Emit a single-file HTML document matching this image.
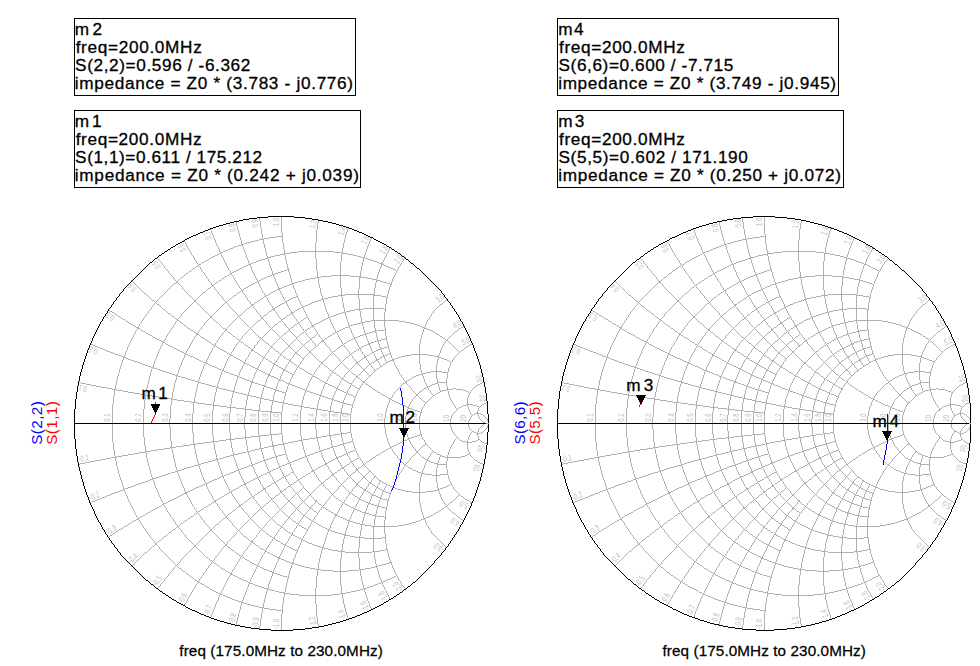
<!DOCTYPE html>
<html><head><meta charset="utf-8"><title>Smith charts</title>
<style>
html,body{margin:0;padding:0;background:#fff;}
body{width:980px;height:666px;overflow:hidden;}
svg{display:block;}
text{font-family:"Liberation Sans",Arial,sans-serif;}
.tl text{font-size:8.8px;}
.bx,.mk{font-size:17.2px;fill:#000;stroke:#000;stroke-width:0.3px;}
.ax{font-size:14.8px;fill:#000;stroke:#000;stroke-width:0.25px;}
.tr{font-size:14.8px;}
</style></head><body>
<svg width="980" height="666" viewBox="0 0 980 666">
<rect width="980" height="666" fill="#fff"/>

<g shape-rendering="crispEdges" fill="none" stroke-width="1">
<path stroke="#b0b0b0" d="M235 221.5h1M210 229.5h1M276 236.5h6M269 237.5h7M264 238.5h5M259 239.5h3M263 239.5h1M183 240.5h1M255 240.5h4M184 241.5h1M251 241.5h4M247 242.5h4M244 243.5h3M242 244.5h2M238 245.5h3M235 246.5h3M233 247.5h2M390 247.5h1M230 248.5h3M228 249.5h2M189 250.5h1M225 250.5h3M223 251.5h2M298 251.5h36M220 252.5h3M290 252.5h8M334 252.5h9M219 253.5h2M284 253.5h6M342 253.5h6M217 254.5h2M280 254.5h4M348 254.5h5M192 255.5h1M215 255.5h2M275 255.5h5M353 255.5h4M213 256.5h2M271 256.5h4M357 256.5h4M211 257.5h2M267 257.5h4M361 257.5h2M364 257.5h1M405 257.5h1M209 258.5h2M265 258.5h3M365 258.5h3M404 258.5h1M158 259.5h1M208 259.5h1M261 259.5h4M368 259.5h3M159 260.5h1M195 260.5h1M206 260.5h2M258 260.5h3M371 260.5h3M160 261.5h1M204 261.5h2M256 261.5h2M374 261.5h3M402 261.5h1M202 262.5h2M253 262.5h3M377 262.5h2M197 263.5h1M201 263.5h1M251 263.5h2M379 263.5h4M162 264.5h1M198 264.5h3M248 264.5h3M382 264.5h2M163 265.5h1M246 265.5h2M384 265.5h2M196 266.5h2M199 266.5h1M244 266.5h2M386 266.5h2M399 266.5h1M195 267.5h1M242 267.5h2M388 267.5h3M165 268.5h1M193 268.5h2M240 268.5h2M391 268.5h2M166 269.5h1M192 269.5h1M238 269.5h2M287 269.5h1M393 269.5h2M167 270.5h1M191 270.5h1M229 270.5h1M236 270.5h2M284 270.5h3M395 270.5h1M189 271.5h2M202 271.5h1M234 271.5h2M281 271.5h3M188 272.5h1M203 272.5h1M232 272.5h2M278 272.5h3M169 273.5h1M186 273.5h2M231 273.5h1M275 273.5h3M170 274.5h1M185 274.5h1M229 274.5h1M273 274.5h2M171 275.5h1M184 275.5h1M205 275.5h1M227 275.5h2M232 275.5h1M270 275.5h2M331 275.5h9M341 275.5h9M172 276.5h1M183 276.5h1M225 276.5h2M267 276.5h3M321 276.5h10M350 276.5h9M360 276.5h1M181 277.5h2M224 277.5h1M265 277.5h2M315 277.5h2M319 277.5h2M360 277.5h7M180 278.5h1M207 278.5h1M222 278.5h2M263 278.5h2M310 278.5h5M367 278.5h5M174 279.5h1M179 279.5h1M221 279.5h1M261 279.5h2M305 279.5h5M372 279.5h5M131 280.5h1M175 280.5h1M178 280.5h1M219 280.5h2M259 280.5h2M302 280.5h3M376 280.5h4M132 281.5h1M176 281.5h2M209 281.5h1M218 281.5h1M257 281.5h1M298 281.5h4M380 281.5h3M133 282.5h1M176 282.5h2M210 282.5h1M216 282.5h2M236 282.5h1M255 282.5h2M295 282.5h3M383 282.5h4M134 283.5h1M174 283.5h2M178 283.5h1M215 283.5h1M253 283.5h2M292 283.5h3M387 283.5h3M135 284.5h1M173 284.5h1M179 284.5h1M214 284.5h1M251 284.5h2M289 284.5h4M136 285.5h1M172 285.5h1M180 285.5h1M212 285.5h2M238 285.5h1M249 285.5h2M287 285.5h2M137 286.5h1M171 286.5h1M181 286.5h1M211 286.5h1M248 286.5h1M284 286.5h3M138 287.5h1M170 287.5h1M210 287.5h1M246 287.5h2M282 287.5h2M139 288.5h1M169 288.5h1M208 288.5h2M240 288.5h1M244 288.5h2M278 288.5h4M140 289.5h1M168 289.5h1M183 289.5h1M207 289.5h1M215 289.5h1M243 289.5h1M277 289.5h1M279 289.5h1M141 290.5h1M167 290.5h1M184 290.5h1M206 290.5h1M216 290.5h1M241 290.5h1M275 290.5h2M142 291.5h1M166 291.5h1M185 291.5h1M205 291.5h1M217 291.5h1M240 291.5h1M273 291.5h2M143 292.5h1M165 292.5h1M186 292.5h1M203 292.5h2M238 292.5h2M263 292.5h1M271 292.5h2M144 293.5h2M164 293.5h1M187 293.5h1M202 293.5h1M237 293.5h1M243 293.5h1M270 293.5h1M146 294.5h1M163 294.5h1M188 294.5h1M201 294.5h1M219 294.5h1M236 294.5h1M244 294.5h1M268 294.5h2M345 294.5h30M147 295.5h1M162 295.5h1M189 295.5h1M200 295.5h1M220 295.5h1M234 295.5h2M265 295.5h3M338 295.5h3M342 295.5h3M374 295.5h7M148 296.5h1M161 296.5h1M190 296.5h1M199 296.5h1M221 296.5h1M233 296.5h1M264 296.5h2M296 296.5h1M332 296.5h6M381 296.5h5M149 297.5h1M160 297.5h1M191 297.5h1M198 297.5h1M232 297.5h1M246 297.5h1M263 297.5h1M266 297.5h1M293 297.5h3M328 297.5h4M150 298.5h1M159 298.5h1M192 298.5h1M197 298.5h1M230 298.5h2M261 298.5h2M291 298.5h2M324 298.5h4M151 299.5h1M158 299.5h1M193 299.5h1M196 299.5h1M223 299.5h1M229 299.5h1M260 299.5h1M289 299.5h2M321 299.5h1M446 299.5h1M152 300.5h2M157 300.5h1M194 300.5h2M224 300.5h1M228 300.5h1M248 300.5h1M258 300.5h2M287 300.5h2M318 300.5h3M445 300.5h1M154 301.5h1M156 301.5h1M194 301.5h2M227 301.5h1M249 301.5h1M257 301.5h1M285 301.5h1M315 301.5h3M444 301.5h1M155 302.5h1M193 302.5h1M196 302.5h1M225 302.5h2M255 302.5h2M269 302.5h1M284 302.5h1M312 302.5h3M443 302.5h1M156 303.5h1M192 303.5h1M197 303.5h1M224 303.5h1M227 303.5h1M254 303.5h1M282 303.5h2M310 303.5h2M442 303.5h1M157 304.5h2M191 304.5h1M198 304.5h1M223 304.5h1M251 304.5h3M280 304.5h2M308 304.5h2M440 304.5h2M153 305.5h1M159 305.5h1M190 305.5h1M199 305.5h1M222 305.5h1M251 305.5h2M271 305.5h1M278 305.5h2M305 305.5h3M439 305.5h1M152 306.5h1M160 306.5h1M189 306.5h1M200 306.5h1M221 306.5h1M229 306.5h1M250 306.5h1M277 306.5h1M302 306.5h3M438 306.5h1M161 307.5h1M188 307.5h1M201 307.5h1M220 307.5h1M230 307.5h1M249 307.5h1M275 307.5h2M301 307.5h2M437 307.5h1M162 308.5h1M187 308.5h1M202 308.5h1M219 308.5h1M231 308.5h1M247 308.5h2M254 308.5h1M273 308.5h1M299 308.5h2M363 308.5h10M374 308.5h10M436 308.5h1M108 309.5h1M150 309.5h1M163 309.5h2M186 309.5h1M203 309.5h1M218 309.5h1M232 309.5h1M246 309.5h1M255 309.5h1M272 309.5h3M297 309.5h2M355 309.5h4M360 309.5h3M384 309.5h1M435 309.5h1M109 310.5h1M149 310.5h1M165 310.5h1M185 310.5h1M204 310.5h1M217 310.5h1M233 310.5h1M245 310.5h1M271 310.5h1M290 310.5h1M295 310.5h2M350 310.5h5M434 310.5h1M110 311.5h2M166 311.5h1M184 311.5h1M205 311.5h1M216 311.5h1M234 311.5h1M244 311.5h1M269 311.5h2M275 311.5h1M294 311.5h1M346 311.5h4M112 312.5h2M167 312.5h1M183 312.5h1M206 312.5h1M215 312.5h1M235 312.5h1M243 312.5h1M257 312.5h1M268 312.5h1M291 312.5h3M342 312.5h2M345 312.5h1M114 313.5h1M147 313.5h1M168 313.5h2M182 313.5h1M207 313.5h1M214 313.5h1M236 313.5h1M242 313.5h1M258 313.5h1M267 313.5h1M339 313.5h3M432 313.5h1M115 314.5h2M146 314.5h1M170 314.5h1M208 314.5h1M213 314.5h1M241 314.5h1M259 314.5h1M266 314.5h1M277 314.5h1M289 314.5h2M336 314.5h3M117 315.5h1M171 315.5h1M209 315.5h1M212 315.5h1M239 315.5h2M264 315.5h2M287 315.5h2M293 315.5h1M333 315.5h3M118 316.5h2M172 316.5h2M180 316.5h1M210 316.5h2M238 316.5h1M263 316.5h1M286 316.5h1M330 316.5h3M430 316.5h1M120 317.5h1M144 317.5h1M174 317.5h1M179 317.5h1M210 317.5h2M237 317.5h1M239 317.5h1M261 317.5h2M279 317.5h1M285 317.5h1M306 317.5h2M329 317.5h1M121 318.5h2M175 318.5h1M178 318.5h1M209 318.5h1M212 318.5h1M236 318.5h1M240 318.5h1M261 318.5h2M280 318.5h1M283 318.5h2M295 318.5h1M304 318.5h2M326 318.5h2M123 319.5h2M176 319.5h2M208 319.5h1M213 319.5h1M235 319.5h1M241 319.5h1M260 319.5h1M263 319.5h1M281 319.5h2M303 319.5h1M324 319.5h2M428 319.5h1M125 320.5h1M142 320.5h1M177 320.5h2M207 320.5h1M214 320.5h1M234 320.5h1M242 320.5h1M258 320.5h2M264 320.5h1M301 320.5h2M309 320.5h1M322 320.5h2M371 320.5h28M126 321.5h2M176 321.5h1M179 321.5h1M206 321.5h1M215 321.5h1M233 321.5h1M243 321.5h1M257 321.5h1M265 321.5h1M279 321.5h2M282 321.5h1M297 321.5h1M300 321.5h1M320 321.5h2M365 321.5h6M399 321.5h6M128 322.5h1M180 322.5h2M205 322.5h1M216 322.5h2M232 322.5h1M244 322.5h1M256 322.5h1M278 322.5h1M283 322.5h1M298 322.5h2M318 322.5h2M362 322.5h3M405 322.5h5M129 323.5h2M140 323.5h1M182 323.5h1M218 323.5h1M231 323.5h1M245 323.5h1M255 323.5h1M277 323.5h1M284 323.5h1M297 323.5h2M316 323.5h2M357 323.5h4M410 323.5h4M131 324.5h2M174 324.5h1M183 324.5h1M219 324.5h1M230 324.5h1M246 324.5h1M254 324.5h1M267 324.5h1M275 324.5h2M295 324.5h2M299 324.5h1M314 324.5h2M353 324.5h4M414 324.5h3M133 325.5h1M184 325.5h2M203 325.5h1M220 325.5h1M229 325.5h1M247 325.5h1M253 325.5h1M268 325.5h1M274 325.5h1M294 325.5h1M312 325.5h1M349 325.5h4M417 325.5h3M134 326.5h2M186 326.5h1M202 326.5h1M221 326.5h1M228 326.5h1M248 326.5h1M252 326.5h1M269 326.5h1M273 326.5h1M286 326.5h1M293 326.5h1M311 326.5h3M348 326.5h1M420 326.5h2M463 326.5h1M136 327.5h3M172 327.5h1M187 327.5h1M222 327.5h1M227 327.5h1M249 327.5h1M251 327.5h1M270 327.5h1M272 327.5h1M287 327.5h1M291 327.5h2M301 327.5h1M310 327.5h1M345 327.5h3M422 327.5h3M461 327.5h2M137 328.5h3M188 328.5h2M223 328.5h2M250 328.5h1M271 328.5h1M288 328.5h1M290 328.5h1M302 328.5h1M308 328.5h2M314 328.5h1M343 328.5h2M424 328.5h3M459 328.5h2M140 329.5h1M190 329.5h1M200 329.5h1M225 329.5h1M249 329.5h1M251 329.5h1M270 329.5h1M272 329.5h1M307 329.5h1M341 329.5h2M384 329.5h1M427 329.5h3M458 329.5h1M136 330.5h1M141 330.5h2M170 330.5h1M191 330.5h2M199 330.5h1M225 330.5h1M248 330.5h1M252 330.5h1M269 330.5h1M273 330.5h1M288 330.5h2M305 330.5h2M339 330.5h2M377 330.5h7M430 330.5h2M457 330.5h1M143 331.5h2M193 331.5h1M224 331.5h1M227 331.5h1M247 331.5h1M253 331.5h1M268 331.5h1M274 331.5h1M287 331.5h1M290 331.5h1M304 331.5h1M316 331.5h1M337 331.5h2M373 331.5h2M376 331.5h1M432 331.5h2M455 331.5h2M145 332.5h1M194 332.5h2M223 332.5h1M228 332.5h2M246 332.5h1M254 332.5h1M267 332.5h1M275 332.5h1M286 332.5h1M291 332.5h1M303 332.5h1M305 332.5h1M336 332.5h1M369 332.5h4M434 332.5h1M454 332.5h1M146 333.5h2M168 333.5h1M197 333.5h1M230 333.5h1M245 333.5h1M255 333.5h1M266 333.5h1M276 333.5h1M284 333.5h2M292 333.5h1M301 333.5h2M333 333.5h2M365 333.5h4M435 333.5h2M453 333.5h1M148 334.5h2M196 334.5h3M231 334.5h1M244 334.5h1M256 334.5h1M265 334.5h1M277 334.5h1M283 334.5h1M293 334.5h1M300 334.5h1M316 334.5h1M318 334.5h1M332 334.5h1M363 334.5h3M437 334.5h2M452 334.5h1M150 335.5h2M199 335.5h1M221 335.5h1M232 335.5h1M243 335.5h1M257 335.5h1M264 335.5h1M278 335.5h1M282 335.5h1M294 335.5h1M299 335.5h1M307 335.5h1M315 335.5h1M330 335.5h2M360 335.5h3M439 335.5h1M451 335.5h1M152 336.5h1M195 336.5h1M200 336.5h1M220 336.5h1M233 336.5h2M258 336.5h1M263 336.5h1M279 336.5h1M281 336.5h1M295 336.5h1M298 336.5h1M308 336.5h1M314 336.5h1M328 336.5h2M358 336.5h2M440 336.5h2M450 336.5h1M153 337.5h2M201 337.5h2M235 337.5h1M259 337.5h2M262 337.5h1M280 337.5h1M296 337.5h2M309 337.5h1M312 337.5h2M320 337.5h1M327 337.5h1M354 337.5h4M442 337.5h1M449 337.5h1M155 338.5h2M203 338.5h2M236 338.5h1M241 338.5h1M261 338.5h1M279 338.5h1M281 338.5h1M310 338.5h2M321 338.5h1M325 338.5h2M353 338.5h2M385 338.5h1M443 338.5h2M448 338.5h1M157 339.5h2M193 339.5h1M205 339.5h1M218 339.5h1M237 339.5h2M240 339.5h1M260 339.5h1M262 339.5h1M278 339.5h1M282 339.5h1M295 339.5h1M297 339.5h1M324 339.5h1M340 339.5h1M351 339.5h2M381 339.5h4M445 339.5h1M159 340.5h2M164 340.5h1M206 340.5h2M259 340.5h1M263 340.5h1M277 340.5h1M283 340.5h1M294 340.5h1M298 340.5h1M309 340.5h1M311 340.5h1M323 340.5h1M349 340.5h2M377 340.5h4M446 340.5h2M161 341.5h3M208 341.5h1M239 341.5h2M258 341.5h1M264 341.5h1M276 341.5h1M284 341.5h1M293 341.5h1M299 341.5h1M308 341.5h1M312 341.5h1M321 341.5h3M347 341.5h2M374 341.5h3M448 341.5h1M163 342.5h2M209 342.5h2M216 342.5h1M238 342.5h1M241 342.5h2M265 342.5h1M275 342.5h1M285 342.5h1M292 342.5h1M300 342.5h1M306 342.5h2M313 342.5h1M320 342.5h1M324 342.5h1M346 342.5h1M371 342.5h3M449 342.5h1M90 343.5h1M165 343.5h1M211 343.5h1M237 343.5h1M243 343.5h1M266 343.5h2M274 343.5h1M286 343.5h1M291 343.5h1M301 343.5h1M305 343.5h1M314 343.5h1M319 343.5h1M344 343.5h2M369 343.5h2M444 343.5h1M450 343.5h1M472 343.5h1M91 344.5h2M166 344.5h2M212 344.5h2M244 344.5h1M256 344.5h1M268 344.5h1M273 344.5h1M287 344.5h1M290 344.5h1M302 344.5h1M304 344.5h1M318 344.5h1M343 344.5h1M367 344.5h1M369 344.5h1M451 344.5h1M470 344.5h2M93 345.5h2M168 345.5h2M214 345.5h1M245 345.5h2M255 345.5h1M269 345.5h1M272 345.5h1M288 345.5h2M303 345.5h1M317 345.5h1M326 345.5h1M341 345.5h2M364 345.5h3M452 345.5h1M468 345.5h2M95 346.5h3M170 346.5h2M216 346.5h1M235 346.5h1M247 346.5h1M270 346.5h2M288 346.5h2M302 346.5h1M304 346.5h1M316 346.5h1M327 346.5h1M340 346.5h1M362 346.5h2M387 346.5h1M453 346.5h1M467 346.5h1M98 347.5h2M172 347.5h2M213 347.5h1M217 347.5h2M248 347.5h2M271 347.5h2M287 347.5h1M290 347.5h1M301 347.5h1M305 347.5h1M314 347.5h2M328 347.5h1M338 347.5h2M345 347.5h1M361 347.5h1M384 347.5h3M454 347.5h1M465 347.5h2M100 348.5h3M174 348.5h2M188 348.5h1M219 348.5h1M250 348.5h1M253 348.5h1M270 348.5h1M273 348.5h1M286 348.5h1M291 348.5h1M300 348.5h1M306 348.5h1M313 348.5h1M329 348.5h1M337 348.5h1M346 348.5h1M359 348.5h1M380 348.5h4M455 348.5h1M464 348.5h1M103 349.5h2M176 349.5h2M220 349.5h2M252 349.5h1M269 349.5h1M274 349.5h1M285 349.5h1M292 349.5h1M299 349.5h1M307 349.5h1M312 349.5h1M336 349.5h1M357 349.5h2M378 349.5h3M456 349.5h1M463 349.5h1M105 350.5h2M178 350.5h2M222 350.5h2M251 350.5h3M275 350.5h1M284 350.5h1M293 350.5h1M298 350.5h1M308 350.5h1M311 350.5h1M335 350.5h1M356 350.5h1M376 350.5h2M457 350.5h1M461 350.5h2M107 351.5h3M180 351.5h2M224 351.5h2M232 351.5h1M254 351.5h1M276 351.5h2M283 351.5h1M294 351.5h1M297 351.5h1M309 351.5h2M331 351.5h1M333 351.5h2M348 351.5h1M354 351.5h2M361 351.5h1M374 351.5h2M458 351.5h1M460 351.5h1M110 352.5h3M182 352.5h2M226 352.5h1M250 352.5h1M255 352.5h2M267 352.5h1M278 352.5h1M282 352.5h1M295 352.5h2M309 352.5h2M332 352.5h1M353 352.5h1M372 352.5h2M459 352.5h1M113 353.5h2M184 353.5h2M227 353.5h2M257 353.5h1M266 353.5h1M279 353.5h1M295 353.5h2M308 353.5h1M311 353.5h1M331 353.5h1M333 353.5h1M351 353.5h2M370 353.5h2M389 353.5h1M458 353.5h1M115 354.5h3M185 354.5h3M229 354.5h2M258 354.5h2M280 354.5h2M294 354.5h1M297 354.5h2M307 354.5h1M312 354.5h1M330 354.5h1M334 354.5h1M350 354.5h1M363 354.5h1M369 354.5h1M387 354.5h2M411 354.5h8M420 354.5h8M457 354.5h1M118 355.5h3M188 355.5h2M230 355.5h3M260 355.5h1M282 355.5h1M299 355.5h1M306 355.5h1M313 355.5h1M329 355.5h1M335 355.5h1M349 355.5h1M351 355.5h1M367 355.5h2M385 355.5h2M405 355.5h6M428 355.5h6M456 355.5h1M121 356.5h2M190 356.5h3M229 356.5h1M233 356.5h1M261 356.5h2M279 356.5h1M283 356.5h1M300 356.5h1M305 356.5h1M314 356.5h1M328 356.5h1M336 356.5h1M348 356.5h1M364 356.5h3M382 356.5h3M401 356.5h4M434 356.5h5M455 356.5h1M123 357.5h3M193 357.5h2M234 357.5h2M247 357.5h1M263 357.5h2M284 357.5h2M292 357.5h1M301 357.5h1M304 357.5h1M315 357.5h1M327 357.5h1M337 357.5h1M346 357.5h2M365 357.5h1M380 357.5h2M398 357.5h3M439 357.5h2M454 357.5h1M126 358.5h2M195 358.5h2M236 358.5h2M265 358.5h1M286 358.5h1M291 358.5h1M302 358.5h2M316 358.5h1M326 358.5h1M338 358.5h1M345 358.5h1M353 358.5h1M362 358.5h2M379 358.5h1M395 358.5h3M441 358.5h3M128 359.5h3M197 359.5h2M238 359.5h2M266 359.5h2M277 359.5h1M287 359.5h2M317 359.5h1M325 359.5h1M344 359.5h1M354 359.5h1M361 359.5h1M376 359.5h3M392 359.5h3M444 359.5h3M131 360.5h3M199 360.5h2M240 360.5h2M268 360.5h1M289 360.5h1M302 360.5h1M318 360.5h1M324 360.5h1M343 360.5h1M355 360.5h1M360 360.5h1M367 360.5h1M375 360.5h3M390 360.5h4M447 360.5h2M134 361.5h3M201 361.5h2M242 361.5h1M261 361.5h1M269 361.5h2M289 361.5h1M301 361.5h1M319 361.5h2M323 361.5h1M340 361.5h1M342 361.5h1M358 361.5h2M374 361.5h1M388 361.5h2M449 361.5h2M137 362.5h3M203 362.5h3M243 362.5h2M271 362.5h1M275 362.5h1M291 362.5h2M321 362.5h2M341 362.5h1M357 362.5h1M372 362.5h2M386 362.5h2M451 362.5h1M140 363.5h2M205 363.5h3M244 363.5h3M272 363.5h3M293 363.5h1M321 363.5h2M340 363.5h1M342 363.5h1M357 363.5h1M371 363.5h1M385 363.5h1M142 364.5h3M208 364.5h2M247 364.5h2M274 364.5h2M287 364.5h1M294 364.5h2M299 364.5h1M320 364.5h1M323 364.5h1M339 364.5h1M343 364.5h1M355 364.5h1M358 364.5h1M369 364.5h2M383 364.5h2M145 365.5h3M210 365.5h2M249 365.5h2M276 365.5h2M296 365.5h1M324 365.5h1M338 365.5h1M344 365.5h1M354 365.5h1M359 365.5h1M368 365.5h1M382 365.5h1M148 366.5h3M212 366.5h3M251 366.5h2M278 366.5h1M297 366.5h2M325 366.5h2M337 366.5h1M345 366.5h1M353 366.5h1M360 366.5h1M367 366.5h1M380 366.5h2M151 367.5h2M215 367.5h2M253 367.5h2M279 367.5h2M299 367.5h1M318 367.5h1M327 367.5h1M336 367.5h1M346 367.5h1M352 367.5h1M361 367.5h1M366 367.5h1M372 367.5h1M379 367.5h1M396 367.5h1M154 368.5h3M217 368.5h2M255 368.5h3M281 368.5h2M300 368.5h2M317 368.5h1M328 368.5h1M335 368.5h1M347 368.5h1M351 368.5h1M362 368.5h1M365 368.5h1M373 368.5h1M377 368.5h2M157 369.5h3M219 369.5h3M257 369.5h2M284 369.5h1M302 369.5h2M329 369.5h1M334 369.5h1M348 369.5h1M350 369.5h1M363 369.5h2M376 369.5h1M160 370.5h3M222 370.5h1M259 370.5h2M283 370.5h3M304 370.5h1M330 370.5h2M333 370.5h1M349 370.5h1M363 370.5h2M375 370.5h1M163 371.5h3M224 371.5h2M261 371.5h2M286 371.5h2M305 371.5h2M315 371.5h1M348 371.5h1M350 371.5h1M362 371.5h1M365 371.5h1M431 371.5h5M437 371.5h5M166 372.5h3M226 372.5h3M263 372.5h2M288 372.5h2M307 372.5h1M332 372.5h2M347 372.5h1M351 372.5h1M361 372.5h1M366 372.5h1M373 372.5h1M426 372.5h5M442 372.5h6M169 373.5h3M229 373.5h2M265 373.5h2M290 373.5h2M308 373.5h2M331 373.5h1M334 373.5h2M346 373.5h1M352 373.5h1M360 373.5h1M367 373.5h1M372 373.5h1M422 373.5h4M172 374.5h3M231 374.5h3M267 374.5h3M293 374.5h1M310 374.5h2M313 374.5h1M336 374.5h1M345 374.5h1M353 374.5h2M359 374.5h1M368 374.5h1M371 374.5h1M400 374.5h1M419 374.5h4M175 375.5h1M177 375.5h1M234 375.5h3M268 375.5h3M337 375.5h2M355 375.5h1M358 375.5h1M369 375.5h2M416 375.5h3M178 376.5h3M238 376.5h1M271 376.5h3M312 376.5h3M329 376.5h1M339 376.5h1M356 376.5h2M414 376.5h2M181 377.5h4M239 377.5h3M274 377.5h2M315 377.5h2M340 377.5h1M343 377.5h1M356 377.5h2M368 377.5h1M402 377.5h1M412 377.5h2M185 378.5h3M242 378.5h2M276 378.5h2M317 378.5h2M341 378.5h2M355 378.5h1M358 378.5h2M367 378.5h1M411 378.5h1M188 379.5h3M244 379.5h3M278 379.5h2M319 379.5h1M342 379.5h2M354 379.5h1M360 379.5h1M366 379.5h1M409 379.5h2M191 380.5h4M247 380.5h3M279 380.5h4M320 380.5h2M341 380.5h1M344 380.5h2M361 380.5h1M365 380.5h1M404 380.5h1M407 380.5h2M195 381.5h4M250 381.5h1M283 381.5h2M322 381.5h2M326 381.5h1M346 381.5h1M362 381.5h3M405 381.5h1M78 382.5h3M199 382.5h2M251 382.5h4M285 382.5h2M324 382.5h2M347 382.5h2M352 382.5h1M363 382.5h2M405 382.5h1M437 382.5h10M482 382.5h3M81 383.5h5M201 383.5h4M255 383.5h3M287 383.5h3M325 383.5h3M349 383.5h3M365 383.5h1M403 383.5h2M435 383.5h2M480 383.5h2M86 384.5h5M205 384.5h4M258 384.5h3M290 384.5h2M328 384.5h2M366 384.5h2M402 384.5h1M407 384.5h1M432 384.5h3M478 384.5h2M91 385.5h5M209 385.5h3M261 385.5h4M292 385.5h3M330 385.5h2M338 385.5h1M352 385.5h2M361 385.5h1M368 385.5h1M401 385.5h1M408 385.5h1M430 385.5h2M476 385.5h2M96 386.5h5M212 386.5h4M264 386.5h3M295 386.5h2M332 386.5h2M354 386.5h1M369 386.5h2M400 386.5h1M409 386.5h1M427 386.5h3M475 386.5h1M101 387.5h6M218 387.5h1M267 387.5h3M297 387.5h3M334 387.5h2M355 387.5h2M371 387.5h1M399 387.5h1M410 387.5h1M426 387.5h2M474 387.5h1M107 388.5h5M219 388.5h4M270 388.5h3M300 388.5h2M357 388.5h3M372 388.5h1M398 388.5h1M424 388.5h2M453 388.5h3M473 388.5h1M112 389.5h2M115 389.5h2M223 389.5h4M273 389.5h3M302 389.5h3M338 389.5h2M348 389.5h1M373 389.5h2M397 389.5h1M423 389.5h1M446 389.5h7M456 389.5h7M472 389.5h1M117 390.5h6M227 390.5h4M275 390.5h4M340 390.5h2M358 390.5h1M375 390.5h2M396 390.5h1M412 390.5h1M422 390.5h1M429 390.5h1M442 390.5h4M463 390.5h3M471 390.5h1M123 391.5h5M231 391.5h4M279 391.5h3M307 391.5h3M342 391.5h2M377 391.5h1M395 391.5h1M413 391.5h1M420 391.5h2M440 391.5h2M466 391.5h2M128 392.5h6M235 392.5h4M282 392.5h4M310 392.5h3M344 392.5h2M378 392.5h2M414 392.5h1M419 392.5h1M438 392.5h2M468 392.5h1M134 393.5h6M239 393.5h4M313 393.5h3M346 393.5h1M380 393.5h1M415 393.5h1M418 393.5h1M431 393.5h1M436 393.5h2M140 394.5h5M243 394.5h4M316 394.5h3M348 394.5h3M381 394.5h2M393 394.5h1M416 394.5h2M432 394.5h1M435 394.5h1M145 395.5h7M248 395.5h3M319 395.5h3M351 395.5h2M383 395.5h2M416 395.5h2M433 395.5h2M152 396.5h6M251 396.5h5M322 396.5h3M353 396.5h3M385 396.5h2M415 396.5h1M418 396.5h1M432 396.5h1M158 397.5h6M256 397.5h4M325 397.5h3M387 397.5h1M391 397.5h1M414 397.5h1M419 397.5h1M431 397.5h1M164 398.5h8M262 398.5h2M328 398.5h3M388 398.5h3M413 398.5h1M420 398.5h1M430 398.5h1M172 399.5h5M264 399.5h5M331 399.5h1M333 399.5h1M390 399.5h2M421 399.5h1M429 399.5h1M177 400.5h7M269 400.5h4M334 400.5h3M392 400.5h2M422 400.5h1M428 400.5h1M184 401.5h7M274 401.5h4M337 401.5h3M394 401.5h2M411 401.5h1M423 401.5h2M427 401.5h1M191 402.5h2M194 402.5h4M278 402.5h6M340 402.5h4M396 402.5h2M425 402.5h2M452 402.5h1M486 402.5h2M198 403.5h7M283 403.5h5M343 403.5h4M398 403.5h2M484 403.5h2M205 404.5h7M288 404.5h5M347 404.5h4M400 404.5h2M466 404.5h1M468 404.5h5M482 404.5h2M212 405.5h8M293 405.5h6M351 405.5h1M402 405.5h3M454 405.5h1M463 405.5h3M473 405.5h4M481 405.5h1M220 406.5h7M299 406.5h2M302 406.5h2M405 406.5h2M423 406.5h1M461 406.5h2M477 406.5h2M480 406.5h1M227 407.5h9M304 407.5h6M407 407.5h1M459 407.5h2M479 407.5h1M236 408.5h8M310 408.5h6M408 408.5h4M456 408.5h1M458 408.5h1M244 409.5h1M246 409.5h6M317 409.5h5M412 409.5h2M457 409.5h1M252 410.5h6M259 410.5h2M322 410.5h6M414 410.5h3M456 410.5h1M261 411.5h9M271 411.5h1M328 411.5h1M330 411.5h4M417 411.5h3M455 411.5h1M271 412.5h9M334 412.5h8M454 412.5h1M280 413.5h1M341 413.5h7M453 413.5h1M475 413.5h6M348 414.5h2M471 414.5h1M473 414.5h2M481 414.5h2M472 415.5h1M483 415.5h1M471 416.5h1M484 416.5h1M485 417.5h1M486 418.5h1M480 419.5h1M481 420.5h1M482 421.5h1M483 422.5h2M484 423.5h5M483 424.5h1M482 425.5h1M481 426.5h1M480 427.5h1M479 428.5h1M486 428.5h1M470 429.5h1M485 429.5h1M471 430.5h1M484 430.5h1M472 431.5h2M483 431.5h1M347 432.5h3M471 432.5h1M474 432.5h2M481 432.5h2M279 433.5h2M340 433.5h7M476 433.5h5M269 434.5h1M271 434.5h8M334 434.5h6M454 434.5h1M259 435.5h10M327 435.5h2M330 435.5h4M417 435.5h3M455 435.5h1M251 436.5h9M321 436.5h6M414 436.5h3M456 436.5h1M243 437.5h2M246 437.5h5M315 437.5h1M317 437.5h4M411 437.5h3M457 437.5h1M235 438.5h8M309 438.5h6M408 438.5h3M456 438.5h1M458 438.5h1M226 439.5h9M303 439.5h6M407 439.5h1M423 439.5h1M455 439.5h1M459 439.5h1M479 439.5h1M219 440.5h7M298 440.5h3M302 440.5h1M404 440.5h3M460 440.5h2M476 440.5h2M480 440.5h1M211 441.5h8M293 441.5h5M351 441.5h1M402 441.5h2M462 441.5h4M472 441.5h4M481 441.5h1M204 442.5h7M288 442.5h5M347 442.5h4M400 442.5h2M466 442.5h1M468 442.5h4M482 442.5h2M197 443.5h7M283 443.5h5M343 443.5h4M398 443.5h2M484 443.5h3M190 444.5h7M278 444.5h6M340 444.5h4M396 444.5h2M411 444.5h1M426 444.5h1M452 444.5h1M487 444.5h1M183 445.5h7M272 445.5h6M337 445.5h3M394 445.5h2M423 445.5h2M427 445.5h1M176 446.5h7M268 446.5h6M332 446.5h5M392 446.5h2M422 446.5h1M428 446.5h1M170 447.5h1M172 447.5h4M264 447.5h4M330 447.5h3M390 447.5h2M413 447.5h1M421 447.5h1M429 447.5h1M164 448.5h6M259 448.5h1M261 448.5h3M327 448.5h3M388 448.5h2M414 448.5h1M420 448.5h1M430 448.5h1M157 449.5h7M255 449.5h4M324 449.5h3M386 449.5h2M419 449.5h1M431 449.5h1M151 450.5h6M251 450.5h4M320 450.5h4M353 450.5h3M385 450.5h1M418 450.5h1M432 450.5h1M146 451.5h5M248 451.5h3M318 451.5h3M350 451.5h3M383 451.5h2M416 451.5h2M433 451.5h1M139 452.5h7M242 452.5h5M315 452.5h3M348 452.5h2M381 452.5h2M416 452.5h2M432 452.5h1M434 452.5h2M134 453.5h5M238 453.5h4M313 453.5h2M380 453.5h1M394 453.5h1M415 453.5h1M418 453.5h1M431 453.5h1M436 453.5h1M128 454.5h6M233 454.5h5M282 454.5h3M310 454.5h3M344 454.5h2M378 454.5h2M395 454.5h1M414 454.5h1M419 454.5h1M437 454.5h3M467 454.5h2M122 455.5h6M230 455.5h3M278 455.5h4M307 455.5h3M342 455.5h2M376 455.5h2M396 455.5h1M413 455.5h1M420 455.5h1M440 455.5h2M465 455.5h2M117 456.5h5M226 456.5h4M275 456.5h1M277 456.5h1M306 456.5h1M339 456.5h3M348 456.5h1M375 456.5h1M412 456.5h1M421 456.5h1M429 456.5h1M442 456.5h3M461 456.5h4M471 456.5h1M111 457.5h6M223 457.5h3M272 457.5h3M302 457.5h3M336 457.5h3M359 457.5h1M373 457.5h2M411 457.5h1M422 457.5h2M445 457.5h16M472 457.5h1M106 458.5h5M219 458.5h4M269 458.5h3M299 458.5h3M335 458.5h3M357 458.5h2M372 458.5h1M398 458.5h1M424 458.5h1M473 458.5h1M101 459.5h5M215 459.5h1M217 459.5h2M266 459.5h3M297 459.5h2M333 459.5h2M355 459.5h2M370 459.5h2M399 459.5h1M425 459.5h3M474 459.5h1M95 460.5h6M212 460.5h3M263 460.5h3M294 460.5h3M331 460.5h2M354 460.5h1M361 460.5h1M369 460.5h1M400 460.5h1M409 460.5h1M427 460.5h2M475 460.5h2M90 461.5h5M208 461.5h4M260 461.5h3M292 461.5h2M329 461.5h2M351 461.5h3M367 461.5h2M401 461.5h1M408 461.5h1M429 461.5h2M477 461.5h1M85 462.5h5M204 462.5h4M258 462.5h2M289 462.5h3M328 462.5h1M339 462.5h1M350 462.5h2M366 462.5h1M402 462.5h1M407 462.5h1M431 462.5h3M478 462.5h2M80 463.5h5M201 463.5h3M255 463.5h3M287 463.5h3M325 463.5h3M349 463.5h1M352 463.5h1M365 463.5h1M403 463.5h1M406 463.5h1M434 463.5h3M480 463.5h3M78 464.5h2M199 464.5h2M252 464.5h3M285 464.5h2M324 464.5h3M347 464.5h2M363 464.5h2M404 464.5h2M437 464.5h10M483 464.5h2M194 465.5h5M249 465.5h4M282 465.5h3M322 465.5h2M346 465.5h1M362 465.5h1M405 465.5h2M191 466.5h3M247 466.5h2M279 466.5h3M320 466.5h2M327 466.5h1M344 466.5h2M354 466.5h1M361 466.5h1M365 466.5h1M404 466.5h1M407 466.5h1M187 467.5h4M244 467.5h3M278 467.5h1M318 467.5h2M342 467.5h2M355 467.5h1M359 467.5h2M366 467.5h1M408 467.5h2M184 468.5h3M241 468.5h3M276 468.5h2M317 468.5h1M341 468.5h3M358 468.5h1M367 468.5h1M410 468.5h2M181 469.5h3M238 469.5h3M273 469.5h3M315 469.5h2M329 469.5h1M340 469.5h1M357 469.5h1M368 469.5h1M402 469.5h1M412 469.5h1M177 470.5h4M236 470.5h3M271 470.5h2M312 470.5h3M338 470.5h2M357 470.5h1M413 470.5h3M175 471.5h3M234 471.5h2M270 471.5h1M311 471.5h3M337 471.5h1M345 471.5h1M355 471.5h1M358 471.5h1M369 471.5h2M416 471.5h2M171 472.5h4M231 472.5h3M267 472.5h3M291 472.5h3M310 472.5h1M331 472.5h1M335 472.5h2M346 472.5h1M353 472.5h2M359 472.5h1M368 472.5h1M371 472.5h1M400 472.5h1M418 472.5h3M168 473.5h3M229 473.5h2M265 473.5h2M290 473.5h1M308 473.5h2M334 473.5h1M352 473.5h1M360 473.5h1M367 473.5h1M372 473.5h1M421 473.5h4M165 474.5h3M226 474.5h3M263 474.5h2M288 474.5h2M306 474.5h2M315 474.5h1M333 474.5h1M351 474.5h1M361 474.5h1M366 474.5h1M373 474.5h1M425 474.5h7M440 474.5h8M162 475.5h3M224 475.5h2M261 475.5h2M286 475.5h2M295 475.5h1M305 475.5h1M331 475.5h3M348 475.5h1M350 475.5h1M362 475.5h1M365 475.5h1M432 475.5h4M437 475.5h3M159 476.5h3M221 476.5h3M259 476.5h2M271 476.5h1M284 476.5h1M303 476.5h2M330 476.5h1M334 476.5h1M349 476.5h1M363 476.5h2M375 476.5h1M156 477.5h3M219 477.5h2M257 477.5h1M282 477.5h2M302 477.5h1M317 477.5h1M329 477.5h1M335 477.5h1M348 477.5h1M350 477.5h1M363 477.5h2M376 477.5h1M397 477.5h1M152 478.5h4M217 478.5h2M255 478.5h2M281 478.5h1M297 478.5h1M300 478.5h2M328 478.5h1M347 478.5h1M351 478.5h1M362 478.5h1M365 478.5h1M373 478.5h1M377 478.5h1M150 479.5h3M214 479.5h3M253 479.5h2M279 479.5h2M298 479.5h2M326 479.5h2M346 479.5h1M352 479.5h1M361 479.5h1M366 479.5h1M372 479.5h1M378 479.5h1M148 480.5h2M212 480.5h2M251 480.5h2M277 480.5h2M297 480.5h2M319 480.5h1M325 480.5h1M337 480.5h1M345 480.5h1M353 480.5h1M360 480.5h1M367 480.5h1M379 480.5h2M145 481.5h3M210 481.5h2M249 481.5h2M276 481.5h1M287 481.5h1M296 481.5h1M299 481.5h1M320 481.5h1M324 481.5h1M338 481.5h1M344 481.5h1M354 481.5h1M359 481.5h1M368 481.5h1M380 481.5h2M142 482.5h3M208 482.5h2M247 482.5h2M274 482.5h2M294 482.5h2M323 482.5h1M339 482.5h1M343 482.5h1M355 482.5h1M358 482.5h1M369 482.5h2M382 482.5h2M139 483.5h3M205 483.5h1M207 483.5h1M244 483.5h3M272 483.5h2M293 483.5h1M321 483.5h2M340 483.5h1M342 483.5h1M357 483.5h1M369 483.5h3M384 483.5h2M136 484.5h3M203 484.5h2M243 484.5h3M261 484.5h1M271 484.5h1M289 484.5h1M291 484.5h2M301 484.5h1M320 484.5h1M341 484.5h1M357 484.5h1M372 484.5h1M378 484.5h1M386 484.5h2M450 484.5h2M134 485.5h2M201 485.5h2M241 485.5h2M269 485.5h2M302 485.5h1M319 485.5h1M340 485.5h1M342 485.5h1M358 485.5h1M373 485.5h2M388 485.5h2M448 485.5h2M131 486.5h3M199 486.5h2M239 486.5h2M267 486.5h2M277 486.5h1M288 486.5h3M318 486.5h1M324 486.5h1M339 486.5h1M343 486.5h1M355 486.5h1M359 486.5h1M367 486.5h1M375 486.5h1M390 486.5h2M446 486.5h2M128 487.5h3M196 487.5h3M238 487.5h1M266 487.5h1M287 487.5h1M291 487.5h1M317 487.5h1M325 487.5h1M344 487.5h1M354 487.5h1M360 487.5h2M376 487.5h1M392 487.5h3M443 487.5h3M125 488.5h3M194 488.5h2M236 488.5h2M263 488.5h3M286 488.5h1M292 488.5h1M302 488.5h1M304 488.5h1M316 488.5h1M326 488.5h1M345 488.5h1M353 488.5h1M362 488.5h1M378 488.5h2M395 488.5h2M440 488.5h3M192 489.5h2M234 489.5h2M264 489.5h1M279 489.5h1M284 489.5h2M301 489.5h1M305 489.5h1M315 489.5h1M327 489.5h1M337 489.5h1M346 489.5h1M363 489.5h3M380 489.5h2M397 489.5h4M437 489.5h1M439 489.5h1M454 489.5h1M120 490.5h3M190 490.5h2M232 490.5h2M248 490.5h1M261 490.5h2M283 490.5h1M300 490.5h1M306 490.5h1M314 490.5h1M328 490.5h1M336 490.5h1M347 490.5h1M364 490.5h2M382 490.5h2M401 490.5h4M433 490.5h4M455 490.5h1M118 491.5h2M188 491.5h2M230 491.5h1M260 491.5h1M280 491.5h3M294 491.5h1M299 491.5h1M307 491.5h1M313 491.5h1M329 491.5h1M335 491.5h1M348 491.5h1M351 491.5h1M366 491.5h2M383 491.5h3M405 491.5h7M426 491.5h7M456 491.5h1M115 492.5h3M185 492.5h3M229 492.5h1M258 492.5h2M266 492.5h1M281 492.5h1M295 492.5h1M297 492.5h2M308 492.5h1M312 492.5h1M330 492.5h1M334 492.5h1M350 492.5h1M368 492.5h2M386 492.5h3M412 492.5h7M420 492.5h6M457 492.5h1M112 493.5h3M184 493.5h3M210 493.5h1M227 493.5h2M250 493.5h1M257 493.5h1M267 493.5h1M279 493.5h1M282 493.5h1M296 493.5h1M309 493.5h1M311 493.5h1M331 493.5h1M333 493.5h1M351 493.5h1M370 493.5h1M373 493.5h1M389 493.5h1M458 493.5h1M110 494.5h2M182 494.5h2M225 494.5h2M255 494.5h2M278 494.5h1M283 494.5h1M295 494.5h1M297 494.5h1M332 494.5h1M352 494.5h2M371 494.5h2M459 494.5h1M107 495.5h3M180 495.5h2M224 495.5h1M254 495.5h1M276 495.5h2M294 495.5h1M298 495.5h1M309 495.5h2M331 495.5h1M333 495.5h1M348 495.5h1M354 495.5h1M361 495.5h1M372 495.5h4M458 495.5h1M460 495.5h1M105 496.5h2M178 496.5h2M222 496.5h2M233 496.5h1M252 496.5h1M269 496.5h1M275 496.5h1M293 496.5h1M308 496.5h1M311 496.5h1M330 496.5h1M334 496.5h1M347 496.5h1M355 496.5h2M376 496.5h2M457 496.5h1M461 496.5h2M102 497.5h3M176 497.5h2M188 497.5h1M220 497.5h2M251 497.5h1M270 497.5h1M274 497.5h1M285 497.5h1M292 497.5h1M307 497.5h1M312 497.5h1M335 497.5h1M357 497.5h1M378 497.5h3M456 497.5h1M463 497.5h1M100 498.5h2M174 498.5h2M219 498.5h1M249 498.5h2M271 498.5h3M286 498.5h1M291 498.5h1M300 498.5h1M306 498.5h1M313 498.5h1M336 498.5h2M358 498.5h2M380 498.5h3M455 498.5h1M464 498.5h1M97 499.5h3M172 499.5h2M217 499.5h2M235 499.5h1M248 499.5h1M254 499.5h1M287 499.5h1M290 499.5h1M301 499.5h1M305 499.5h1M314 499.5h1M328 499.5h1M338 499.5h1M345 499.5h1M359 499.5h3M383 499.5h4M454 499.5h1M465 499.5h2M95 500.5h2M170 500.5h2M214 500.5h3M247 500.5h1M255 500.5h1M270 500.5h1M272 500.5h1M288 500.5h2M302 500.5h1M304 500.5h1M316 500.5h1M327 500.5h1M339 500.5h2M362 500.5h2M453 500.5h1M467 500.5h2M92 501.5h3M168 501.5h2M214 501.5h1M245 501.5h2M269 501.5h1M273 501.5h1M288 501.5h2M303 501.5h1M316 501.5h1M326 501.5h1M341 501.5h1M364 501.5h2M443 501.5h1M452 501.5h1M469 501.5h1M90 502.5h2M166 502.5h2M212 502.5h2M237 502.5h1M244 502.5h1M268 502.5h1M274 502.5h1M287 502.5h1M290 502.5h1M302 502.5h1M304 502.5h1M317 502.5h1M343 502.5h1M366 502.5h2M450 502.5h2M470 502.5h3M163 503.5h3M211 503.5h1M216 503.5h1M238 503.5h1M243 503.5h1M257 503.5h1M266 503.5h2M275 503.5h1M286 503.5h1M291 503.5h1M301 503.5h1M305 503.5h1M314 503.5h1M318 503.5h1M344 503.5h1M368 503.5h3M449 503.5h1M162 504.5h2M209 504.5h2M241 504.5h2M258 504.5h1M265 504.5h1M276 504.5h1M285 504.5h1M292 504.5h1M300 504.5h1M306 504.5h1M313 504.5h1M319 504.5h2M324 504.5h1M345 504.5h2M371 504.5h3M445 504.5h1M448 504.5h1M161 505.5h1M208 505.5h1M240 505.5h1M259 505.5h1M264 505.5h1M284 505.5h1M293 505.5h1M299 505.5h1M307 505.5h1M312 505.5h1M321 505.5h1M323 505.5h1M347 505.5h2M374 505.5h3M446 505.5h2M159 506.5h2M193 506.5h1M206 506.5h2M218 506.5h1M238 506.5h3M263 506.5h1M283 506.5h1M294 506.5h1M298 506.5h1M308 506.5h1M311 506.5h1M322 506.5h1M349 506.5h2M377 506.5h4M445 506.5h2M157 507.5h2M165 507.5h1M204 507.5h2M237 507.5h1M241 507.5h1M262 507.5h1M278 507.5h1M282 507.5h1M295 507.5h1M297 507.5h1M309 507.5h2M323 507.5h2M340 507.5h1M351 507.5h2M381 507.5h4M444 507.5h1M447 507.5h1M155 508.5h2M203 508.5h1M236 508.5h1M261 508.5h1M279 508.5h1M281 508.5h1M296 508.5h1M310 508.5h2M325 508.5h1M353 508.5h2M385 508.5h1M442 508.5h2M448 508.5h1M153 509.5h2M195 509.5h1M201 509.5h2M220 509.5h1M235 509.5h1M259 509.5h2M262 509.5h1M280 509.5h1M297 509.5h1M309 509.5h1M312 509.5h1M320 509.5h1M326 509.5h2M354 509.5h3M441 509.5h1M449 509.5h1M151 510.5h2M200 510.5h1M221 510.5h1M233 510.5h2M243 510.5h1M258 510.5h1M263 510.5h1M279 510.5h1M281 510.5h1M298 510.5h1M308 510.5h1M313 510.5h1M328 510.5h1M357 510.5h3M439 510.5h2M450 510.5h1M150 511.5h1M198 511.5h2M232 511.5h1M244 511.5h1M257 511.5h1M264 511.5h1M278 511.5h1M282 511.5h1M294 511.5h1M299 511.5h1M307 511.5h1M314 511.5h2M329 511.5h2M360 511.5h2M438 511.5h1M451 511.5h1M148 512.5h2M168 512.5h1M197 512.5h1M231 512.5h1M245 512.5h1M256 512.5h1M265 512.5h1M277 512.5h1M283 512.5h1M293 512.5h1M300 512.5h1M306 512.5h1M316 512.5h1M318 512.5h1M331 512.5h2M362 512.5h4M436 512.5h2M452 512.5h1M146 513.5h2M195 513.5h2M223 513.5h1M229 513.5h2M246 513.5h1M255 513.5h1M266 513.5h1M276 513.5h1M284 513.5h1M292 513.5h1M301 513.5h1M333 513.5h1M365 513.5h4M434 513.5h2M453 513.5h2M145 514.5h1M194 514.5h1M224 514.5h1M228 514.5h1M247 514.5h1M254 514.5h1M267 514.5h1M275 514.5h1M285 514.5h1M291 514.5h1M302 514.5h1M334 514.5h3M369 514.5h3M433 514.5h1M455 514.5h1M143 515.5h2M193 515.5h1M199 515.5h1M225 515.5h1M227 515.5h1M253 515.5h1M268 515.5h1M274 515.5h1M286 515.5h1M290 515.5h1M303 515.5h2M316 515.5h1M335 515.5h3M372 515.5h5M431 515.5h2M456 515.5h1M141 516.5h2M191 516.5h2M200 516.5h1M252 516.5h1M269 516.5h1M273 516.5h1M287 516.5h1M305 516.5h1M315 516.5h1M338 516.5h2M377 516.5h7M429 516.5h2M457 516.5h1M137 517.5h1M139 517.5h2M171 517.5h1M190 517.5h1M225 517.5h2M249 517.5h1M251 517.5h1M270 517.5h1M272 517.5h1M288 517.5h2M306 517.5h2M340 517.5h3M384 517.5h1M426 517.5h3M458 517.5h2M172 518.5h1M188 518.5h2M223 518.5h2M227 518.5h1M250 518.5h1M271 518.5h1M290 518.5h1M308 518.5h1M343 518.5h2M424 518.5h2M460 518.5h1M136 519.5h3M187 519.5h1M202 519.5h1M222 519.5h1M228 519.5h1M249 519.5h1M251 519.5h1M270 519.5h1M272 519.5h1M287 519.5h1M291 519.5h1M301 519.5h1M309 519.5h2M345 519.5h2M421 519.5h4M461 519.5h2M134 520.5h2M185 520.5h2M203 520.5h1M221 520.5h1M229 520.5h1M248 520.5h1M252 520.5h1M269 520.5h1M273 520.5h1M286 520.5h1M292 520.5h1M311 520.5h1M347 520.5h3M419 520.5h2M463 520.5h1M132 521.5h2M174 521.5h1M184 521.5h1M220 521.5h1M230 521.5h1M247 521.5h1M253 521.5h1M268 521.5h1M274 521.5h1M293 521.5h2M312 521.5h1M349 521.5h4M416 521.5h3M131 522.5h1M140 522.5h1M183 522.5h1M219 522.5h1M231 522.5h1M246 522.5h1M254 522.5h1M267 522.5h1M275 522.5h1M295 522.5h1M299 522.5h1M314 522.5h2M353 522.5h3M412 522.5h4M129 523.5h2M181 523.5h2M205 523.5h1M218 523.5h1M245 523.5h1M255 523.5h1M266 523.5h1M276 523.5h1M284 523.5h1M296 523.5h3M316 523.5h1M356 523.5h4M409 523.5h3M128 524.5h1M176 524.5h1M180 524.5h1M206 524.5h1M216 524.5h2M244 524.5h1M256 524.5h1M277 524.5h2M283 524.5h1M317 524.5h2M360 524.5h1M362 524.5h3M404 524.5h5M126 525.5h2M142 525.5h1M179 525.5h1M207 525.5h1M215 525.5h1M233 525.5h1M243 525.5h1M257 525.5h1M279 525.5h1M282 525.5h1M297 525.5h1M299 525.5h2M319 525.5h2M365 525.5h6M398 525.5h6M427 525.5h1M124 526.5h2M177 526.5h2M208 526.5h1M214 526.5h1M234 526.5h1M242 526.5h1M258 526.5h1M264 526.5h1M280 526.5h2M301 526.5h1M309 526.5h1M321 526.5h2M371 526.5h27M123 527.5h1M176 527.5h1M213 527.5h1M235 527.5h1M241 527.5h1M259 527.5h1M263 527.5h1M281 527.5h2M302 527.5h2M323 527.5h2M121 528.5h2M144 528.5h1M175 528.5h1M179 528.5h1M212 528.5h1M236 528.5h1M240 528.5h1M260 528.5h1M262 528.5h1M280 528.5h1M283 528.5h1M295 528.5h1M304 528.5h2M325 528.5h2M119 529.5h2M173 529.5h2M180 529.5h1M210 529.5h2M237 529.5h1M239 529.5h1M261 529.5h1M279 529.5h1M284 529.5h1M306 529.5h2M327 529.5h3M118 530.5h1M172 530.5h1M210 530.5h2M238 530.5h1M260 530.5h1M262 530.5h2M285 530.5h2M330 530.5h2M430 530.5h1M116 531.5h2M146 531.5h1M171 531.5h1M209 531.5h1M212 531.5h1M237 531.5h1M239 531.5h1M264 531.5h1M287 531.5h1M293 531.5h1M332 531.5h3M115 532.5h1M169 532.5h2M182 532.5h1M208 532.5h1M213 532.5h1M240 532.5h1M265 532.5h1M277 532.5h1M288 532.5h2M335 532.5h3M113 533.5h2M168 533.5h1M183 533.5h1M207 533.5h1M214 533.5h1M241 533.5h1M258 533.5h1M266 533.5h1M290 533.5h1M338 533.5h4M432 533.5h1M112 534.5h1M148 534.5h1M167 534.5h1M184 534.5h1M206 534.5h1M215 534.5h1M235 534.5h1M242 534.5h1M257 534.5h1M267 534.5h2M291 534.5h1M342 534.5h2M433 534.5h1M110 535.5h2M149 535.5h1M166 535.5h1M205 535.5h1M216 535.5h1M234 535.5h1M243 535.5h1M269 535.5h1M275 535.5h1M293 535.5h2M304 535.5h1M344 535.5h6M434 535.5h1M109 536.5h1M164 536.5h2M204 536.5h1M217 536.5h1M233 536.5h1M244 536.5h2M270 536.5h2M290 536.5h1M295 536.5h2M350 536.5h5M435 536.5h1M108 537.5h1M163 537.5h1M186 537.5h1M203 537.5h1M218 537.5h1M232 537.5h1M246 537.5h1M255 537.5h1M272 537.5h1M297 537.5h2M355 537.5h4M360 537.5h4M382 537.5h3M436 537.5h1M151 538.5h1M162 538.5h1M187 538.5h1M202 538.5h1M219 538.5h1M231 538.5h1M247 538.5h1M254 538.5h1M273 538.5h1M299 538.5h2M364 538.5h9M374 538.5h8M437 538.5h1M152 539.5h1M161 539.5h1M188 539.5h1M201 539.5h1M220 539.5h1M230 539.5h1M248 539.5h1M253 539.5h1M275 539.5h1M302 539.5h1M438 539.5h1M153 540.5h1M159 540.5h2M189 540.5h1M200 540.5h1M221 540.5h1M229 540.5h1M249 540.5h1M276 540.5h2M303 540.5h2M439 540.5h1M158 541.5h1M190 541.5h1M199 541.5h1M222 541.5h1M228 541.5h1M250 541.5h3M271 541.5h1M278 541.5h2M287 541.5h1M305 541.5h2M440 541.5h1M157 542.5h1M191 542.5h1M198 542.5h1M223 542.5h1M251 542.5h1M280 542.5h1M307 542.5h2M441 542.5h1M155 543.5h2M192 543.5h1M197 543.5h1M224 543.5h1M253 543.5h2M281 543.5h2M309 543.5h3M442 543.5h1M155 544.5h2M193 544.5h1M196 544.5h1M225 544.5h2M255 544.5h1M269 544.5h1M283 544.5h3M312 544.5h2M443 544.5h1M154 545.5h1M157 545.5h1M194 545.5h2M225 545.5h2M249 545.5h1M256 545.5h2M285 545.5h2M314 545.5h3M444 545.5h1M152 546.5h2M158 546.5h1M194 546.5h2M224 546.5h1M227 546.5h1M248 546.5h1M258 546.5h1M287 546.5h2M317 546.5h4M445 546.5h1M151 547.5h1M193 547.5h1M196 547.5h1M223 547.5h1M228 547.5h2M259 547.5h1M267 547.5h1M289 547.5h2M321 547.5h2M446 547.5h1M150 548.5h1M192 548.5h1M197 548.5h1M222 548.5h1M230 548.5h1M260 548.5h2M291 548.5h2M324 548.5h4M149 549.5h1M160 549.5h1M191 549.5h1M198 549.5h1M231 549.5h1M246 549.5h1M262 549.5h2M293 549.5h2M328 549.5h4M385 549.5h1M148 550.5h1M161 550.5h1M190 550.5h1M199 550.5h1M232 550.5h2M245 550.5h1M264 550.5h2M295 550.5h3M332 550.5h6M380 550.5h5M147 551.5h1M162 551.5h1M189 551.5h1M200 551.5h1M220 551.5h1M234 551.5h1M265 551.5h2M338 551.5h3M342 551.5h3M372 551.5h1M374 551.5h6M145 552.5h2M163 552.5h1M188 552.5h1M201 552.5h1M219 552.5h1M235 552.5h1M267 552.5h2M345 552.5h27M144 553.5h1M164 553.5h1M187 553.5h1M202 553.5h1M236 553.5h2M243 553.5h1M269 553.5h2M143 554.5h1M165 554.5h1M186 554.5h1M203 554.5h1M238 554.5h1M263 554.5h1M271 554.5h2M142 555.5h1M166 555.5h1M185 555.5h1M204 555.5h1M217 555.5h1M239 555.5h2M273 555.5h2M141 556.5h1M167 556.5h1M184 556.5h1M205 556.5h1M216 556.5h1M241 556.5h1M275 556.5h2M140 557.5h1M168 557.5h1M183 557.5h1M206 557.5h2M215 557.5h1M242 557.5h2M277 557.5h1M279 557.5h1M139 558.5h1M169 558.5h1M182 558.5h1M208 558.5h1M244 558.5h1M279 558.5h2M138 559.5h1M170 559.5h1M181 559.5h1M209 559.5h1M245 559.5h2M281 559.5h3M137 560.5h1M171 560.5h1M210 560.5h2M213 560.5h1M247 560.5h2M284 560.5h2M136 561.5h1M172 561.5h1M212 561.5h1M238 561.5h1M249 561.5h1M286 561.5h3M135 562.5h1M173 562.5h1M179 562.5h1M213 562.5h1M250 562.5h2M289 562.5h2M389 562.5h3M134 563.5h1M174 563.5h1M178 563.5h1M214 563.5h2M252 563.5h2M291 563.5h4M386 563.5h3M133 564.5h1M175 564.5h1M177 564.5h1M210 564.5h1M216 564.5h1M236 564.5h1M254 564.5h2M295 564.5h3M382 564.5h4M132 565.5h1M176 565.5h1M209 565.5h1M217 565.5h2M256 565.5h2M298 565.5h3M379 565.5h3M131 566.5h1M175 566.5h1M177 566.5h1M219 566.5h1M257 566.5h3M301 566.5h4M375 566.5h4M174 567.5h1M178 567.5h1M220 567.5h1M260 567.5h2M305 567.5h5M371 567.5h4M179 568.5h2M207 568.5h1M221 568.5h2M262 568.5h2M310 568.5h5M365 568.5h6M181 569.5h1M223 569.5h2M233 569.5h1M264 569.5h3M315 569.5h2M319 569.5h2M361 569.5h4M172 570.5h1M182 570.5h1M225 570.5h1M267 570.5h2M321 570.5h12M348 570.5h11M171 571.5h1M183 571.5h2M205 571.5h1M226 571.5h2M269 571.5h3M333 571.5h7M341 571.5h7M170 572.5h1M185 572.5h1M204 572.5h1M228 572.5h2M169 573.5h1M186 573.5h1M274 573.5h3M187 574.5h2M230 574.5h3M277 574.5h3M189 575.5h1M202 575.5h1M233 575.5h2M280 575.5h3M167 576.5h1M190 576.5h1M229 576.5h1M235 576.5h2M283 576.5h4M394 576.5h2M166 577.5h1M191 577.5h2M237 577.5h2M287 577.5h1M392 577.5h2M165 578.5h1M193 578.5h1M200 578.5h1M239 578.5h2M390 578.5h2M194 579.5h1M241 579.5h2M387 579.5h3M195 580.5h2M243 580.5h3M385 580.5h2M399 580.5h1M163 581.5h1M197 581.5h2M246 581.5h2M383 581.5h2M162 582.5h1M198 582.5h2M248 582.5h2M161 583.5h1M197 583.5h1M200 583.5h2M249 583.5h4M378 583.5h3M196 584.5h1M202 584.5h2M253 584.5h2M375 584.5h3M204 585.5h1M255 585.5h3M373 585.5h2M402 585.5h1M159 586.5h1M205 586.5h2M258 586.5h3M370 586.5h3M403 586.5h1M158 587.5h1M207 587.5h2M261 587.5h3M367 587.5h3M404 587.5h1M157 588.5h1M209 588.5h1M264 588.5h4M363 588.5h4M405 588.5h1M193 589.5h1M210 589.5h2M267 589.5h4M360 589.5h3M212 590.5h2M271 590.5h4M356 590.5h4M214 591.5h2M275 591.5h4M351 591.5h5M216 592.5h2M279 592.5h6M346 592.5h5M218 593.5h3M284 593.5h6M340 593.5h1M342 593.5h4M220 594.5h3M290 594.5h9M332 594.5h8M223 595.5h2M299 595.5h33M189 596.5h1M225 596.5h2M227 597.5h3M230 598.5h2M232 599.5h3M390 599.5h1M235 600.5h3M238 601.5h3M242 602.5h2M185 603.5h1M244 603.5h3M184 604.5h1M247 604.5h4M183 605.5h1M251 605.5h4M255 606.5h4M259 607.5h3M263 607.5h1M264 608.5h5M269 609.5h7M276 610.5h6M210 617.5h1M235 625.5h1M112.5 404v38M113.5 396v8M113.5 442v8M114.5 389v7M114.5 450v6M115.5 385v4M115.5 456v1M115.5 458v3M116.5 380v5M116.5 461v5M117.5 376v4M117.5 466v4M118.5 373v3M118.5 470v4M119.5 369v4M119.5 474v3M120.5 366v3M120.5 477v3M121.5 363v3M121.5 480v3M122.5 360v3M122.5 483v3M123.5 358v2M123.5 486v4M124.5 355v2M124.5 489v3M125.5 352v3M125.5 492v2M126.5 350v2M126.5 494v2M127.5 347v3M127.5 496v3M128.5 345v2M128.5 499v2M129.5 343v2M129.5 501v2M130.5 341v2M130.5 503v2M131.5 339v2M131.5 505v2M132.5 337v2M132.5 507v2M133.5 335v2M133.5 509v2M134.5 333v2M134.5 511v2M135.5 331v2M135.5 513v2M136.5 515v2M137.5 329v1M138.5 326v1M138.5 518v1M139.5 324v2M139.5 520v2M141.5 321v2M141.5 523v2M143.5 318v2M143.5 409v28M143.5 526v2M144.5 400v9M144.5 437v9M145.5 315v2M145.5 393v2M145.5 396v4M145.5 446v6M145.5 529v2M146.5 388v5M146.5 453v5M147.5 384v4M147.5 458v5M147.5 532v2M148.5 311v2M148.5 380v4M148.5 463v3M149.5 376v4M149.5 466v4M150.5 372v4M150.5 470v4M150.5 536v2M151.5 307v2M151.5 369v3M151.5 474v3M152.5 368v1M152.5 477v1M153.5 364v4M153.5 480v2M154.5 303v2M154.5 361v3M154.5 482v3M154.5 541v2M155.5 359v2M155.5 485v3M156.5 356v3M156.5 488v2M157.5 257v2M157.5 354v2M157.5 490v2M158.5 351v3M158.5 492v3M159.5 349v2M159.5 495v2M159.5 547v2M160.5 347v2M160.5 497v2M160.5 584v2M161.5 262v2M161.5 345v2M161.5 499v2M162.5 343v2M162.5 501v2M164.5 266v2M164.5 505v2M164.5 579v2M165.5 338v2M166.5 336v2M166.5 508v2M167.5 334v2M167.5 510v2M168.5 271v2M168.5 574v2M169.5 331v2M169.5 419v8M169.5 513v2M170.5 405v14M170.5 427v14M170.5 515v2M171.5 328v2M171.5 399v6M171.5 441v8M172.5 392v6M172.5 449v5M173.5 277v2M173.5 325v2M173.5 388v4M173.5 454v5M173.5 519v2M173.5 568v2M174.5 383v5M174.5 459v4M175.5 322v2M175.5 380v3M175.5 463v4M175.5 522v2M176.5 375v5M176.5 467v3M177.5 373v2M177.5 472v1M177.5 525v1M178.5 370v3M178.5 473v3M178.5 527v1M179.5 367v3M179.5 476v3M180.5 365v2M180.5 479v2M180.5 560v2M181.5 314v2M181.5 362v3M181.5 481v3M181.5 530v2M182.5 287v2M182.5 360v2M182.5 484v2M183.5 358v2M183.5 486v2M184.5 355v3M184.5 488v3M185.5 242v2M185.5 491v1M185.5 535v2M186.5 244v2M186.5 351v2M186.5 494v1M186.5 601v2M187.5 246v2M187.5 349v2M187.5 495v2M187.5 599v2M188.5 248v2M188.5 597v2M189.5 346v2M189.5 498v2M190.5 251v2M190.5 344v2M190.5 500v2M190.5 594v2M191.5 253v2M191.5 342v2M191.5 502v2M191.5 592v2M192.5 340v2M192.5 413v20M192.5 504v2M192.5 590v2M193.5 256v2M193.5 402v11M193.5 433v10M194.5 258v2M194.5 337v2M194.5 397v5M194.5 443v1M194.5 445v4M194.5 507v2M194.5 587v2M195.5 392v5M195.5 449v5M195.5 585v2M196.5 261v2M196.5 333v1M196.5 335v1M196.5 388v4M196.5 454v5M196.5 510v2M197.5 384v4M197.5 459v3M198.5 265v1M198.5 331v2M198.5 380v1M198.5 382v2M198.5 462v3M198.5 513v2M199.5 377v3M199.5 466v3M199.5 579v2M200.5 267v2M200.5 374v3M200.5 469v3M201.5 269v2M201.5 327v2M201.5 371v3M201.5 472v3M201.5 517v2M201.5 576v2M202.5 369v2M202.5 475v2M203.5 366v3M203.5 477v3M203.5 573v2M204.5 273v2M204.5 323v2M204.5 364v2M204.5 480v2M204.5 521v2M205.5 482v1M206.5 276v2M206.5 360v2M206.5 483v4M206.5 569v2M207.5 358v2M207.5 487v2M208.5 279v2M208.5 356v2M208.5 489v2M208.5 566v2M209.5 354v2M209.5 491v2M209.5 527v2M210.5 352v2M211.5 230v3M211.5 283v2M211.5 350v2M211.5 494v2M211.5 562v2M211.5 614v3M212.5 233v2M212.5 348v2M212.5 410v26M212.5 496v2M212.5 612v2M213.5 235v3M213.5 286v1M213.5 402v3M213.5 406v4M213.5 436v5M213.5 442v2M213.5 498v2M213.5 609v3M214.5 238v2M214.5 287v2M214.5 346v1M214.5 396v6M214.5 444v6M214.5 558v2M214.5 607v2M215.5 240v3M215.5 343v3M215.5 392v4M215.5 450v4M215.5 501v2M215.5 604v3M216.5 243v2M216.5 387v5M216.5 454v6M216.5 602v2M217.5 245v2M217.5 340v2M217.5 384v4M217.5 460v2M217.5 504v2M217.5 600v2M218.5 247v2M218.5 292v2M218.5 381v3M218.5 462v3M218.5 553v2M218.5 597v3M219.5 249v3M219.5 337v2M219.5 378v3M219.5 465v3M219.5 507v2M219.5 595v2M220.5 375v3M220.5 468v3M221.5 254v2M221.5 372v3M221.5 471v3M221.5 549v2M221.5 591v2M222.5 256v2M222.5 297v2M222.5 333v2M222.5 371v1M222.5 474v2M222.5 511v2M222.5 589v2M223.5 258v2M223.5 368v3M223.5 477v2M223.5 587v2M224.5 260v2M224.5 366v2M224.5 479v2M224.5 585v2M225.5 262v2M225.5 301v1M225.5 363v3M225.5 481v2M225.5 583v2M226.5 264v2M226.5 328v3M226.5 361v2M226.5 483v2M226.5 516v1M226.5 581v2M227.5 266v2M227.5 359v2M227.5 485v2M227.5 542v2M227.5 579v2M228.5 268v2M228.5 304v2M228.5 357v2M228.5 487v2M228.5 577v2M229.5 413v20M229.5 489v2M230.5 271v3M230.5 404v3M230.5 408v5M230.5 433v6M230.5 440v2M230.5 573v1M230.5 575v1M231.5 274v1M231.5 352v2M231.5 398v6M231.5 442v6M231.5 491v3M231.5 572v2M232.5 394v4M232.5 448v4M232.5 494v2M232.5 523v2M232.5 570v2M233.5 276v2M233.5 349v2M233.5 390v1M233.5 392v2M233.5 452v2M233.5 455v2M234.5 278v2M234.5 347v2M234.5 386v4M234.5 457v3M234.5 497v2M234.5 567v2M235.5 280v2M235.5 383v3M235.5 460v3M235.5 565v2M236.5 222v4M236.5 344v2M236.5 380v3M236.5 463v3M236.5 500v2M236.5 532v2M236.5 621v4M237.5 226v4M237.5 283v2M237.5 314v2M237.5 376v4M237.5 466v3M237.5 562v2M237.5 617v4M238.5 230v3M238.5 375v1M238.5 613v4M239.5 233v4M239.5 286v2M239.5 340v1M239.5 372v3M239.5 471v3M239.5 504v2M239.5 559v2M239.5 610v3M240.5 237v3M240.5 370v2M240.5 474v2M240.5 557v2M240.5 606v4M241.5 240v5M241.5 289v1M241.5 368v2M241.5 476v2M241.5 602v4M242.5 245v2M242.5 290v3M242.5 336v2M242.5 366v2M242.5 478v2M242.5 508v2M242.5 554v2M242.5 600v2M243.5 247v2M243.5 364v2M243.5 480v2M243.5 597v3M244.5 249v3M244.5 417v12M244.5 482v1M244.5 551v2M244.5 595v2M245.5 252v3M245.5 295v2M245.5 360v2M245.5 406v11M245.5 429v11M245.5 485v1M245.5 592v3M246.5 255v3M246.5 358v2M246.5 400v6M246.5 440v6M246.5 486v2M246.5 589v3M247.5 258v2M247.5 298v2M247.5 395v5M247.5 446v6M247.5 488v2M247.5 547v2M247.5 587v2M248.5 260v3M248.5 355v2M248.5 392v3M248.5 452v3M248.5 515v2M248.5 584v3M249.5 263v1M249.5 353v2M249.5 388v4M249.5 455v3M249.5 491v2M250.5 265v2M250.5 302v2M250.5 385v3M250.5 458v3M250.5 543v2M250.5 579v3M251.5 267v3M251.5 349v1M251.5 351v1M251.5 381v1M251.5 383v2M251.5 461v3M251.5 494v2M251.5 577v2M252.5 270v2M252.5 379v3M252.5 466v1M252.5 540v1M252.5 542v1M252.5 575v2M253.5 272v2M253.5 306v2M253.5 377v2M253.5 467v2M253.5 496v3M253.5 573v2M254.5 274v2M254.5 346v2M254.5 374v3M254.5 469v3M254.5 571v2M255.5 276v2M255.5 372v2M255.5 472v2M255.5 569v2M256.5 278v2M256.5 310v2M256.5 370v2M256.5 474v2M256.5 501v2M256.5 535v2M256.5 567v2M257.5 280v1M257.5 342v2M257.5 476v1M258.5 281v3M258.5 366v2M258.5 410v25M258.5 477v3M258.5 563v2M259.5 217v4M259.5 284v2M259.5 364v2M259.5 404v6M259.5 437v5M259.5 480v2M259.5 531v2M259.5 561v2M259.5 626v4M260.5 221v7M260.5 286v2M260.5 315v2M260.5 362v2M260.5 398v6M260.5 442v7M260.5 482v2M260.5 506v2M260.5 559v2M260.5 619v7M261.5 228v6M261.5 288v2M261.5 394v5M261.5 449v3M261.5 557v2M261.5 613v6M262.5 234v6M262.5 290v2M262.5 359v2M262.5 391v3M262.5 452v3M262.5 485v2M262.5 555v2M262.5 607v6M263.5 240v4M263.5 358v1M263.5 387v4M263.5 455v4M263.5 487v1M263.5 489v1M263.5 603v4M264.5 244v4M264.5 293v2M264.5 356v1M264.5 459v1M264.5 461v1M264.5 552v2M264.5 599v4M265.5 248v4M265.5 354v2M265.5 382v3M265.5 462v2M265.5 490v2M265.5 524v2M265.5 595v4M266.5 252v4M266.5 322v2M266.5 379v3M266.5 464v3M266.5 548v2M266.5 591v4M267.5 256v1M267.5 298v2M267.5 377v2M267.5 467v2M267.5 590v1M268.5 259v3M268.5 300v2M268.5 350v2M268.5 376v1M268.5 469v2M268.5 494v2M268.5 545v2M268.5 584v4M269.5 262v4M269.5 373v1M269.5 471v1M269.5 473v1M269.5 581v3M270.5 266v2M270.5 303v2M270.5 371v2M270.5 411v24M270.5 474v2M270.5 542v2M270.5 579v2M271.5 268v3M271.5 369v2M271.5 405v6M271.5 435v6M271.5 499v1M271.5 576v3M272.5 271v4M272.5 306v2M272.5 367v2M272.5 401v4M272.5 441v4M272.5 477v2M272.5 539v2M272.5 572v4M273.5 275v2M273.5 365v2M273.5 395v6M273.5 447v4M273.5 479v2M273.5 570v3M274.5 277v2M274.5 308v1M274.5 310v1M274.5 392v3M274.5 451v3M274.5 481v1M274.5 536v3M274.5 568v2M275.5 279v3M275.5 391v1M275.5 454v2M275.5 483v1M275.5 565v3M276.5 282v2M276.5 312v2M276.5 360v2M276.5 386v3M276.5 456v4M276.5 484v2M276.5 533v2M276.5 563v2M277.5 284v2M277.5 383v3M277.5 460v3M277.5 505v2M277.5 561v2M278.5 286v2M278.5 289v1M278.5 315v2M278.5 357v2M278.5 381v2M278.5 463v2M278.5 487v2M278.5 530v2M278.5 557v4M279.5 290v1M279.5 465v1M279.5 467v1M279.5 556v1M280.5 291v2M280.5 355v1M280.5 376v3M280.5 468v2M280.5 490v1M280.5 492v1M280.5 554v2M281.5 216v17M281.5 293v2M281.5 320v1M281.5 353v1M281.5 374v2M281.5 411v24M281.5 470v2M281.5 552v2M281.5 614v17M282.5 233v10M282.5 295v2M282.5 372v2M282.5 405v6M282.5 435v7M282.5 472v2M282.5 550v2M282.5 604v10M283.5 243v6M283.5 297v2M283.5 369v1M283.5 371v1M283.5 400v2M283.5 404v1M283.5 442v1M283.5 445v1M283.5 474v2M283.5 548v2M283.5 597v7M284.5 249v4M284.5 254v1M284.5 299v2M284.5 396v4M284.5 446v4M284.5 495v2M284.5 546v2M284.5 594v3M285.5 255v5M285.5 324v2M285.5 367v2M285.5 393v3M285.5 450v4M285.5 476v3M285.5 521v2M285.5 587v5M286.5 260v4M286.5 301v3M286.5 365v2M286.5 389v3M286.5 454v3M286.5 479v2M286.5 542v2M286.5 583v4M287.5 264v4M287.5 304v2M287.5 386v3M287.5 457v3M287.5 579v4M288.5 268v4M288.5 306v2M288.5 362v2M288.5 384v2M288.5 460v2M288.5 482v2M288.5 518v1M288.5 539v2M288.5 575v4M289.5 272v3M289.5 308v2M289.5 329v1M289.5 382v1M289.5 516v1M289.5 537v2M289.5 571v4M290.5 275v4M290.5 359v3M290.5 379v3M290.5 464v3M290.5 485v1M290.5 568v3M291.5 279v3M291.5 311v1M291.5 313v1M291.5 377v2M291.5 467v2M291.5 535v1M291.5 565v3M292.5 282v1M292.5 313v2M292.5 374v3M292.5 469v2M292.5 532v3M292.5 562v1M292.5 564v1M293.5 285v3M293.5 355v2M293.5 471v1M293.5 489v2M293.5 559v3M294.5 288v2M294.5 316v2M294.5 372v2M294.5 473v2M294.5 529v2M294.5 557v2M295.5 290v3M295.5 370v2M295.5 509v2M295.5 554v3M296.5 293v2M296.5 319v2M296.5 338v1M296.5 368v2M296.5 476v2M296.5 526v2M296.5 552v2M297.5 295v3M297.5 367v1M297.5 549v1M297.5 551v1M298.5 298v2M298.5 365v1M298.5 524v1M298.5 547v2M299.5 300v2M299.5 496v2M299.5 545v2M300.5 302v2M300.5 325v2M300.5 362v2M300.5 410v26M300.5 482v2M300.5 520v2M300.5 543v2M301.5 304v2M301.5 404v6M301.5 436v6M301.5 539v4M302.5 400v4M302.5 442v4M302.5 517v2M302.5 538v1M303.5 308v2M303.5 329v2M303.5 359v1M303.5 396v4M303.5 446v4M303.5 486v2M303.5 516v1M303.5 536v2M304.5 310v2M304.5 393v3M304.5 450v3M305.5 312v2M305.5 390v3M305.5 453v4M305.5 513v2M305.5 533v2M306.5 314v2M306.5 333v2M306.5 388v3M306.5 457v1M306.5 531v2M307.5 316v1M307.5 386v2M307.5 458v3M307.5 530v1M308.5 318v2M308.5 383v3M308.5 461v2M308.5 527v2M309.5 381v2M309.5 463v2M310.5 321v2M310.5 339v1M310.5 379v2M310.5 465v2M310.5 494v1M310.5 524v2M311.5 323v2M311.5 377v2M311.5 467v2M311.5 522v2M312.5 375v1M312.5 469v1M313.5 325v1M313.5 327v1M313.5 519v3M314.5 372v2M314.5 472v2M314.5 517v2M315.5 243v8M315.5 252v7M315.5 329v2M315.5 344v2M315.5 417v12M315.5 500v3M315.5 588v7M315.5 596v8M316.5 230v13M316.5 259v12M316.5 369v2M316.5 409v8M316.5 429v9M316.5 475v2M316.5 576v12M316.5 604v13M317.5 223v7M317.5 271v7M317.5 332v2M317.5 404v5M317.5 438v4M317.5 513v2M317.5 569v7M317.5 617v7M318.5 219v4M318.5 277v7M318.5 400v4M318.5 442v4M318.5 478v2M318.5 563v7M318.5 624v3M319.5 284v4M319.5 335v2M319.5 365v2M319.5 397v3M319.5 446v4M319.5 510v2M319.5 558v5M320.5 288v5M320.5 394v1M320.5 396v1M320.5 554v4M321.5 293v3M321.5 391v3M321.5 452v3M321.5 482v1M321.5 507v2M321.5 550v4M322.5 296v4M322.5 339v2M322.5 389v2M322.5 455v3M322.5 548v2M323.5 299v4M323.5 386v3M323.5 458v2M323.5 484v2M323.5 544v4M324.5 303v3M324.5 384v2M324.5 460v2M324.5 541v3M325.5 306v3M325.5 343v2M325.5 462v1M325.5 502v2M325.5 538v3M326.5 309v3M326.5 465v1M326.5 535v3M327.5 312v2M327.5 379v2M327.5 532v3M328.5 314v4M328.5 377v2M328.5 467v2M328.5 530v2M329.5 318v1M329.5 411v25M329.5 497v2M329.5 528v1M330.5 319v3M330.5 349v2M330.5 374v2M330.5 406v5M330.5 436v4M330.5 470v2M330.5 525v3M331.5 322v2M331.5 402v4M331.5 440v5M331.5 523v2M332.5 324v2M332.5 371v1M332.5 398v4M332.5 445v1M332.5 473v2M332.5 521v2M333.5 326v2M333.5 395v3M333.5 448v3M333.5 519v2M334.5 328v2M334.5 393v2M334.5 451v2M334.5 517v2M335.5 330v3M335.5 391v2M335.5 453v3M335.5 516v1M336.5 388v3M336.5 456v1M336.5 478v2M337.5 333v2M337.5 386v3M337.5 459v1M337.5 512v2M338.5 335v2M338.5 460v2M338.5 487v2M338.5 510v2M339.5 337v2M339.5 359v2M339.5 383v2M339.5 508v2M340.5 262v26M340.5 381v2M340.5 414v18M340.5 463v2M340.5 559v26M341.5 254v8M341.5 288v9M341.5 340v2M341.5 408v4M341.5 432v1M341.5 434v4M341.5 465v2M341.5 505v2M341.5 550v9M341.5 585v9M342.5 248v4M342.5 297v6M342.5 342v2M342.5 404v4M342.5 438v4M342.5 502v3M342.5 544v6M342.5 594v5M343.5 243v5M343.5 303v5M343.5 400v2M343.5 442v1M343.5 445v1M343.5 539v5M343.5 599v5M344.5 239v4M344.5 308v5M344.5 345v2M344.5 375v2M344.5 398v2M344.5 446v3M344.5 469v2M344.5 500v2M344.5 534v1M344.5 536v3M344.5 604v4M345.5 235v4M345.5 313v3M345.5 395v3M345.5 449v2M345.5 531v4M345.5 608v4M346.5 232v3M346.5 316v3M346.5 394v1M346.5 451v3M346.5 497v2M346.5 528v3M346.5 612v3M347.5 229v3M347.5 319v3M347.5 349v2M347.5 390v4M347.5 453v3M347.5 473v2M347.5 525v3M347.5 615v3M348.5 227v2M348.5 322v3M348.5 522v3M348.5 618v2M349.5 326v2M349.5 352v2M349.5 387v2M349.5 457v2M349.5 492v3M349.5 519v1M350.5 328v2M350.5 385v2M350.5 413v20M350.5 459v2M350.5 517v2M351.5 330v3M351.5 384v1M351.5 408v5M351.5 433v5M351.5 514v3M352.5 333v2M352.5 356v2M352.5 404v4M352.5 438v4M352.5 489v2M352.5 512v2M353.5 335v2M353.5 380v2M353.5 401v3M353.5 442v3M353.5 464v2M353.5 510v2M354.5 398v3M354.5 445v3M355.5 339v2M355.5 397v1M355.5 448v2M355.5 506v2M356.5 341v2M356.5 361v3M356.5 393v3M356.5 451v2M356.5 468v3M356.5 483v3M356.5 504v2M357.5 343v2M357.5 391v2M357.5 453v2M357.5 502v2M358.5 289v5M358.5 295v4M358.5 345v2M358.5 455v2M358.5 500v2M358.5 548v4M358.5 553v5M359.5 276v13M359.5 299v12M359.5 347v1M359.5 389v1M359.5 536v12M359.5 558v12M360.5 271v5M360.5 311v6M360.5 348v3M360.5 386v2M360.5 458v2M360.5 496v2M360.5 530v6M360.5 569v7M361.5 266v5M361.5 317v6M361.5 524v6M361.5 576v5M362.5 262v4M362.5 323v3M362.5 352v2M362.5 383v2M362.5 461v2M362.5 493v2M362.5 521v3M362.5 581v4M363.5 257v5M363.5 326v4M363.5 463v1M363.5 491v2M363.5 517v4M363.5 585v3M364.5 255v2M364.5 330v3M364.5 355v1M364.5 357v1M364.5 465v1M364.5 514v3M364.5 589v3M365.5 252v3M365.5 335v1M365.5 511v1M365.5 592v3M366.5 249v3M366.5 336v3M366.5 358v2M366.5 487v2M366.5 508v3M366.5 595v3M367.5 246v3M367.5 339v2M367.5 505v3M367.5 598v3M368.5 244v2M368.5 341v4M368.5 361v2M368.5 484v2M368.5 504v1M368.5 601v2M369.5 241v3M369.5 345v1M369.5 363v1M369.5 376v1M369.5 470v1M369.5 501v2M369.5 603v3M370.5 239v2M370.5 346v2M370.5 499v2M370.5 606v2M371.5 237v2M371.5 348v3M371.5 365v2M371.5 480v2M371.5 496v3M371.5 608v2M372.5 351v1M373.5 295v25M373.5 353v1M373.5 527v25M374.5 288v6M374.5 321v7M374.5 354v2M374.5 369v3M374.5 475v3M374.5 491v2M374.5 519v7M374.5 552v7M375.5 283v5M375.5 328v5M375.5 356v2M375.5 489v2M375.5 514v1M375.5 516v3M375.5 559v5M376.5 281v2M376.5 333v4M376.5 358v1M376.5 488v1M376.5 510v4M376.5 564v2M376.5 567v1M377.5 275v4M377.5 337v3M377.5 485v3M377.5 507v3M377.5 568v3M378.5 272v3M378.5 341v3M378.5 361v2M378.5 503v3M378.5 571v4M379.5 269v3M379.5 344v3M379.5 363v2M379.5 482v2M379.5 500v3M379.5 575v3M380.5 267v2M380.5 347v1M380.5 365v1M380.5 499v1M380.5 578v2M381.5 264v3M381.5 350v2M381.5 495v2M381.5 580v3M382.5 262v1M382.5 352v2M382.5 492v3M382.5 582v3M383.5 260v2M383.5 354v2M383.5 585v2M384.5 258v2M384.5 312v8M384.5 321v6M384.5 357v2M384.5 418v10M384.5 488v2M384.5 520v6M384.5 527v7M384.5 587v2M385.5 256v2M385.5 304v8M385.5 327v9M385.5 359v2M385.5 412v6M385.5 428v6M385.5 486v2M385.5 511v9M385.5 534v9M385.5 589v2M386.5 254v2M386.5 297v7M386.5 336v5M386.5 361v1M386.5 408v4M386.5 434v4M386.5 485v1M386.5 506v5M386.5 543v7M386.5 591v2M387.5 252v2M387.5 294v4M387.5 341v4M387.5 405v3M387.5 438v3M387.5 500v6M387.5 549v4M387.5 593v2M388.5 250v2M388.5 290v4M388.5 345v4M388.5 403v2M388.5 441v3M388.5 498v3M388.5 553v4M388.5 595v2M389.5 248v2M389.5 287v3M389.5 349v3M389.5 400v3M389.5 444v2M389.5 495v3M389.5 557v3M389.5 597v2M390.5 284v3M390.5 352v3M390.5 446v1M390.5 492v3M390.5 560v2M391.5 282v3M391.5 355v3M391.5 448v1M391.5 489v3M391.5 563v2M392.5 279v3M392.5 358v1M392.5 395v2M392.5 449v2M392.5 488v1M392.5 565v3M393.5 277v2M393.5 361v1M393.5 451v2M393.5 485v2M393.5 568v2M394.5 275v2M394.5 362v3M394.5 392v2M394.5 482v3M394.5 570v2M395.5 273v2M395.5 365v2M395.5 480v2M395.5 572v2M396.5 271v2M396.5 478v2M396.5 574v2M397.5 269v2M397.5 368v2M397.5 456v2M397.5 576v2M398.5 267v2M398.5 370v2M398.5 475v2M398.5 578v2M399.5 372v2M399.5 473v2M400.5 264v2M400.5 581v2M401.5 262v2M401.5 375v2M401.5 470v2M401.5 583v2M403.5 259v2M403.5 378v2M403.5 467v2M405.5 416v14M406.5 381v3M406.5 412v4M406.5 430v4M407.5 409v3M407.5 434v3M408.5 406v2M408.5 437v1M408.5 439v1M409.5 404v2M409.5 440v2M410.5 402v2M410.5 442v2M410.5 458v2M411.5 388v2M412.5 399v2M412.5 445v2M415.5 449v2M419.5 344v20M419.5 416v14M419.5 482v21M420.5 339v5M420.5 364v6M420.5 412v4M420.5 430v5M420.5 477v5M420.5 503v5M421.5 335v4M421.5 370v3M421.5 409v4M421.5 434v3M421.5 474v3M421.5 508v4M422.5 332v3M422.5 375v1M422.5 407v2M422.5 437v2M422.5 470v3M422.5 512v3M423.5 329v3M423.5 376v3M423.5 468v2M423.5 515v3M424.5 379v3M424.5 404v2M424.5 440v2M424.5 465v3M425.5 324v3M425.5 382v2M425.5 403v1M425.5 442v3M425.5 463v2M425.5 520v3M426.5 322v2M426.5 384v2M426.5 461v2M426.5 523v2M427.5 320v2M428.5 388v2M428.5 457v2M428.5 526v2M429.5 317v2M429.5 528v2M430.5 391v2M430.5 454v2M431.5 314v2M431.5 531v2M433.5 311v2M436.5 364v15M436.5 468v15M437.5 359v5M437.5 379v3M437.5 383v1M437.5 463v1M437.5 465v3M437.5 483v5M438.5 355v1M438.5 357v2M438.5 384v3M438.5 460v3M438.5 488v4M439.5 353v2M439.5 387v3M439.5 457v3M439.5 492v2M440.5 350v3M440.5 390v1M440.5 456v1M440.5 494v3M441.5 348v2M441.5 497v2M442.5 346v2M442.5 499v2M443.5 344v2M444.5 502v2M445.5 341v2M446.5 378v4M446.5 383v3M446.5 461v3M446.5 465v4M447.5 339v1M447.5 373v5M447.5 386v3M447.5 390v1M447.5 455v2M447.5 458v3M447.5 469v5M448.5 368v4M448.5 391v4M448.5 452v3M448.5 475v4M449.5 366v2M449.5 395v3M449.5 449v3M449.5 479v2M450.5 363v3M450.5 398v2M450.5 419v8M450.5 447v2M450.5 481v2M451.5 400v2M451.5 416v3M451.5 427v3M451.5 445v2M451.5 483v1M452.5 360v2M452.5 414v2M452.5 430v2M452.5 485v2M453.5 358v2M453.5 403v2M453.5 432v2M453.5 442v2M453.5 487v2M454.5 440v2M455.5 406v2M467.5 398v9M467.5 440v9M468.5 395v3M468.5 407v3M468.5 421v6M468.5 437v3M468.5 449v3M469.5 393v2M469.5 410v2M469.5 419v2M469.5 427v2M469.5 435v2M469.5 452v2M470.5 391v2M470.5 412v2M470.5 417v2M470.5 433v2M470.5 454v2M477.5 411v2M477.5 414v1M477.5 432v1M477.5 434v2M478.5 408v3M478.5 415v2M478.5 429v3M478.5 436v4M479.5 417v2M487.5 419v2M487.5 425v3M488.5 421v2M488.5 424v1"/>
</g>
<g class="tl" fill="#bdbdc3">
<text transform="translate(110.09 421.64) rotate(-90) scale(0.68 1)">0.1</text>
<text transform="translate(78.58 382.48) rotate(-168.58) scale(0.68 1)" x="-1.47" y="-2" text-anchor="end">0.1</text>
<text transform="translate(78.58 464.4) rotate(348.58) scale(0.68 1)" x="1.47" y="-2">-0.1</text>
<text transform="translate(141.43 421.64) rotate(-90) scale(0.68 1)">0.2</text>
<text transform="translate(90.39 343.88) rotate(-157.38) scale(0.68 1)" x="-1.47" y="-2" text-anchor="end">0.2</text>
<text transform="translate(90.39 503) rotate(337.38) scale(0.68 1)" x="1.47" y="-2">-0.2</text>
<text transform="translate(167.95 421.64) rotate(-90) scale(0.68 1)">0.3</text>
<text transform="translate(108.64 309.58) rotate(-146.6) scale(0.68 1)" x="-1.47" y="-2" text-anchor="end">0.3</text>
<text transform="translate(108.64 537.3) rotate(326.6) scale(0.68 1)" x="1.47" y="-2">-0.3</text>
<text transform="translate(190.68 421.64) rotate(-90) scale(0.68 1)">0.4</text>
<text transform="translate(131.54 280.78) rotate(-136.4) scale(0.68 1)" x="-1.47" y="-2" text-anchor="end">0.4</text>
<text transform="translate(131.54 566.1) rotate(316.4) scale(0.68 1)" x="1.47" y="-2">-0.4</text>
<text transform="translate(210.38 421.64) rotate(-90) scale(0.68 1)">0.5</text>
<text transform="translate(157.22 257.96) rotate(-126.87) scale(0.68 1)" x="-1.47" y="-2" text-anchor="end">0.5</text>
<text transform="translate(157.22 588.92) rotate(306.87) scale(0.68 1)" x="1.47" y="-2">-0.5</text>
<text transform="translate(227.62 421.64) rotate(-90) scale(0.68 1)">0.6</text>
<text transform="translate(183.99 240.93) rotate(-118.07) scale(0.68 1)" x="-1.47" y="-2" text-anchor="end">0.6</text>
<text transform="translate(183.99 605.95) rotate(298.07) scale(0.68 1)" x="1.47" y="-2">-0.6</text>
<text transform="translate(242.83 421.64) rotate(-90) scale(0.68 1)">0.7</text>
<text transform="translate(210.53 229.08) rotate(-110.02) scale(0.68 1)" x="-1.47" y="-2" text-anchor="end">0.7</text>
<text transform="translate(210.53 617.8) rotate(290.02) scale(0.68 1)" x="1.47" y="-2">-0.7</text>
<text transform="translate(256.35 421.64) rotate(-90) scale(0.68 1)">0.8</text>
<text transform="translate(235.92 221.64) rotate(-102.68) scale(0.68 1)" x="-1.47" y="-2" text-anchor="end">0.8</text>
<text transform="translate(235.92 625.24) rotate(282.68) scale(0.68 1)" x="1.47" y="-2">-0.8</text>
<text transform="translate(268.44 421.64) rotate(-90) scale(0.68 1)">0.9</text>
<text transform="translate(259.62 217.73) rotate(-96.03) scale(0.68 1)" x="-1.47" y="-2" text-anchor="end">0.9</text>
<text transform="translate(259.62 629.15) rotate(276.03) scale(0.68 1)" x="1.47" y="-2">-0.9</text>
<text transform="translate(279.33 421.64) rotate(-90) scale(0.68 1)">1.0</text>
<text transform="translate(281.33 216.59) rotate(-90) scale(0.68 1)" x="-1.47" y="-2" text-anchor="end">1.0</text>
<text transform="translate(281.33 630.29) rotate(270) scale(0.68 1)" x="1.47" y="-2">-1.0</text>
<text transform="translate(298.13 421.64) rotate(-90) scale(0.68 1)">1.2</text>
<text transform="translate(318.63 219.98) rotate(-79.61) scale(0.68 1)" x="-1.47" y="-2" text-anchor="end">1.2</text>
<text transform="translate(318.63 626.9) rotate(259.61) scale(0.68 1)" x="1.47" y="-2">-1.2</text>
<text transform="translate(313.8 421.64) rotate(-90) scale(0.68 1)">1.4</text>
<text transform="translate(348.42 227.77) rotate(-71.08) scale(0.68 1)" x="-1.47" y="-2" text-anchor="end">1.4</text>
<text transform="translate(348.42 619.11) rotate(251.08) scale(0.68 1)" x="1.47" y="-2">-1.4</text>
<text transform="translate(327.06 421.64) rotate(-90) scale(0.68 1)">1.6</text>
<text transform="translate(371.97 237.51) rotate(-64.01) scale(0.68 1)" x="-1.47" y="-2" text-anchor="end">1.6</text>
<text transform="translate(371.97 609.37) rotate(244.01) scale(0.68 1)" x="1.47" y="-2">-1.6</text>
<text transform="translate(338.43 421.64) rotate(-90) scale(0.68 1)">1.8</text>
<text transform="translate(390.61 247.81) rotate(-58.11) scale(0.68 1)" x="-1.47" y="-2" text-anchor="end">1.8</text>
<text transform="translate(390.61 599.07) rotate(238.11) scale(0.68 1)" x="1.47" y="-2">-1.8</text>
<text transform="translate(348.28 421.64) rotate(-90) scale(0.68 1)">2.0</text>
<text transform="translate(405.44 257.96) rotate(-53.13) scale(0.68 1)" x="-1.47" y="-2" text-anchor="end">2.0</text>
<text transform="translate(405.44 588.92) rotate(233.13) scale(0.68 1)" x="1.47" y="-2">-2.0</text>
<text transform="translate(382.75 421.64) rotate(-90) scale(0.68 1)">3.0</text>
<text transform="translate(446.81 299.33) rotate(-36.87) scale(0.68 1)" x="-1.47" y="-2" text-anchor="end">3.0</text>
<text transform="translate(446.81 547.55) rotate(216.87) scale(0.68 1)" x="1.47" y="-2">-3.0</text>
<text transform="translate(403.44 421.64) rotate(-90) scale(0.68 1)">4.0</text>
<text transform="translate(463.84 326.1) rotate(-28.07) scale(0.68 1)" x="-1.47" y="-2" text-anchor="end">4.0</text>
<text transform="translate(463.84 520.78) rotate(208.07) scale(0.68 1)" x="1.47" y="-2">-4.0</text>
<text transform="translate(417.23 421.64) rotate(-90) scale(0.68 1)">5.0</text>
<text transform="translate(472.27 343.88) rotate(-22.62) scale(0.68 1)" x="-1.47" y="-2" text-anchor="end">5.0</text>
<text transform="translate(472.27 503) rotate(202.62) scale(0.68 1)" x="1.47" y="-2">-5.0</text>
<text transform="translate(448.57 421.64) rotate(-90) scale(0.68 1)">10</text>
<text transform="translate(484.08 382.48) rotate(-11.42) scale(0.68 1)" x="-1.47" y="-2" text-anchor="end">10</text>
<text transform="translate(484.08 464.4) rotate(191.42) scale(0.68 1)" x="1.47" y="-2">-10</text>
<text transform="translate(466.48 421.64) rotate(-90) scale(0.68 1)">20</text>
<text transform="translate(487.15 402.81) rotate(-5.72) scale(0.68 1)" x="-1.47" y="-2" text-anchor="end">20</text>
<text transform="translate(487.15 444.07) rotate(185.72) scale(0.68 1)" x="1.47" y="-2">-20</text>
</g>
<g shape-rendering="crispEdges" fill="none" stroke-width="1">
<path stroke="#000" d="M268 216.5h26M257 217.5h11M294 217.5h11M249 218.5h8M305 218.5h7M243 219.5h6M312 219.5h6M239 220.5h4M318 220.5h5M234 221.5h5M323 221.5h5M230 222.5h4M328 222.5h4M226 223.5h4M332 223.5h4M223 224.5h3M336 224.5h3M219 225.5h4M339 225.5h4M216 226.5h3M343 226.5h3M213 227.5h3M346 227.5h3M210 228.5h3M349 228.5h3M208 229.5h2M352 229.5h2M205 230.5h3M354 230.5h3M203 231.5h2M357 231.5h2M200 232.5h3M359 232.5h3M198 233.5h2M362 233.5h2M196 234.5h2M364 234.5h2M193 235.5h3M366 235.5h2M191 236.5h2M368 236.5h2M189 237.5h2M370 237.5h3M187 238.5h2M373 238.5h1M185 239.5h2M374 239.5h2M184 240.5h1M376 240.5h2M182 241.5h2M378 241.5h2M180 242.5h2M380 242.5h2M178 243.5h2M382 243.5h2M176 244.5h2M384 244.5h2M175 245.5h1M386 245.5h1M173 246.5h2M387 246.5h2M171 247.5h2M389 247.5h2M170 248.5h1M391 248.5h1M168 249.5h2M392 249.5h2M167 250.5h1M394 250.5h1M165 251.5h2M395 251.5h2M164 252.5h1M397 252.5h1M162 253.5h2M398 253.5h2M161 254.5h1M400 254.5h1M159 255.5h2M401 255.5h1M158 256.5h1M402 256.5h2M157 257.5h1M404 257.5h1M155 258.5h2M405 258.5h1M154 259.5h1M406 259.5h2M153 260.5h1M408 260.5h1M152 261.5h1M409 261.5h1M150 262.5h2M410 262.5h1M149 263.5h1M411 263.5h2M148 264.5h1M413 264.5h1M147 265.5h1M414 265.5h1M146 266.5h1M415 266.5h1M145 267.5h1M416 267.5h1M144 268.5h1M417 268.5h2M143 269.5h1M419 269.5h1M142 270.5h1M420 270.5h1M141 271.5h1M421 271.5h1M140 272.5h1M422 272.5h1M139 273.5h1M423 273.5h1M138 274.5h1M424 274.5h1M137 275.5h1M425 275.5h1M136 276.5h1M426 276.5h1M135 277.5h1M427 277.5h1M134 278.5h1M428 278.5h1M133 279.5h1M429 279.5h1M132 280.5h1M430 280.5h1M131 281.5h1M431 281.5h1M130 282.5h1M432 282.5h1M129 283.5h1M433 283.5h1M128 284.5h1M434 284.5h1M127 285.5h1M435 285.5h1M126 286.5h1M436 286.5h1M125 287.5h1M437 287.5h1M124 288.5h1M438 288.5h1M439 289.5h1M440 290.5h1M122 291.5h1M121 292.5h1M120 293.5h1M442 293.5h1M443 294.5h1M118 296.5h1M117 297.5h1M445 297.5h1M446 298.5h1M115 300.5h1M114 301.5h1M448 301.5h1M449 302.5h1M112 304.5h1M451 305.5h1M110 307.5h1M109 308.5h1M453 308.5h1M455 311.5h1M106 313.5h1M457 314.5h1M104 316.5h1M101 321.5h1M461 321.5h1M74 423.5h412M99 522.5h1M461 524.5h1M103 529.5h1M457 531.5h1M106 534.5h1M455 534.5h1M108 537.5h1M453 537.5h1M110 540.5h1M451 540.5h1M112 543.5h1M449 543.5h1M113 544.5h1M447 546.5h1M115 547.5h1M446 547.5h1M116 548.5h1M444 550.5h1M118 551.5h1M443 551.5h1M119 552.5h1M442 552.5h1M121 555.5h1M440 555.5h1M122 556.5h1M439 556.5h1M123 557.5h1M438 557.5h1M124 558.5h1M437 558.5h1M125 559.5h1M436 559.5h1M126 560.5h1M435 560.5h1M127 561.5h1M128 562.5h1M129 563.5h1M433 563.5h1M130 564.5h1M432 564.5h1M131 565.5h1M431 565.5h1M132 566.5h1M430 566.5h1M133 567.5h1M429 567.5h1M134 568.5h1M428 568.5h1M135 569.5h1M427 569.5h1M136 570.5h1M426 570.5h1M137 571.5h1M425 571.5h1M138 572.5h1M424 572.5h1M139 573.5h1M423 573.5h1M140 574.5h1M422 574.5h1M141 575.5h1M421 575.5h1M142 576.5h1M420 576.5h1M143 577.5h1M419 577.5h1M144 578.5h1M418 578.5h1M145 579.5h1M417 579.5h1M146 580.5h2M416 580.5h1M148 581.5h1M415 581.5h1M149 582.5h1M413 582.5h2M150 583.5h1M412 583.5h1M151 584.5h2M411 584.5h1M153 585.5h1M410 585.5h1M154 586.5h1M408 586.5h2M155 587.5h1M407 587.5h1M156 588.5h2M406 588.5h1M158 589.5h1M404 589.5h2M159 590.5h1M403 590.5h1M160 591.5h2M402 591.5h1M162 592.5h1M400 592.5h2M163 593.5h2M399 593.5h1M165 594.5h1M397 594.5h2M166 595.5h2M396 595.5h1M168 596.5h1M394 596.5h2M169 597.5h2M393 597.5h1M171 598.5h1M391 598.5h2M172 599.5h2M389 599.5h2M174 600.5h2M388 600.5h1M176 601.5h1M386 601.5h2M177 602.5h2M384 602.5h2M179 603.5h2M383 603.5h1M181 604.5h2M381 604.5h2M183 605.5h2M379 605.5h2M185 606.5h1M377 606.5h2M186 607.5h2M375 607.5h2M188 608.5h2M373 608.5h2M190 609.5h2M371 609.5h2M192 610.5h3M369 610.5h2M195 611.5h2M367 611.5h2M197 612.5h2M364 612.5h3M199 613.5h2M362 613.5h2M201 614.5h3M360 614.5h2M204 615.5h2M357 615.5h3M206 616.5h3M355 616.5h2M209 617.5h2M352 617.5h3M211 618.5h3M349 618.5h3M214 619.5h3M346 619.5h3M217 620.5h3M343 620.5h3M220 621.5h4M340 621.5h3M224 622.5h3M336 622.5h4M227 623.5h4M332 623.5h4M231 624.5h4M328 624.5h4M235 625.5h5M324 625.5h4M240 626.5h5M319 626.5h5M245 627.5h6M312 627.5h7M251 628.5h8M305 628.5h7M259 629.5h12M293 629.5h12M271 630.5h22M74.5 409v14M74.5 424v15M75.5 399v10M75.5 439v10M76.5 392v7M76.5 449v7M77.5 386v6M77.5 456v6M78.5 381v5M78.5 462v5M79.5 376v5M79.5 467v4M80.5 372v4M80.5 471v4M81.5 369v3M81.5 475v4M82.5 365v4M82.5 479v3M83.5 362v3M83.5 482v4M84.5 359v3M84.5 486v3M85.5 356v3M85.5 489v3M86.5 353v3M86.5 492v3M87.5 350v3M87.5 495v2M88.5 348v2M88.5 497v3M89.5 345v3M89.5 500v3M90.5 343v2M90.5 503v2M91.5 341v2M91.5 505v2M92.5 338v3M92.5 507v2M93.5 336v2M93.5 509v2M94.5 334v2M94.5 511v3M95.5 332v2M95.5 514v2M96.5 330v2M96.5 516v2M97.5 328v2M97.5 518v2M98.5 326v2M98.5 520v2M99.5 324v2M100.5 322v2M100.5 523v2M101.5 525v2M102.5 319v2M102.5 527v2M103.5 317v2M104.5 530v2M105.5 314v2M105.5 532v2M107.5 311v2M107.5 535v2M108.5 309v2M109.5 538v2M111.5 305v2M111.5 541v2M113.5 302v2M114.5 545v2M116.5 298v2M117.5 549v2M119.5 294v2M120.5 553v2M123.5 289v2M434.5 561v2M441.5 291v2M441.5 553v2M444.5 295v2M445.5 548v2M447.5 299v2M448.5 544v2M450.5 303v2M450.5 541v2M452.5 306v2M452.5 538v2M454.5 309v2M454.5 535v2M456.5 312v2M456.5 532v2M458.5 315v2M458.5 529v2M459.5 317v2M459.5 527v2M460.5 319v2M460.5 525v2M462.5 322v2M462.5 522v2M463.5 324v2M463.5 520v2M464.5 326v2M464.5 518v2M465.5 328v2M465.5 516v2M466.5 330v2M466.5 514v2M467.5 332v2M467.5 512v2M468.5 334v2M468.5 510v2M469.5 336v2M469.5 508v2M470.5 338v3M470.5 506v2M471.5 341v2M471.5 503v3M472.5 343v2M472.5 501v2M473.5 345v3M473.5 498v3M474.5 348v3M474.5 496v2M475.5 351v2M475.5 493v3M476.5 353v3M476.5 490v3M477.5 356v3M477.5 487v3M478.5 359v3M478.5 484v3M479.5 362v3M479.5 481v3M480.5 365v4M480.5 477v4M481.5 369v4M481.5 473v4M482.5 373v4M482.5 469v4M483.5 377v5M483.5 464v5M484.5 382v5M484.5 459v5M485.5 387v6M485.5 453v6M486.5 393v8M486.5 445v8M487.5 401v13M487.5 432v13M488.5 414v9M488.5 424v8"/>
</g>
<g shape-rendering="crispEdges" fill="none" stroke-width="1">
<path stroke="#b0b0b0" d="M718 221.5h1M831 227.5h1M693 229.5h1M760 236.5h5M753 237.5h7M747 238.5h6M742 239.5h5M738 240.5h4M666 241.5h1M734 241.5h4M667 242.5h1M731 242.5h3M668 243.5h1M727 243.5h4M725 244.5h2M721 245.5h3M719 246.5h2M716 247.5h3M873 247.5h1M713 248.5h3M711 249.5h2M709 250.5h2M706 251.5h3M782 251.5h34M673 252.5h1M703 252.5h3M774 252.5h8M816 252.5h8M870 252.5h1M702 253.5h2M767 253.5h7M826 253.5h4M700 254.5h2M763 254.5h4M830 254.5h5M698 255.5h2M758 255.5h5M835 255.5h5M696 256.5h2M755 256.5h3M840 256.5h4M676 257.5h1M694 257.5h2M750 257.5h5M844 257.5h2M640 258.5h1M692 258.5h2M748 258.5h2M846 258.5h5M888 258.5h1M641 259.5h1M691 259.5h1M745 259.5h3M851 259.5h3M887 259.5h1M642 260.5h1M678 260.5h1M689 260.5h2M742 260.5h3M854 260.5h2M886 260.5h1M687 261.5h2M739 261.5h3M856 261.5h3M885 261.5h1M685 262.5h2M736 262.5h3M859 262.5h3M644 263.5h1M684 263.5h1M734 263.5h2M862 263.5h2M645 264.5h1M682 264.5h2M731 264.5h2M864 264.5h3M883 264.5h1M646 265.5h1M681 265.5h1M729 265.5h2M867 265.5h2M679 266.5h2M727 266.5h2M869 266.5h2M678 267.5h1M725 267.5h2M871 267.5h2M648 268.5h1M676 268.5h2M683 268.5h1M723 268.5h2M873 268.5h2M649 269.5h1M675 269.5h1M721 269.5h2M875 269.5h2M650 270.5h1M673 270.5h2M719 270.5h2M767 270.5h3M877 270.5h2M672 271.5h1M685 271.5h1M717 271.5h2M764 271.5h3M879 271.5h1M671 272.5h1M715 272.5h2M761 272.5h3M652 273.5h1M669 273.5h2M713 273.5h2M758 273.5h3M653 274.5h1M668 274.5h1M687 274.5h1M712 274.5h1M755 274.5h3M654 275.5h1M667 275.5h1M688 275.5h1M710 275.5h2M753 275.5h2M815 275.5h8M824 275.5h8M655 276.5h1M666 276.5h1M708 276.5h2M750 276.5h3M805 276.5h10M832 276.5h11M664 277.5h2M707 277.5h1M716 277.5h1M748 277.5h2M798 277.5h7M843 277.5h6M663 278.5h1M690 278.5h1M705 278.5h2M746 278.5h2M793 278.5h5M849 278.5h5M657 279.5h1M662 279.5h1M704 279.5h1M744 279.5h2M788 279.5h5M854 279.5h6M614 280.5h1M658 280.5h1M661 280.5h1M702 280.5h2M742 280.5h2M785 280.5h3M860 280.5h3M615 281.5h1M659 281.5h2M692 281.5h1M701 281.5h1M739 281.5h3M781 281.5h4M863 281.5h3M616 282.5h1M658 282.5h3M699 282.5h2M719 282.5h1M738 282.5h1M778 282.5h3M866 282.5h3M617 283.5h1M657 283.5h1M661 283.5h1M698 283.5h1M736 283.5h2M775 283.5h3M869 283.5h3M618 284.5h1M656 284.5h1M694 284.5h1M696 284.5h2M734 284.5h2M772 284.5h4M872 284.5h1M619 285.5h1M655 285.5h1M695 285.5h1M732 285.5h2M742 285.5h1M770 285.5h2M620 286.5h1M654 286.5h1M663 286.5h1M694 286.5h1M731 286.5h1M767 286.5h3M621 287.5h1M653 287.5h1M664 287.5h1M692 287.5h2M722 287.5h1M729 287.5h2M765 287.5h2M622 288.5h1M652 288.5h1M665 288.5h1M691 288.5h1M697 288.5h1M727 288.5h2M763 288.5h2M623 289.5h1M651 289.5h1M666 289.5h1M690 289.5h1M698 289.5h1M726 289.5h1M762 289.5h1M624 290.5h1M650 290.5h1M667 290.5h1M689 290.5h1M699 290.5h1M724 290.5h1M758 290.5h3M625 291.5h1M649 291.5h1M668 291.5h1M688 291.5h1M723 291.5h1M756 291.5h2M626 292.5h1M648 292.5h1M669 292.5h1M687 292.5h1M721 292.5h2M754 292.5h2M627 293.5h1M647 293.5h1M670 293.5h1M685 293.5h2M701 293.5h1M720 293.5h1M726 293.5h1M752 293.5h2M628 294.5h1M646 294.5h1M671 294.5h1M684 294.5h1M702 294.5h1M718 294.5h2M747 294.5h1M751 294.5h1M828 294.5h29M629 295.5h2M645 295.5h1M672 295.5h1M683 295.5h1M703 295.5h1M717 295.5h1M748 295.5h3M821 295.5h3M825 295.5h3M857 295.5h6M631 296.5h1M644 296.5h1M673 296.5h1M682 296.5h1M716 296.5h1M728 296.5h1M747 296.5h2M780 296.5h1M816 296.5h5M863 296.5h6M632 297.5h1M643 297.5h1M674 297.5h1M681 297.5h1M714 297.5h2M746 297.5h1M776 297.5h3M811 297.5h5M633 298.5h1M642 298.5h1M675 298.5h1M680 298.5h1M705 298.5h1M713 298.5h1M744 298.5h2M774 298.5h2M807 298.5h4M634 299.5h1M641 299.5h1M676 299.5h1M679 299.5h1M706 299.5h1M712 299.5h1M730 299.5h1M743 299.5h1M750 299.5h1M772 299.5h2M804 299.5h1M806 299.5h1M929 299.5h1M635 300.5h1M640 300.5h1M677 300.5h2M707 300.5h1M711 300.5h1M731 300.5h1M741 300.5h2M770 300.5h2M801 300.5h3M928 300.5h1M636 301.5h2M639 301.5h1M677 301.5h2M708 301.5h1M710 301.5h1M740 301.5h1M768 301.5h2M798 301.5h3M927 301.5h1M638 302.5h1M676 302.5h1M679 302.5h1M709 302.5h1M738 302.5h2M766 302.5h3M795 302.5h3M926 302.5h1M639 303.5h1M675 303.5h1M680 303.5h1M707 303.5h2M733 303.5h1M737 303.5h1M765 303.5h1M793 303.5h2M925 303.5h1M640 304.5h1M674 304.5h1M681 304.5h1M706 304.5h1M734 304.5h3M753 304.5h1M763 304.5h2M790 304.5h3M923 304.5h2M636 305.5h1M641 305.5h1M673 305.5h1M682 305.5h1M705 305.5h1M711 305.5h1M734 305.5h1M761 305.5h2M770 305.5h1M788 305.5h2M922 305.5h1M635 306.5h1M642 306.5h2M672 306.5h1M683 306.5h1M704 306.5h1M712 306.5h1M733 306.5h1M760 306.5h1M786 306.5h2M921 306.5h1M634 307.5h1M644 307.5h1M671 307.5h1M684 307.5h1M703 307.5h1M713 307.5h1M732 307.5h1M736 307.5h1M755 307.5h1M758 307.5h2M785 307.5h1M920 307.5h1M645 308.5h1M670 308.5h1M685 308.5h1M702 308.5h1M714 308.5h1M730 308.5h2M737 308.5h1M756 308.5h2M782 308.5h2M847 308.5h9M857 308.5h9M919 308.5h1M591 309.5h1M646 309.5h1M669 309.5h1M686 309.5h1M701 309.5h1M715 309.5h1M729 309.5h1M755 309.5h2M780 309.5h2M839 309.5h3M843 309.5h4M866 309.5h1M918 309.5h1M592 310.5h1M632 310.5h1M647 310.5h2M668 310.5h1M687 310.5h1M700 310.5h1M716 310.5h1M728 310.5h1M754 310.5h1M757 310.5h1M779 310.5h1M833 310.5h6M917 310.5h1M593 311.5h2M631 311.5h1M649 311.5h1M667 311.5h1M688 311.5h1M699 311.5h1M717 311.5h1M727 311.5h1M739 311.5h1M752 311.5h2M777 311.5h2M829 311.5h4M595 312.5h1M650 312.5h1M666 312.5h1M689 312.5h1M698 312.5h1M718 312.5h1M726 312.5h1M740 312.5h1M751 312.5h1M774 312.5h3M825 312.5h2M828 312.5h1M596 313.5h2M651 313.5h2M665 313.5h1M690 313.5h1M697 313.5h1M724 313.5h2M741 313.5h1M750 313.5h1M759 313.5h1M773 313.5h3M822 313.5h3M915 313.5h1M598 314.5h1M629 314.5h1M653 314.5h1M691 314.5h1M696 314.5h1M723 314.5h1M742 314.5h1M748 314.5h2M760 314.5h1M772 314.5h1M819 314.5h3M914 314.5h1M599 315.5h2M654 315.5h1M692 315.5h1M695 315.5h1M720 315.5h1M722 315.5h1M747 315.5h1M770 315.5h2M776 315.5h1M789 315.5h1M816 315.5h3M601 316.5h2M655 316.5h1M663 316.5h1M693 316.5h2M721 316.5h1M746 316.5h1M769 316.5h1M813 316.5h3M603 317.5h1M627 317.5h1M656 317.5h2M662 317.5h1M693 317.5h2M720 317.5h1M722 317.5h1M744 317.5h2M762 317.5h1M767 317.5h2M789 317.5h2M912 317.5h1M604 318.5h2M658 318.5h1M661 318.5h1M692 318.5h1M695 318.5h1M719 318.5h1M723 318.5h1M744 318.5h2M763 318.5h1M766 318.5h1M787 318.5h2M809 318.5h2M606 319.5h2M659 319.5h2M691 319.5h1M696 319.5h1M718 319.5h1M724 319.5h1M742 319.5h2M746 319.5h1M764 319.5h2M786 319.5h1M806 319.5h3M608 320.5h1M625 320.5h1M660 320.5h2M690 320.5h1M697 320.5h1M717 320.5h1M725 320.5h1M741 320.5h1M747 320.5h1M763 320.5h2M779 320.5h1M784 320.5h2M792 320.5h1M804 320.5h2M854 320.5h2M857 320.5h25M609 321.5h2M659 321.5h1M662 321.5h1M689 321.5h1M698 321.5h1M716 321.5h1M726 321.5h1M740 321.5h1M748 321.5h1M762 321.5h1M765 321.5h1M783 321.5h1M803 321.5h1M848 321.5h6M882 321.5h6M611 322.5h1M663 322.5h1M688 322.5h1M699 322.5h1M715 322.5h1M727 322.5h1M739 322.5h1M761 322.5h1M766 322.5h1M780 322.5h3M801 322.5h2M846 322.5h2M888 322.5h4M612 323.5h2M623 323.5h1M664 323.5h2M700 323.5h2M714 323.5h1M728 323.5h1M738 323.5h1M760 323.5h1M781 323.5h1M799 323.5h2M840 323.5h4M892 323.5h4M614 324.5h2M657 324.5h1M666 324.5h1M702 324.5h1M713 324.5h1M729 324.5h1M737 324.5h1M750 324.5h1M758 324.5h2M778 324.5h2M782 324.5h1M797 324.5h2M836 324.5h4M896 324.5h4M616 325.5h1M667 325.5h2M686 325.5h1M703 325.5h1M712 325.5h1M730 325.5h1M736 325.5h1M751 325.5h1M757 325.5h1M768 325.5h1M777 325.5h1M795 325.5h1M832 325.5h4M900 325.5h2M617 326.5h2M669 326.5h1M685 326.5h1M704 326.5h1M711 326.5h1M731 326.5h1M735 326.5h1M752 326.5h1M756 326.5h1M769 326.5h1M776 326.5h1M794 326.5h3M831 326.5h1M902 326.5h3M945 326.5h2M619 327.5h3M655 327.5h1M670 327.5h1M705 327.5h1M710 327.5h1M732 327.5h1M734 327.5h1M753 327.5h1M755 327.5h1M770 327.5h1M774 327.5h2M784 327.5h1M793 327.5h1M828 327.5h3M905 327.5h1M907 327.5h1M944 327.5h1M620 328.5h1M654 328.5h1M671 328.5h2M706 328.5h1M733 328.5h1M754 328.5h1M773 328.5h1M791 328.5h2M826 328.5h2M908 328.5h2M942 328.5h2M622 329.5h2M673 329.5h1M683 329.5h1M707 329.5h3M732 329.5h1M734 329.5h1M753 329.5h1M755 329.5h1M772 329.5h1M790 329.5h1M824 329.5h2M910 329.5h2M941 329.5h1M624 330.5h2M674 330.5h1M682 330.5h1M708 330.5h1M731 330.5h1M735 330.5h1M752 330.5h1M756 330.5h1M772 330.5h1M786 330.5h1M788 330.5h2M798 330.5h1M822 330.5h2M860 330.5h7M912 330.5h2M940 330.5h1M626 331.5h1M675 331.5h2M707 331.5h1M710 331.5h1M730 331.5h1M736 331.5h1M751 331.5h1M757 331.5h1M770 331.5h1M773 331.5h1M787 331.5h1M820 331.5h2M856 331.5h2M859 331.5h1M914 331.5h2M938 331.5h2M627 332.5h2M677 332.5h1M706 332.5h1M711 332.5h2M729 332.5h1M737 332.5h1M750 332.5h1M758 332.5h1M768 332.5h2M774 332.5h1M786 332.5h1M819 332.5h1M852 332.5h4M916 332.5h2M937 332.5h1M629 333.5h2M651 333.5h1M678 333.5h3M713 333.5h1M728 333.5h1M738 333.5h1M749 333.5h1M759 333.5h1M767 333.5h1M775 333.5h1M784 333.5h2M800 333.5h1M816 333.5h2M849 333.5h3M918 333.5h2M936 333.5h1M631 334.5h2M680 334.5h1M714 334.5h1M727 334.5h1M739 334.5h1M748 334.5h1M760 334.5h1M766 334.5h1M776 334.5h1M783 334.5h1M789 334.5h1M799 334.5h1M815 334.5h1M846 334.5h1M848 334.5h1M920 334.5h2M935 334.5h1M633 335.5h2M681 335.5h2M704 335.5h1M715 335.5h1M726 335.5h1M740 335.5h1M747 335.5h1M761 335.5h1M765 335.5h1M782 335.5h1M790 335.5h1M798 335.5h1M813 335.5h2M843 335.5h3M922 335.5h1M934 335.5h1M635 336.5h1M678 336.5h1M683 336.5h1M703 336.5h1M716 336.5h2M741 336.5h1M746 336.5h1M762 336.5h1M764 336.5h1M781 336.5h1M791 336.5h1M796 336.5h2M802 336.5h1M811 336.5h2M821 336.5h1M841 336.5h2M923 336.5h2M933 336.5h1M636 337.5h2M684 337.5h2M718 337.5h1M742 337.5h2M745 337.5h1M763 337.5h1M778 337.5h1M780 337.5h1M795 337.5h1M803 337.5h1M810 337.5h1M838 337.5h3M925 337.5h1M932 337.5h1M638 338.5h2M648 338.5h1M686 338.5h2M719 338.5h1M724 338.5h1M744 338.5h1M762 338.5h1M764 338.5h1M779 338.5h1M794 338.5h1M808 338.5h2M837 338.5h1M868 338.5h1M926 338.5h2M931 338.5h1M640 339.5h2M688 339.5h1M701 339.5h1M720 339.5h1M723 339.5h1M743 339.5h1M745 339.5h1M761 339.5h1M765 339.5h1M778 339.5h1M780 339.5h1M793 339.5h1M807 339.5h1M834 339.5h2M864 339.5h4M928 339.5h1M930 339.5h1M642 340.5h2M689 340.5h1M721 340.5h2M742 340.5h1M746 340.5h1M760 340.5h1M766 340.5h1M777 340.5h1M781 340.5h1M792 340.5h1M794 340.5h1M805 340.5h2M832 340.5h2M860 340.5h4M929 340.5h1M644 341.5h3M675 341.5h1M690 341.5h2M722 341.5h2M741 341.5h1M747 341.5h1M759 341.5h1M767 341.5h1M775 341.5h2M782 341.5h1M790 341.5h2M795 341.5h1M804 341.5h3M824 341.5h1M831 341.5h1M857 341.5h3M930 341.5h2M646 342.5h2M692 342.5h2M699 342.5h1M721 342.5h1M724 342.5h1M740 342.5h1M748 342.5h1M758 342.5h1M768 342.5h1M774 342.5h1M783 342.5h1M789 342.5h1M796 342.5h1M803 342.5h1M829 342.5h2M854 342.5h3M932 342.5h1M573 343.5h1M648 343.5h1M694 343.5h1M720 343.5h1M725 343.5h2M749 343.5h2M757 343.5h1M769 343.5h1M773 343.5h1M784 343.5h1M788 343.5h1M797 343.5h1M802 343.5h1M827 343.5h2M851 343.5h1M853 343.5h1M927 343.5h1M933 343.5h1M955 343.5h1M574 344.5h2M649 344.5h2M695 344.5h2M727 344.5h1M751 344.5h1M756 344.5h1M770 344.5h1M772 344.5h1M785 344.5h1M787 344.5h1M801 344.5h1M808 344.5h1M826 344.5h1M850 344.5h2M934 344.5h1M953 344.5h2M576 345.5h2M651 345.5h2M697 345.5h1M728 345.5h2M738 345.5h1M752 345.5h1M755 345.5h1M771 345.5h1M786 345.5h1M798 345.5h3M809 345.5h1M824 345.5h2M848 345.5h2M935 345.5h1M951 345.5h2M578 346.5h2M653 346.5h2M672 346.5h1M698 346.5h2M718 346.5h1M730 346.5h1M737 346.5h1M753 346.5h2M770 346.5h1M772 346.5h1M785 346.5h1M787 346.5h1M799 346.5h1M810 346.5h1M823 346.5h1M841 346.5h1M846 346.5h2M936 346.5h1M950 346.5h1M580 347.5h3M655 347.5h2M700 347.5h2M731 347.5h1M769 347.5h1M773 347.5h1M784 347.5h1M788 347.5h1M797 347.5h1M811 347.5h1M821 347.5h2M828 347.5h1M844 347.5h2M867 347.5h3M937 347.5h1M948 347.5h2M583 348.5h2M657 348.5h2M702 348.5h1M732 348.5h2M753 348.5h1M755 348.5h2M768 348.5h1M774 348.5h1M783 348.5h1M789 348.5h1M796 348.5h1M820 348.5h1M842 348.5h1M863 348.5h4M938 348.5h1M946 348.5h2M585 349.5h3M659 349.5h2M703 349.5h2M716 349.5h1M735 349.5h1M752 349.5h1M757 349.5h1M775 349.5h1M782 349.5h1M790 349.5h1M795 349.5h1M819 349.5h1M840 349.5h2M861 349.5h3M939 349.5h1M945 349.5h1M588 350.5h2M661 350.5h2M705 350.5h2M734 350.5h3M758 350.5h1M776 350.5h1M781 350.5h1M791 350.5h1M794 350.5h1M813 350.5h1M818 350.5h1M830 350.5h1M839 350.5h1M859 350.5h2M940 350.5h1M944 350.5h1M590 351.5h3M663 351.5h2M707 351.5h1M737 351.5h1M759 351.5h2M766 351.5h1M777 351.5h1M780 351.5h1M792 351.5h2M814 351.5h1M816 351.5h2M837 351.5h2M857 351.5h2M941 351.5h1M943 351.5h1M593 352.5h3M665 352.5h2M693 352.5h1M708 352.5h2M733 352.5h1M738 352.5h2M750 352.5h1M761 352.5h1M765 352.5h1M778 352.5h2M792 352.5h2M815 352.5h1M836 352.5h1M855 352.5h1M942 352.5h1M596 353.5h2M667 353.5h2M710 353.5h2M740 353.5h1M749 353.5h1M762 353.5h1M764 353.5h1M778 353.5h2M791 353.5h1M794 353.5h1M814 353.5h1M816 353.5h1M832 353.5h1M834 353.5h2M845 353.5h1M853 353.5h2M873 353.5h1M941 353.5h1M598 354.5h3M668 354.5h3M713 354.5h1M741 354.5h2M777 354.5h1M780 354.5h1M790 354.5h1M795 354.5h1M813 354.5h1M817 354.5h1M833 354.5h1M851 354.5h2M870 354.5h2M894 354.5h8M903 354.5h8M940 354.5h1M601 355.5h2M671 355.5h2M712 355.5h3M731 355.5h1M743 355.5h1M763 355.5h3M781 355.5h2M789 355.5h1M796 355.5h1M812 355.5h1M832 355.5h1M850 355.5h1M866 355.5h4M888 355.5h6M911 355.5h6M939 355.5h1M603 356.5h3M673 356.5h2M715 356.5h2M744 356.5h2M747 356.5h1M762 356.5h1M766 356.5h1M783 356.5h1M788 356.5h1M797 356.5h1M811 356.5h1M830 356.5h2M847 356.5h3M865 356.5h2M884 356.5h4M917 356.5h5M938 356.5h1M606 357.5h1M608 357.5h1M675 357.5h2M717 357.5h2M767 357.5h2M775 357.5h1M784 357.5h1M787 357.5h1M798 357.5h1M810 357.5h1M819 357.5h1M829 357.5h1M835 357.5h1M847 357.5h1M858 357.5h1M863 357.5h2M881 357.5h3M921 357.5h3M937 357.5h1M609 358.5h2M677 358.5h3M719 358.5h2M746 358.5h3M769 358.5h1M774 358.5h1M786 358.5h1M799 358.5h1M809 358.5h1M820 358.5h1M828 358.5h1M836 358.5h1M845 358.5h2M861 358.5h2M878 358.5h3M924 358.5h3M611 359.5h3M680 359.5h2M721 359.5h1M745 359.5h1M749 359.5h1M760 359.5h1M770 359.5h1M800 359.5h1M808 359.5h1M821 359.5h1M827 359.5h1M837 359.5h1M844 359.5h1M849 359.5h1M875 359.5h3M927 359.5h2M614 360.5h3M682 360.5h2M722 360.5h2M750 360.5h2M771 360.5h3M801 360.5h1M807 360.5h1M822 360.5h1M826 360.5h1M842 360.5h2M850 360.5h1M858 360.5h3M873 360.5h3M929 360.5h3M935 360.5h1M617 361.5h2M684 361.5h2M724 361.5h2M752 361.5h2M772 361.5h1M784 361.5h1M802 361.5h1M806 361.5h1M823 361.5h1M825 361.5h1M841 361.5h1M856 361.5h2M871 361.5h2M932 361.5h3M619 362.5h3M686 362.5h3M726 362.5h2M754 362.5h1M758 362.5h1M774 362.5h2M803 362.5h3M824 362.5h1M839 362.5h2M855 362.5h1M861 362.5h1M869 362.5h2M622 363.5h3M688 363.5h3M727 363.5h3M755 363.5h3M776 363.5h1M804 363.5h2M823 363.5h1M825 363.5h1M839 363.5h2M854 363.5h1M868 363.5h1M625 364.5h3M691 364.5h2M730 364.5h2M757 364.5h2M770 364.5h1M777 364.5h2M782 364.5h1M803 364.5h1M806 364.5h1M822 364.5h1M826 364.5h1M838 364.5h1M841 364.5h1M852 364.5h2M866 364.5h2M628 365.5h3M693 365.5h2M732 365.5h2M759 365.5h1M779 365.5h1M802 365.5h1M807 365.5h1M821 365.5h1M827 365.5h1M837 365.5h1M842 365.5h1M851 365.5h1M863 365.5h3M631 366.5h3M695 366.5h3M734 366.5h2M760 366.5h2M780 366.5h1M808 366.5h1M820 366.5h1M828 366.5h1M836 366.5h1M843 366.5h1M850 366.5h1M634 367.5h3M698 367.5h2M736 367.5h2M762 367.5h2M780 367.5h3M809 367.5h2M819 367.5h1M829 367.5h1M835 367.5h1M844 367.5h1M849 367.5h1M855 367.5h1M862 367.5h1M637 368.5h3M700 368.5h2M738 368.5h3M764 368.5h2M783 368.5h2M800 368.5h1M811 368.5h1M818 368.5h1M830 368.5h1M834 368.5h1M845 368.5h1M848 368.5h1M856 368.5h1M860 368.5h2M640 369.5h3M702 369.5h2M740 369.5h2M754 369.5h1M767 369.5h1M785 369.5h1M812 369.5h1M817 369.5h1M831 369.5h1M833 369.5h1M846 369.5h2M859 369.5h1M643 370.5h2M704 370.5h2M742 370.5h2M766 370.5h3M778 370.5h1M786 370.5h2M813 370.5h1M816 370.5h1M832 370.5h1M845 370.5h3M858 370.5h1M645 371.5h4M707 371.5h2M744 371.5h2M769 371.5h2M788 371.5h1M798 371.5h1M814 371.5h2M831 371.5h1M833 371.5h1M844 371.5h1M848 371.5h1M856 371.5h1M881 371.5h1M914 371.5h5M920 371.5h5M649 372.5h3M709 372.5h3M746 372.5h2M771 372.5h2M789 372.5h2M815 372.5h2M830 372.5h1M834 372.5h1M843 372.5h1M855 372.5h1M908 372.5h6M925 372.5h6M652 373.5h3M712 373.5h2M748 373.5h2M773 373.5h2M791 373.5h2M814 373.5h1M817 373.5h2M829 373.5h1M835 373.5h1M842 373.5h1M854 373.5h1M904 373.5h4M655 374.5h3M714 374.5h3M750 374.5h1M776 374.5h1M793 374.5h1M796 374.5h1M819 374.5h1M828 374.5h1M836 374.5h2M841 374.5h1M850 374.5h1M853 374.5h1M902 374.5h2M658 375.5h1M660 375.5h1M717 375.5h2M751 375.5h3M794 375.5h2M820 375.5h1M838 375.5h1M840 375.5h1M851 375.5h2M899 375.5h3M661 376.5h3M719 376.5h1M721 376.5h1M754 376.5h2M795 376.5h3M812 376.5h1M821 376.5h2M884 376.5h1M897 376.5h2M664 377.5h3M722 377.5h3M756 377.5h3M798 377.5h2M823 377.5h1M826 377.5h1M839 377.5h2M850 377.5h1M895 377.5h2M667 378.5h4M725 378.5h2M759 378.5h2M800 378.5h1M825 378.5h1M838 378.5h1M841 378.5h1M849 378.5h1M893 378.5h2M671 379.5h3M727 379.5h3M762 379.5h1M801 379.5h2M810 379.5h1M826 379.5h1M837 379.5h1M842 379.5h2M848 379.5h1M886 379.5h1M892 379.5h1M674 380.5h3M730 380.5h3M763 380.5h3M803 380.5h2M827 380.5h2M844 380.5h1M887 380.5h1M890 380.5h2M677 381.5h5M733 381.5h2M766 381.5h2M805 381.5h2M829 381.5h1M845 381.5h1M888 381.5h2M561 382.5h3M682 382.5h2M734 382.5h4M768 382.5h2M807 382.5h2M830 382.5h2M835 382.5h1M846 382.5h1M920 382.5h9M965 382.5h2M564 383.5h5M684 383.5h4M738 383.5h3M770 383.5h3M808 383.5h3M822 383.5h1M832 383.5h1M845 383.5h1M848 383.5h1M886 383.5h2M889 383.5h1M918 383.5h2M963 383.5h2M569 384.5h5M688 384.5h3M741 384.5h3M773 384.5h2M811 384.5h1M833 384.5h2M849 384.5h1M885 384.5h1M890 384.5h1M915 384.5h3M961 384.5h2M574 385.5h5M691 385.5h4M744 385.5h2M775 385.5h3M812 385.5h2M835 385.5h2M850 385.5h2M884 385.5h1M891 385.5h1M912 385.5h3M959 385.5h2M579 386.5h5M695 386.5h4M747 386.5h2M778 386.5h2M814 386.5h2M837 386.5h1M843 386.5h1M852 386.5h1M883 386.5h1M892 386.5h1M910 386.5h2M958 386.5h1M584 387.5h5M701 387.5h1M749 387.5h3M780 387.5h2M816 387.5h2M838 387.5h2M853 387.5h2M882 387.5h1M909 387.5h2M957 387.5h1M589 388.5h6M702 388.5h4M752 388.5h3M782 388.5h3M818 388.5h2M840 388.5h3M855 388.5h1M881 388.5h1M907 388.5h2M936 388.5h2M956 388.5h1M595 389.5h2M598 389.5h2M706 389.5h4M755 389.5h4M785 389.5h3M819 389.5h3M856 389.5h2M880 389.5h1M894 389.5h1M906 389.5h1M929 389.5h7M938 389.5h7M955 389.5h1M600 390.5h6M710 390.5h4M758 390.5h4M822 390.5h3M858 390.5h1M879 390.5h1M895 390.5h1M904 390.5h2M912 390.5h1M925 390.5h4M945 390.5h3M954 390.5h1M606 391.5h5M714 391.5h4M762 391.5h3M790 391.5h3M825 391.5h2M859 391.5h2M878 391.5h1M896 391.5h1M903 391.5h1M923 391.5h2M948 391.5h3M953 391.5h1M611 392.5h6M718 392.5h4M765 392.5h4M793 392.5h3M827 392.5h3M861 392.5h2M877 392.5h1M897 392.5h1M902 392.5h1M921 392.5h2M951 392.5h2M617 393.5h6M722 393.5h4M796 393.5h3M830 393.5h1M863 393.5h1M898 393.5h1M901 393.5h1M914 393.5h1M919 393.5h2M623 394.5h6M726 394.5h4M799 394.5h2M831 394.5h3M864 394.5h2M899 394.5h2M917 394.5h2M628 395.5h7M732 395.5h2M801 395.5h1M803 395.5h1M834 395.5h2M866 395.5h2M875 395.5h1M899 395.5h2M916 395.5h1M635 396.5h6M734 396.5h4M804 396.5h3M836 396.5h3M868 396.5h1M898 396.5h1M901 396.5h1M641 397.5h6M738 397.5h5M807 397.5h3M869 397.5h2M897 397.5h1M902 397.5h1M914 397.5h1M647 398.5h8M745 398.5h2M810 398.5h3M871 398.5h3M896 398.5h1M903 398.5h1M913 398.5h1M655 399.5h5M747 399.5h5M813 399.5h4M873 399.5h2M895 399.5h1M904 399.5h1M912 399.5h1M660 400.5h7M752 400.5h3M817 400.5h3M875 400.5h2M905 400.5h1M911 400.5h1M667 401.5h6M755 401.5h6M820 401.5h3M877 401.5h2M906 401.5h1M910 401.5h1M673 402.5h3M677 402.5h4M761 402.5h6M823 402.5h2M826 402.5h1M879 402.5h2M907 402.5h3M969 402.5h1M681 403.5h7M766 403.5h5M827 403.5h3M881 403.5h2M966 403.5h3M688 404.5h7M771 404.5h5M830 404.5h4M883 404.5h2M907 404.5h1M936 404.5h1M949 404.5h1M951 404.5h5M965 404.5h1M695 405.5h8M776 405.5h5M834 405.5h1M885 405.5h3M946 405.5h3M956 405.5h4M964 405.5h1M703 406.5h7M781 406.5h6M888 406.5h2M943 406.5h3M960 406.5h2M963 406.5h1M710 407.5h3M714 407.5h4M787 407.5h5M891 407.5h1M938 407.5h1M942 407.5h1M962 407.5h1M718 408.5h9M792 408.5h6M892 408.5h3M941 408.5h1M727 409.5h1M729 409.5h6M798 409.5h7M895 409.5h2M940 409.5h1M735 410.5h6M742 410.5h2M805 410.5h6M897 410.5h3M938 410.5h1M744 411.5h9M811 411.5h1M813 411.5h4M900 411.5h3M937 411.5h1M754 412.5h9M817 412.5h6M824 412.5h1M936 412.5h1M763 413.5h1M824 413.5h7M953 413.5h1M958 413.5h6M831 414.5h2M956 414.5h2M964 414.5h2M955 415.5h1M966 415.5h1M967 416.5h1M953 417.5h1M968 417.5h1M962 418.5h1M969 418.5h1M963 419.5h1M964 420.5h1M965 421.5h1M966 422.5h1M967 423.5h3M966 424.5h1M965 425.5h1M964 426.5h1M963 427.5h1M952 428.5h1M962 428.5h1M953 429.5h1M968 429.5h1M967 430.5h1M954 431.5h3M966 431.5h1M830 432.5h3M957 432.5h2M964 432.5h2M762 433.5h2M824 433.5h6M936 433.5h1M953 433.5h1M959 433.5h1M961 433.5h3M752 434.5h1M754 434.5h8M816 434.5h7M902 434.5h1M937 434.5h1M743 435.5h9M810 435.5h2M813 435.5h3M900 435.5h2M938 435.5h1M734 436.5h7M742 436.5h1M804 436.5h6M897 436.5h3M726 437.5h2M729 437.5h5M798 437.5h1M800 437.5h4M894 437.5h3M940 437.5h1M717 438.5h9M792 438.5h6M891 438.5h3M941 438.5h1M709 439.5h4M714 439.5h3M786 439.5h6M889 439.5h3M938 439.5h1M942 439.5h1M962 439.5h1M702 440.5h7M781 440.5h5M887 440.5h2M943 440.5h2M958 440.5h3M963 440.5h1M694 441.5h8M775 441.5h6M833 441.5h2M885 441.5h2M907 441.5h1M945 441.5h4M955 441.5h3M964 441.5h1M687 442.5h7M770 442.5h5M830 442.5h3M883 442.5h2M936 442.5h1M949 442.5h1M951 442.5h4M965 442.5h2M680 443.5h7M765 443.5h5M826 443.5h4M881 443.5h2M967 443.5h2M673 444.5h7M761 444.5h4M823 444.5h4M879 444.5h2M907 444.5h3M969 444.5h1M666 445.5h7M755 445.5h6M819 445.5h4M877 445.5h2M906 445.5h1M910 445.5h1M659 446.5h7M751 446.5h5M815 446.5h4M875 446.5h2M895 446.5h1M905 446.5h1M911 446.5h1M653 447.5h1M655 447.5h4M747 447.5h4M813 447.5h3M873 447.5h1M896 447.5h1M904 447.5h1M912 447.5h1M647 448.5h6M742 448.5h1M744 448.5h3M810 448.5h3M871 448.5h2M903 448.5h1M913 448.5h1M640 449.5h7M738 449.5h4M807 449.5h3M869 449.5h2M902 449.5h1M914 449.5h1M634 450.5h6M733 450.5h5M803 450.5h4M836 450.5h3M867 450.5h2M875 450.5h1M898 450.5h1M901 450.5h1M628 451.5h6M729 451.5h1M731 451.5h2M801 451.5h3M833 451.5h3M866 451.5h1M899 451.5h2M916 451.5h1M622 452.5h7M725 452.5h4M798 452.5h3M831 452.5h2M864 452.5h2M899 452.5h2M917 452.5h1M617 453.5h5M721 453.5h4M795 453.5h3M829 453.5h1M862 453.5h2M877 453.5h1M898 453.5h1M901 453.5h1M914 453.5h1M918 453.5h2M611 454.5h6M716 454.5h5M764 454.5h4M793 454.5h2M826 454.5h3M861 454.5h1M878 454.5h1M897 454.5h1M902 454.5h1M913 454.5h1M920 454.5h2M950 454.5h3M605 455.5h6M713 455.5h4M761 455.5h3M790 455.5h3M824 455.5h2M859 455.5h2M896 455.5h1M903 455.5h1M923 455.5h2M947 455.5h3M953 455.5h1M600 456.5h5M709 456.5h4M758 456.5h3M787 456.5h1M789 456.5h1M822 456.5h2M858 456.5h1M895 456.5h1M904 456.5h1M925 456.5h3M944 456.5h3M954 456.5h1M594 457.5h6M706 457.5h3M755 457.5h4M785 457.5h2M819 457.5h3M856 457.5h2M880 457.5h1M894 457.5h1M905 457.5h1M928 457.5h16M955 457.5h1M589 458.5h5M702 458.5h4M752 458.5h3M782 458.5h3M818 458.5h3M840 458.5h3M855 458.5h1M881 458.5h1M893 458.5h1M906 458.5h2M956 458.5h1M584 459.5h5M698 459.5h1M700 459.5h2M749 459.5h3M780 459.5h2M816 459.5h2M838 459.5h2M843 459.5h1M853 459.5h2M882 459.5h1M908 459.5h3M957 459.5h1M578 460.5h6M694 460.5h4M746 460.5h3M777 460.5h3M814 460.5h2M833 460.5h1M836 460.5h2M852 460.5h1M883 460.5h1M910 460.5h2M958 460.5h1M573 461.5h5M691 461.5h3M743 461.5h3M775 461.5h2M812 461.5h2M834 461.5h2M850 461.5h2M884 461.5h1M891 461.5h1M912 461.5h2M959 461.5h2M568 462.5h5M687 462.5h4M741 462.5h2M771 462.5h4M810 462.5h2M833 462.5h2M845 462.5h1M849 462.5h1M885 462.5h1M890 462.5h1M914 462.5h3M961 462.5h2M563 463.5h5M684 463.5h3M738 463.5h3M770 463.5h1M772 463.5h1M808 463.5h1M832 463.5h1M835 463.5h1M848 463.5h1M886 463.5h1M889 463.5h1M917 463.5h3M963 463.5h3M561 464.5h2M681 464.5h3M735 464.5h3M768 464.5h2M807 464.5h1M823 464.5h1M830 464.5h2M846 464.5h2M887 464.5h2M920 464.5h9M966 464.5h1M677 465.5h5M732 465.5h4M765 465.5h3M805 465.5h2M829 465.5h1M845 465.5h1M888 465.5h2M674 466.5h3M729 466.5h3M762 466.5h3M803 466.5h2M810 466.5h1M827 466.5h2M837 466.5h1M844 466.5h1M848 466.5h1M887 466.5h1M890 466.5h1M670 467.5h4M727 467.5h2M761 467.5h2M801 467.5h2M825 467.5h1M842 467.5h2M849 467.5h1M886 467.5h1M891 467.5h2M667 468.5h3M724 468.5h3M758 468.5h3M799 468.5h2M824 468.5h1M841 468.5h1M850 468.5h1M893 468.5h1M664 469.5h3M721 469.5h3M756 469.5h2M798 469.5h1M823 469.5h1M839 469.5h2M851 469.5h1M894 469.5h2M660 470.5h4M719 470.5h3M754 470.5h2M795 470.5h3M821 470.5h2M827 470.5h1M839 470.5h2M852 470.5h1M884 470.5h1M896 470.5h3M658 471.5h3M716 471.5h3M752 471.5h2M794 471.5h3M813 471.5h1M820 471.5h1M828 471.5h1M837 471.5h2M841 471.5h1M851 471.5h1M899 471.5h2M654 472.5h4M714 472.5h2M750 472.5h1M752 472.5h1M774 472.5h3M792 472.5h2M814 472.5h1M818 472.5h2M836 472.5h1M842 472.5h1M850 472.5h1M901 472.5h3M651 473.5h3M712 473.5h2M748 473.5h2M772 473.5h2M791 473.5h1M817 473.5h1M835 473.5h1M843 473.5h1M849 473.5h1M854 473.5h1M904 473.5h4M648 474.5h3M709 474.5h3M746 474.5h2M771 474.5h1M789 474.5h2M798 474.5h1M816 474.5h1M830 474.5h1M834 474.5h1M844 474.5h1M848 474.5h1M855 474.5h1M908 474.5h7M922 474.5h9M645 475.5h3M705 475.5h4M744 475.5h2M769 475.5h2M778 475.5h1M788 475.5h1M814 475.5h3M831 475.5h1M833 475.5h1M845 475.5h1M847 475.5h1M856 475.5h1M881 475.5h1M915 475.5h4M920 475.5h2M642 476.5h3M704 476.5h2M740 476.5h4M754 476.5h1M767 476.5h2M786 476.5h2M813 476.5h1M817 476.5h1M832 476.5h1M846 476.5h1M639 477.5h3M702 477.5h2M739 477.5h2M765 477.5h3M784 477.5h2M800 477.5h1M812 477.5h1M831 477.5h1M833 477.5h1M847 477.5h1M857 477.5h3M635 478.5h4M700 478.5h2M737 478.5h2M764 478.5h1M768 478.5h1M783 478.5h1M811 478.5h1M830 478.5h1M834 478.5h1M848 478.5h1M856 478.5h1M860 478.5h1M633 479.5h3M697 479.5h3M735 479.5h2M762 479.5h2M780 479.5h3M809 479.5h2M819 479.5h1M829 479.5h1M835 479.5h1M844 479.5h1M849 479.5h1M855 479.5h1M861 479.5h1M631 480.5h2M695 480.5h2M733 480.5h2M760 480.5h2M781 480.5h1M802 480.5h1M808 480.5h1M820 480.5h1M828 480.5h1M836 480.5h1M843 480.5h1M850 480.5h1M854 480.5h1M862 480.5h2M627 481.5h4M692 481.5h3M732 481.5h1M757 481.5h3M770 481.5h1M778 481.5h2M782 481.5h1M803 481.5h1M807 481.5h1M821 481.5h1M827 481.5h1M837 481.5h1M842 481.5h1M851 481.5h1M863 481.5h2M625 482.5h2M690 482.5h2M730 482.5h2M777 482.5h1M804 482.5h3M822 482.5h1M826 482.5h1M838 482.5h1M841 482.5h1M852 482.5h1M862 482.5h1M865 482.5h2M622 483.5h3M689 483.5h1M727 483.5h3M755 483.5h2M758 483.5h1M775 483.5h2M804 483.5h1M823 483.5h1M825 483.5h1M839 483.5h2M852 483.5h1M867 483.5h2M619 484.5h3M686 484.5h3M726 484.5h3M754 484.5h1M774 484.5h1M784 484.5h1M803 484.5h1M824 484.5h1M839 484.5h2M851 484.5h1M854 484.5h2M869 484.5h2M934 484.5h1M616 485.5h3M684 485.5h2M724 485.5h2M752 485.5h2M773 485.5h1M802 485.5h1M806 485.5h1M823 485.5h1M825 485.5h1M841 485.5h1M856 485.5h2M871 485.5h2M931 485.5h2M614 486.5h2M682 486.5h2M722 486.5h2M745 486.5h1M750 486.5h2M771 486.5h3M801 486.5h1M807 486.5h1M822 486.5h1M826 486.5h1M842 486.5h1M858 486.5h1M873 486.5h3M928 486.5h3M935 486.5h1M611 487.5h3M679 487.5h3M720 487.5h2M749 487.5h1M770 487.5h1M774 487.5h1M786 487.5h1M800 487.5h1M808 487.5h1M821 487.5h1M827 487.5h1M837 487.5h1M843 487.5h2M849 487.5h1M859 487.5h1M875 487.5h3M926 487.5h2M608 488.5h3M677 488.5h2M719 488.5h1M746 488.5h3M761 488.5h1M768 488.5h2M785 488.5h1M787 488.5h1M799 488.5h1M809 488.5h1M820 488.5h1M828 488.5h1M836 488.5h1M845 488.5h1M861 488.5h2M878 488.5h2M923 488.5h3M675 489.5h2M717 489.5h2M747 489.5h1M762 489.5h1M767 489.5h1M784 489.5h1M788 489.5h1M798 489.5h1M810 489.5h1M819 489.5h1M829 489.5h1M835 489.5h1M846 489.5h3M858 489.5h1M863 489.5h2M880 489.5h4M921 489.5h2M937 489.5h1M603 490.5h3M673 490.5h2M715 490.5h2M731 490.5h1M744 490.5h2M766 490.5h1M776 490.5h1M783 490.5h1M789 490.5h1M797 490.5h1M811 490.5h1M818 490.5h1M830 490.5h1M847 490.5h1M865 490.5h2M884 490.5h4M915 490.5h5M938 490.5h1M600 491.5h3M671 491.5h2M713 491.5h1M743 491.5h1M763 491.5h3M777 491.5h1M781 491.5h2M796 491.5h1M812 491.5h1M831 491.5h1M849 491.5h2M866 491.5h3M888 491.5h7M909 491.5h6M939 491.5h1M598 492.5h2M668 492.5h3M712 492.5h1M741 492.5h2M749 492.5h1M764 492.5h1M778 492.5h1M780 492.5h1M795 492.5h1M813 492.5h1M832 492.5h2M851 492.5h2M869 492.5h3M895 492.5h7M903 492.5h6M940 492.5h1M595 493.5h3M667 493.5h3M693 493.5h1M710 493.5h2M733 493.5h1M739 493.5h2M762 493.5h1M765 493.5h1M779 493.5h1M791 493.5h1M794 493.5h1M814 493.5h1M816 493.5h1M832 493.5h3M845 493.5h1M853 493.5h1M941 493.5h1M593 494.5h2M665 494.5h2M708 494.5h2M738 494.5h1M760 494.5h2M778 494.5h1M792 494.5h2M815 494.5h1M835 494.5h1M854 494.5h2M942 494.5h1M590 495.5h3M663 495.5h2M706 495.5h2M737 495.5h1M751 495.5h1M759 495.5h1M777 495.5h1M792 495.5h2M814 495.5h1M816 495.5h1M836 495.5h2M855 495.5h4M941 495.5h1M943 495.5h1M588 496.5h2M661 496.5h2M705 496.5h1M716 496.5h1M735 496.5h1M752 496.5h1M758 496.5h1M767 496.5h1M776 496.5h1M781 496.5h1M791 496.5h1M794 496.5h1M813 496.5h1M817 496.5h1M830 496.5h1M838 496.5h2M859 496.5h2M940 496.5h1M944 496.5h2M585 497.5h3M659 497.5h2M703 497.5h2M734 497.5h1M757 497.5h1M768 497.5h1M774 497.5h2M782 497.5h1M790 497.5h1M795 497.5h1M812 497.5h1M818 497.5h1M840 497.5h1M861 497.5h3M939 497.5h1M946 497.5h1M583 498.5h2M657 498.5h2M701 498.5h2M732 498.5h2M755 498.5h2M769 498.5h1M773 498.5h1M783 498.5h1M789 498.5h1M796 498.5h1M819 498.5h2M841 498.5h2M863 498.5h3M938 498.5h1M947 498.5h1M580 499.5h3M655 499.5h2M700 499.5h1M718 499.5h1M731 499.5h1M737 499.5h1M754 499.5h1M770 499.5h1M772 499.5h1M784 499.5h1M788 499.5h1M797 499.5h1M821 499.5h1M828 499.5h1M842 499.5h3M866 499.5h4M937 499.5h1M948 499.5h2M578 500.5h2M653 500.5h2M697 500.5h3M729 500.5h2M738 500.5h1M753 500.5h1M755 500.5h1M771 500.5h1M785 500.5h1M787 500.5h1M798 500.5h2M810 500.5h1M822 500.5h2M827 500.5h1M841 500.5h1M845 500.5h2M935 500.5h2M950 500.5h1M575 501.5h3M651 501.5h2M673 501.5h1M697 501.5h1M728 501.5h1M752 501.5h1M756 501.5h1M770 501.5h1M772 501.5h1M786 501.5h1M798 501.5h2M809 501.5h1M824 501.5h1M847 501.5h2M934 501.5h1M951 501.5h2M573 502.5h2M649 502.5h2M695 502.5h2M720 502.5h1M727 502.5h1M750 502.5h2M757 502.5h1M769 502.5h1M773 502.5h1M785 502.5h1M787 502.5h1M800 502.5h1M808 502.5h1M826 502.5h1M849 502.5h3M933 502.5h1M953 502.5h3M646 503.5h3M693 503.5h2M699 503.5h1M725 503.5h2M740 503.5h1M749 503.5h1M758 503.5h1M768 503.5h1M774 503.5h1M784 503.5h1M788 503.5h1M801 503.5h1M827 503.5h1M851 503.5h3M927 503.5h1M932 503.5h1M645 504.5h2M692 504.5h1M724 504.5h1M741 504.5h1M748 504.5h1M767 504.5h1M775 504.5h1M783 504.5h1M789 504.5h1M796 504.5h1M802 504.5h2M828 504.5h2M854 504.5h3M931 504.5h1M644 505.5h1M690 505.5h2M722 505.5h2M742 505.5h1M747 505.5h1M766 505.5h1M776 505.5h1M782 505.5h1M790 505.5h1M795 505.5h1M804 505.5h1M806 505.5h1M824 505.5h1M830 505.5h2M857 505.5h3M928 505.5h3M642 506.5h2M676 506.5h1M689 506.5h1M701 506.5h1M721 506.5h3M746 506.5h1M760 506.5h1M765 506.5h1M777 506.5h1M781 506.5h1M791 506.5h1M794 506.5h1M805 506.5h1M832 506.5h2M860 506.5h1M862 506.5h1M929 506.5h1M640 507.5h2M648 507.5h1M687 507.5h2M720 507.5h1M743 507.5h3M761 507.5h1M764 507.5h1M778 507.5h1M780 507.5h1M793 507.5h1M806 507.5h2M834 507.5h1M863 507.5h5M927 507.5h1M930 507.5h1M638 508.5h2M686 508.5h1M719 508.5h1M744 508.5h1M762 508.5h2M779 508.5h1M792 508.5h3M808 508.5h1M835 508.5h1M837 508.5h1M868 508.5h1M925 508.5h2M931 508.5h1M636 509.5h2M678 509.5h1M684 509.5h2M703 509.5h1M717 509.5h2M725 509.5h1M742 509.5h1M745 509.5h1M762 509.5h2M778 509.5h1M780 509.5h1M795 509.5h1M803 509.5h1M809 509.5h2M838 509.5h2M924 509.5h1M932 509.5h1M634 510.5h2M683 510.5h1M704 510.5h1M716 510.5h1M726 510.5h1M741 510.5h1M746 510.5h1M761 510.5h1M764 510.5h1M777 510.5h1M781 510.5h1M791 510.5h1M796 510.5h1M802 510.5h1M811 510.5h1M821 510.5h1M840 510.5h2M922 510.5h2M933 510.5h1M633 511.5h1M681 511.5h2M715 511.5h1M727 511.5h1M740 511.5h1M747 511.5h1M760 511.5h1M765 511.5h1M782 511.5h1M790 511.5h1M797 511.5h2M812 511.5h2M842 511.5h3M921 511.5h1M934 511.5h1M631 512.5h2M680 512.5h1M713 512.5h2M728 512.5h1M739 512.5h1M748 512.5h1M759 512.5h1M766 512.5h1M783 512.5h1M789 512.5h1M799 512.5h1M814 512.5h1M845 512.5h2M848 512.5h1M919 512.5h2M935 512.5h1M629 513.5h2M678 513.5h2M706 513.5h1M712 513.5h1M729 513.5h1M738 513.5h1M749 513.5h1M758 513.5h1M767 513.5h1M775 513.5h1M784 513.5h1M800 513.5h1M815 513.5h2M847 513.5h5M917 513.5h2M936 513.5h1M627 514.5h2M652 514.5h1M677 514.5h1M707 514.5h1M711 514.5h1M737 514.5h1M750 514.5h1M768 514.5h1M774 514.5h1M785 514.5h1M817 514.5h3M852 514.5h3M915 514.5h2M937 514.5h1M625 515.5h2M675 515.5h2M682 515.5h1M710 515.5h1M736 515.5h1M751 515.5h1M769 515.5h1M773 515.5h1M786 515.5h2M818 515.5h3M855 515.5h5M913 515.5h2M938 515.5h2M624 516.5h1M674 516.5h1M709 516.5h1M731 516.5h1M735 516.5h1M752 516.5h1M756 516.5h1M770 516.5h1M772 516.5h1M788 516.5h1M798 516.5h1M821 516.5h2M860 516.5h9M911 516.5h2M940 516.5h1M620 517.5h1M622 517.5h2M654 517.5h1M673 517.5h1M707 517.5h3M732 517.5h1M734 517.5h1M753 517.5h1M755 517.5h1M789 517.5h2M823 517.5h3M909 517.5h2M941 517.5h1M671 518.5h2M684 518.5h1M706 518.5h1M710 518.5h1M733 518.5h1M754 518.5h1M771 518.5h3M791 518.5h1M826 518.5h2M908 518.5h1M942 518.5h2M619 519.5h3M670 519.5h1M685 519.5h1M705 519.5h1M711 519.5h1M732 519.5h1M734 519.5h1M753 519.5h1M755 519.5h1M770 519.5h1M774 519.5h1M784 519.5h1M792 519.5h1M796 519.5h1M828 519.5h2M904 519.5h4M944 519.5h2M617 520.5h2M656 520.5h1M668 520.5h2M704 520.5h1M712 520.5h1M731 520.5h1M735 520.5h1M752 520.5h1M756 520.5h1M769 520.5h1M775 520.5h1M783 520.5h1M793 520.5h3M830 520.5h3M901 520.5h3M946 520.5h1M615 521.5h2M657 521.5h1M667 521.5h1M703 521.5h1M713 521.5h1M730 521.5h1M736 521.5h1M751 521.5h1M757 521.5h1M768 521.5h1M776 521.5h2M795 521.5h2M832 521.5h4M898 521.5h3M614 522.5h1M623 522.5h1M666 522.5h1M687 522.5h1M701 522.5h2M714 522.5h1M729 522.5h1M737 522.5h1M750 522.5h1M758 522.5h1M778 522.5h1M797 522.5h1M836 522.5h3M895 522.5h3M612 523.5h2M664 523.5h2M688 523.5h1M700 523.5h1M728 523.5h1M738 523.5h1M749 523.5h1M759 523.5h1M779 523.5h3M798 523.5h2M839 523.5h4M891 523.5h4M610 524.5h2M659 524.5h1M663 524.5h1M689 524.5h1M699 524.5h1M727 524.5h1M739 524.5h1M760 524.5h1M766 524.5h1M781 524.5h1M793 524.5h1M800 524.5h2M843 524.5h5M886 524.5h5M609 525.5h1M625 525.5h1M662 525.5h1M690 525.5h1M698 525.5h1M716 525.5h1M726 525.5h1M740 525.5h1M761 525.5h2M765 525.5h1M782 525.5h2M802 525.5h2M848 525.5h6M880 525.5h6M607 526.5h2M660 526.5h2M691 526.5h1M697 526.5h1M717 526.5h1M725 526.5h1M741 526.5h1M747 526.5h1M764 526.5h1M779 526.5h1M784 526.5h1M804 526.5h2M854 526.5h2M857 526.5h23M606 527.5h1M659 527.5h1M696 527.5h1M718 527.5h1M724 527.5h1M742 527.5h1M746 527.5h1M764 527.5h1M785 527.5h2M806 527.5h2M604 528.5h2M627 528.5h1M658 528.5h1M662 528.5h1M695 528.5h1M719 528.5h1M723 528.5h1M743 528.5h1M745 528.5h1M765 528.5h2M787 528.5h1M808 528.5h2M602 529.5h2M656 529.5h2M663 529.5h1M693 529.5h2M720 529.5h1M722 529.5h1M744 529.5h1M762 529.5h1M767 529.5h1M777 529.5h1M788 529.5h3M810 529.5h3M912 529.5h1M601 530.5h1M655 530.5h1M692 530.5h1M721 530.5h1M743 530.5h1M745 530.5h2M768 530.5h2M813 530.5h2M599 531.5h2M629 531.5h1M654 531.5h1M691 531.5h1M695 531.5h1M720 531.5h1M722 531.5h1M747 531.5h1M770 531.5h1M789 531.5h1M815 531.5h3M598 532.5h1M652 532.5h2M665 532.5h1M690 532.5h1M696 532.5h1M719 532.5h1M723 532.5h1M748 532.5h1M760 532.5h1M771 532.5h2M818 532.5h3M914 532.5h1M596 533.5h2M651 533.5h1M666 533.5h1M689 533.5h1M697 533.5h1M718 533.5h1M724 533.5h1M741 533.5h1M749 533.5h1M759 533.5h1M773 533.5h1M821 533.5h4M915 533.5h1M595 534.5h1M631 534.5h1M650 534.5h1M667 534.5h1M688 534.5h1M698 534.5h1M725 534.5h1M740 534.5h1M750 534.5h2M774 534.5h1M825 534.5h2M916 534.5h1M593 535.5h2M632 535.5h1M649 535.5h1M687 535.5h1M699 535.5h1M726 535.5h1M739 535.5h1M752 535.5h1M776 535.5h2M827 535.5h6M917 535.5h1M592 536.5h1M647 536.5h2M686 536.5h1M700 536.5h1M716 536.5h1M727 536.5h1M753 536.5h2M757 536.5h1M778 536.5h2M833 536.5h6M918 536.5h1M591 537.5h1M646 537.5h1M669 537.5h1M685 537.5h1M701 537.5h1M715 537.5h1M728 537.5h2M755 537.5h2M780 537.5h1M839 537.5h3M843 537.5h4M864 537.5h3M919 537.5h1M634 538.5h1M645 538.5h1M670 538.5h1M684 538.5h1M702 538.5h1M714 538.5h1M730 538.5h1M737 538.5h1M756 538.5h2M781 538.5h2M847 538.5h9M857 538.5h7M920 538.5h1M635 539.5h1M644 539.5h1M671 539.5h1M683 539.5h1M703 539.5h1M713 539.5h1M731 539.5h1M736 539.5h1M755 539.5h1M758 539.5h1M771 539.5h1M783 539.5h3M921 539.5h1M636 540.5h1M642 540.5h2M672 540.5h1M682 540.5h1M704 540.5h1M712 540.5h1M732 540.5h1M735 540.5h1M759 540.5h2M784 540.5h4M922 540.5h1M641 541.5h1M673 541.5h1M681 541.5h1M705 541.5h1M711 541.5h1M733 541.5h2M761 541.5h1M788 541.5h2M923 541.5h1M640 542.5h1M674 542.5h1M680 542.5h1M706 542.5h1M710 542.5h1M734 542.5h2M753 542.5h1M762 542.5h2M790 542.5h2M924 542.5h1M638 543.5h2M675 543.5h1M679 543.5h1M707 543.5h1M733 543.5h1M736 543.5h2M764 543.5h2M792 543.5h3M925 543.5h1M638 544.5h2M676 544.5h1M678 544.5h1M708 544.5h1M738 544.5h1M766 544.5h3M795 544.5h2M926 544.5h1M636 545.5h2M640 545.5h1M677 545.5h1M708 545.5h1M739 545.5h1M768 545.5h2M797 545.5h3M927 545.5h1M635 546.5h1M641 546.5h1M678 546.5h1M707 546.5h1M710 546.5h1M731 546.5h1M740 546.5h2M770 546.5h2M800 546.5h4M928 546.5h1M634 547.5h1M642 547.5h1M679 547.5h1M706 547.5h1M711 547.5h2M730 547.5h1M742 547.5h2M750 547.5h1M772 547.5h2M804 547.5h1M806 547.5h1M929 547.5h1M633 548.5h1M675 548.5h1M680 548.5h1M705 548.5h1M713 548.5h1M744 548.5h1M774 548.5h2M807 548.5h4M632 549.5h1M674 549.5h1M681 549.5h1M714 549.5h1M745 549.5h2M776 549.5h2M811 549.5h4M867 549.5h2M631 550.5h1M644 550.5h1M673 550.5h1M682 550.5h1M715 550.5h1M728 550.5h1M747 550.5h2M778 550.5h1M780 550.5h1M815 550.5h6M862 550.5h5M629 551.5h2M645 551.5h1M672 551.5h1M683 551.5h1M703 551.5h1M716 551.5h2M748 551.5h2M821 551.5h3M825 551.5h3M854 551.5h2M857 551.5h5M628 552.5h1M646 552.5h1M671 552.5h1M684 552.5h1M702 552.5h1M718 552.5h1M747 552.5h1M750 552.5h2M828 552.5h26M627 553.5h1M647 553.5h1M670 553.5h1M685 553.5h1M701 553.5h1M719 553.5h2M726 553.5h1M752 553.5h2M626 554.5h1M648 554.5h1M669 554.5h1M686 554.5h1M721 554.5h1M754 554.5h2M625 555.5h1M649 555.5h1M668 555.5h1M687 555.5h1M722 555.5h2M756 555.5h2M624 556.5h1M650 556.5h1M667 556.5h1M688 556.5h1M699 556.5h1M724 556.5h1M758 556.5h2M623 557.5h1M651 557.5h1M666 557.5h1M689 557.5h2M698 557.5h1M725 557.5h2M760 557.5h3M622 558.5h1M652 558.5h1M665 558.5h1M691 558.5h1M697 558.5h1M727 558.5h1M761 558.5h3M621 559.5h1M653 559.5h1M664 559.5h1M692 559.5h1M722 559.5h1M728 559.5h2M764 559.5h3M620 560.5h1M654 560.5h1M663 560.5h1M693 560.5h1M730 560.5h2M767 560.5h2M619 561.5h1M655 561.5h1M662 561.5h1M694 561.5h2M732 561.5h1M742 561.5h1M769 561.5h3M618 562.5h1M656 562.5h1M696 562.5h1M720 562.5h1M733 562.5h2M772 562.5h4M871 562.5h3M617 563.5h1M657 563.5h1M697 563.5h2M735 563.5h2M775 563.5h3M868 563.5h3M616 564.5h1M658 564.5h1M660 564.5h1M699 564.5h1M737 564.5h2M778 564.5h3M865 564.5h3M615 565.5h1M659 565.5h1M692 565.5h1M700 565.5h2M740 565.5h1M781 565.5h3M861 565.5h4M614 566.5h1M658 566.5h1M660 566.5h1M702 566.5h1M741 566.5h2M784 566.5h4M858 566.5h1M860 566.5h1M657 567.5h1M661 567.5h2M703 567.5h1M717 567.5h1M743 567.5h2M788 567.5h5M853 567.5h5M656 568.5h1M663 568.5h1M690 568.5h1M704 568.5h2M745 568.5h3M793 568.5h5M848 568.5h5M664 569.5h1M689 569.5h1M706 569.5h2M748 569.5h2M798 569.5h7M841 569.5h1M843 569.5h5M665 570.5h1M708 570.5h1M750 570.5h2M805 570.5h12M829 570.5h12M654 571.5h1M666 571.5h1M709 571.5h2M752 571.5h3M817 571.5h6M824 571.5h5M653 572.5h1M667 572.5h2M687 572.5h1M711 572.5h2M755 572.5h3M652 573.5h1M669 573.5h1M713 573.5h2M758 573.5h2M651 574.5h1M670 574.5h1M715 574.5h1M760 574.5h3M671 575.5h2M685 575.5h1M716 575.5h2M763 575.5h4M879 575.5h1M673 576.5h1M718 576.5h2M767 576.5h3M876 576.5h2M649 577.5h1M674 577.5h2M720 577.5h2M874 577.5h2M648 578.5h1M676 578.5h1M683 578.5h1M722 578.5h2M872 578.5h2M647 579.5h1M677 579.5h2M724 579.5h2M870 579.5h2M679 580.5h1M726 580.5h3M868 580.5h2M882 580.5h1M681 581.5h1M729 581.5h2M866 581.5h2M645 582.5h1M682 582.5h1M731 582.5h1M863 582.5h3M644 583.5h1M683 583.5h2M732 583.5h4M861 583.5h2M679 584.5h1M685 584.5h2M736 584.5h2M858 584.5h3M687 585.5h1M738 585.5h3M855 585.5h3M885 585.5h1M642 586.5h1M688 586.5h2M741 586.5h3M852 586.5h3M886 586.5h1M641 587.5h1M690 587.5h2M744 587.5h3M849 587.5h3M887 587.5h1M640 588.5h1M692 588.5h2M747 588.5h4M847 588.5h2M888 588.5h1M676 589.5h1M694 589.5h2M750 589.5h4M842 589.5h5M696 590.5h2M754 590.5h4M838 590.5h4M698 591.5h1M758 591.5h5M834 591.5h4M699 592.5h3M763 592.5h4M829 592.5h5M869 592.5h1M702 593.5h2M767 593.5h7M823 593.5h1M826 593.5h3M673 594.5h1M703 594.5h3M774 594.5h8M814 594.5h9M706 595.5h2M782 595.5h32M708 596.5h3M711 597.5h2M872 597.5h1M713 598.5h2M873 598.5h1M715 599.5h3M718 600.5h3M669 601.5h1M721 601.5h3M725 602.5h2M727 603.5h3M667 604.5h1M730 604.5h4M666 605.5h1M734 605.5h4M738 606.5h4M742 607.5h4M747 608.5h6M753 609.5h7M760 610.5h5M693 617.5h1M831 619.5h1M718 625.5h1M595.5 404v38M596.5 396v8M596.5 442v8M597.5 389v7M597.5 450v6M598.5 385v4M598.5 456v1M598.5 458v4M599.5 380v5M599.5 462v4M600.5 376v4M600.5 466v4M601.5 372v4M601.5 470v4M602.5 369v3M602.5 474v3M603.5 366v3M603.5 477v3M604.5 363v3M604.5 480v3M605.5 360v3M605.5 483v3M606.5 358v2M606.5 486v4M607.5 354v4M607.5 489v3M608.5 352v2M608.5 492v2M609.5 350v2M609.5 494v3M610.5 347v3M610.5 497v2M611.5 345v2M611.5 499v2M612.5 343v2M612.5 501v2M613.5 341v2M613.5 503v2M614.5 339v2M614.5 505v2M615.5 337v2M615.5 507v2M616.5 335v2M616.5 509v2M617.5 333v2M617.5 511v2M618.5 331v2M618.5 513v2M619.5 329v2M619.5 515v2M621.5 326v1M621.5 328v1M621.5 518v1M622.5 324v2M622.5 520v2M624.5 321v2M624.5 523v2M626.5 318v2M626.5 408v30M626.5 526v2M627.5 399v9M627.5 438v9M628.5 315v2M628.5 393v1M628.5 396v3M628.5 447v4M628.5 529v2M629.5 388v5M629.5 453v5M630.5 312v2M630.5 383v5M630.5 458v5M630.5 532v2M631.5 379v4M631.5 463v4M632.5 376v3M632.5 467v3M633.5 308v2M633.5 372v4M633.5 470v4M633.5 536v2M634.5 369v3M634.5 474v3M635.5 366v1M635.5 368v1M635.5 477v1M636.5 364v2M636.5 480v3M637.5 303v2M637.5 361v3M637.5 483v2M637.5 541v2M638.5 358v3M638.5 485v3M639.5 356v2M639.5 488v2M640.5 354v2M640.5 490v3M641.5 351v3M641.5 493v2M642.5 349v2M642.5 495v2M643.5 261v2M643.5 347v2M643.5 497v2M643.5 548v2M643.5 584v2M644.5 345v2M644.5 499v2M645.5 343v2M645.5 501v2M646.5 580v2M647.5 266v2M647.5 339v2M647.5 505v2M649.5 336v2M649.5 508v2M650.5 334v2M650.5 510v2M650.5 575v2M651.5 271v2M651.5 512v2M652.5 331v2M652.5 417v12M653.5 329v2M653.5 404v13M653.5 429v13M653.5 515v2M654.5 397v1M654.5 399v5M654.5 442v7M655.5 392v5M655.5 449v5M655.5 518v2M655.5 569v2M656.5 277v2M656.5 325v2M656.5 387v5M656.5 454v5M657.5 383v4M657.5 459v4M658.5 322v2M658.5 379v4M658.5 463v4M658.5 522v2M659.5 375v4M659.5 467v3M660.5 373v2M660.5 472v1M660.5 525v1M661.5 370v3M661.5 473v3M661.5 527v1M661.5 562v2M662.5 284v2M662.5 367v3M662.5 476v3M663.5 365v2M663.5 479v2M664.5 314v2M664.5 362v3M664.5 481v3M664.5 530v2M665.5 360v2M665.5 484v2M666.5 358v2M666.5 486v3M667.5 355v3M667.5 489v2M668.5 491v1M668.5 535v2M668.5 602v2M669.5 244v2M669.5 351v2M669.5 494v1M670.5 246v2M670.5 349v2M670.5 495v2M670.5 599v2M671.5 248v2M671.5 347v2M671.5 497v2M671.5 597v2M672.5 250v2M672.5 499v2M672.5 595v2M673.5 344v2M674.5 253v2M674.5 342v2M674.5 502v2M674.5 592v2M675.5 255v2M675.5 412v22M675.5 504v2M675.5 590v2M676.5 339v2M676.5 402v10M676.5 434v9M676.5 546v2M677.5 258v2M677.5 337v2M677.5 396v6M677.5 443v1M677.5 445v5M677.5 507v2M677.5 587v2M678.5 392v4M678.5 450v5M678.5 585v2M679.5 261v2M679.5 334v2M679.5 387v5M679.5 455v4M679.5 510v2M680.5 263v2M680.5 384v3M680.5 459v4M680.5 581v3M681.5 331v2M681.5 380v1M681.5 382v2M681.5 463v1M681.5 513v2M682.5 266v2M682.5 377v3M682.5 466v3M682.5 579v2M683.5 374v3M683.5 469v3M683.5 516v2M684.5 269v2M684.5 327v2M684.5 371v3M684.5 472v3M684.5 576v2M685.5 369v2M685.5 475v2M686.5 272v2M686.5 366v3M686.5 477v3M686.5 520v2M686.5 573v2M687.5 323v2M687.5 364v2M687.5 480v2M688.5 482v2M688.5 570v2M689.5 276v2M689.5 359v3M689.5 485v2M690.5 357v2M690.5 487v2M691.5 279v2M691.5 355v2M691.5 489v2M691.5 566v2M692.5 353v2M692.5 491v2M692.5 527v2M693.5 282v2M693.5 563v2M694.5 230v3M694.5 350v2M694.5 494v2M694.5 530v1M694.5 562v1M694.5 614v3M695.5 233v3M695.5 348v2M695.5 409v28M695.5 496v2M695.5 611v3M696.5 236v2M696.5 286v2M696.5 346v2M696.5 401v4M696.5 406v3M696.5 437v4M696.5 442v3M696.5 498v2M696.5 559v2M696.5 609v2M697.5 238v3M697.5 396v5M697.5 445v5M697.5 606v3M698.5 241v2M698.5 343v2M698.5 391v5M698.5 450v5M698.5 501v2M698.5 604v2M699.5 243v2M699.5 387v4M699.5 455v5M699.5 602v2M700.5 245v2M700.5 291v2M700.5 340v2M700.5 384v4M700.5 460v2M700.5 504v2M700.5 554v2M700.5 599v3M701.5 247v3M701.5 381v3M701.5 462v4M701.5 597v2M702.5 250v2M702.5 337v2M702.5 378v3M702.5 466v2M702.5 507v2M702.5 595v2M703.5 375v3M703.5 468v3M704.5 254v2M704.5 296v2M704.5 372v3M704.5 471v3M704.5 549v2M704.5 591v2M705.5 256v2M705.5 333v2M705.5 371v1M705.5 474v1M705.5 511v2M705.5 589v2M706.5 258v2M706.5 367v4M706.5 476v3M706.5 587v2M707.5 260v2M707.5 365v2M707.5 479v2M707.5 585v2M708.5 262v2M708.5 363v2M708.5 481v2M708.5 515v2M708.5 583v2M709.5 264v2M709.5 328v1M709.5 330v1M709.5 361v2M709.5 483v2M709.5 543v3M709.5 581v2M710.5 266v2M710.5 303v2M710.5 359v2M710.5 485v2M710.5 579v2M711.5 268v2M711.5 357v2M711.5 487v2M711.5 577v2M712.5 270v2M712.5 354v1M712.5 356v1M712.5 412v22M712.5 489v2M712.5 575v2M713.5 272v1M713.5 403v9M713.5 434v9M713.5 574v1M714.5 274v1M714.5 352v2M714.5 398v5M714.5 443v5M714.5 491v3M714.5 572v1M715.5 275v2M715.5 350v2M715.5 393v5M715.5 448v5M715.5 494v2M715.5 523v2M715.5 570v2M716.5 389v2M716.5 392v1M716.5 453v1M716.5 456v1M716.5 568v2M717.5 278v2M717.5 347v2M717.5 386v3M717.5 457v3M717.5 497v2M717.5 534v2M718.5 280v2M718.5 383v3M718.5 460v4M718.5 565v2M719.5 222v4M719.5 313v2M719.5 344v2M719.5 380v3M719.5 464v2M719.5 500v2M719.5 563v2M719.5 621v4M720.5 226v4M720.5 283v2M720.5 376v4M720.5 466v3M720.5 617v4M721.5 230v4M721.5 285v2M721.5 375v1M721.5 471v1M721.5 503v2M721.5 560v2M721.5 613v4M722.5 234v3M722.5 372v3M722.5 472v2M722.5 609v4M723.5 237v4M723.5 288v2M723.5 370v2M723.5 474v2M723.5 557v2M723.5 606v3M724.5 241v4M724.5 368v2M724.5 476v2M724.5 507v2M724.5 602v4M725.5 245v2M725.5 290v3M725.5 336v2M725.5 366v2M725.5 478v2M725.5 554v2M725.5 600v2M726.5 247v3M726.5 364v2M726.5 480v2M726.5 597v3M727.5 250v3M727.5 294v2M727.5 415v16M727.5 482v1M727.5 551v2M727.5 594v3M728.5 253v2M728.5 360v2M728.5 405v10M728.5 431v10M728.5 485v1M728.5 591v3M729.5 255v3M729.5 297v2M729.5 358v2M729.5 400v5M729.5 441v5M729.5 486v2M729.5 548v2M729.5 589v2M730.5 258v3M730.5 356v2M730.5 395v5M730.5 446v6M730.5 488v2M730.5 514v2M730.5 586v3M731.5 261v2M731.5 391v5M731.5 452v3M731.5 584v2M732.5 263v1M732.5 301v2M732.5 353v2M732.5 388v3M732.5 455v4M732.5 491v2M732.5 544v2M732.5 581v2M733.5 264v4M733.5 384v4M733.5 459v3M733.5 579v2M734.5 268v2M734.5 349v1M734.5 351v1M734.5 383v1M734.5 462v2M734.5 494v2M734.5 577v2M735.5 270v2M735.5 305v2M735.5 379v3M735.5 466v1M735.5 575v2M736.5 272v3M736.5 347v2M736.5 377v2M736.5 467v3M736.5 496v3M736.5 572v3M737.5 275v2M737.5 374v3M737.5 470v2M737.5 570v2M738.5 277v2M738.5 309v2M738.5 372v2M738.5 472v2M738.5 536v2M738.5 568v2M739.5 279v2M739.5 343v2M739.5 370v2M739.5 474v2M739.5 501v2M739.5 565v3M740.5 282v1M740.5 564v1M741.5 283v2M741.5 366v2M741.5 410v27M741.5 478v2M741.5 562v2M742.5 217v5M742.5 364v2M742.5 403v7M742.5 437v6M742.5 480v2M742.5 531v2M742.5 625v5M743.5 222v7M743.5 286v2M743.5 315v2M743.5 362v2M743.5 398v5M743.5 443v6M743.5 482v2M743.5 506v1M743.5 508v1M743.5 559v2M743.5 618v7M744.5 229v6M744.5 288v2M744.5 360v2M744.5 394v5M744.5 449v3M744.5 484v2M744.5 557v2M744.5 612v6M745.5 235v4M745.5 290v2M745.5 390v4M745.5 452v4M745.5 555v2M745.5 608v4M746.5 240v4M746.5 292v2M746.5 357v1M746.5 386v4M746.5 456v3M746.5 487v1M746.5 489v1M746.5 553v2M746.5 602v6M747.5 244v5M747.5 384v2M747.5 459v1M747.5 461v1M747.5 598v4M748.5 249v4M748.5 354v2M748.5 382v2M748.5 462v3M748.5 490v2M748.5 524v2M748.5 594v4M749.5 253v3M749.5 297v2M749.5 322v2M749.5 379v3M749.5 465v2M749.5 548v2M749.5 591v3M750.5 256v1M750.5 258v2M750.5 377v2M750.5 467v2M750.5 493v2M750.5 587v1M750.5 590v1M751.5 260v3M751.5 300v2M751.5 350v2M751.5 374v1M751.5 376v1M751.5 469v4M751.5 545v2M751.5 584v3M752.5 263v3M752.5 302v2M752.5 372v2M752.5 473v1M752.5 543v2M752.5 581v3M753.5 266v3M753.5 370v2M753.5 411v24M753.5 474v2M753.5 497v2M753.5 578v3M754.5 269v3M754.5 305v2M754.5 347v1M754.5 404v7M754.5 435v7M754.5 540v2M754.5 575v3M755.5 272v2M755.5 367v2M755.5 399v2M755.5 402v2M755.5 442v3M755.5 477v2M755.5 573v2M756.5 275v2M756.5 365v2M756.5 395v4M756.5 447v4M756.5 479v2M756.5 570v2M757.5 277v2M757.5 391v4M757.5 451v4M757.5 482v1M757.5 514v2M757.5 567v3M758.5 279v3M758.5 311v2M758.5 388v1M758.5 455v1M758.5 534v2M758.5 565v2M759.5 282v2M759.5 360v2M759.5 385v3M759.5 458v3M759.5 484v2M759.5 504v2M759.5 563v2M760.5 284v3M760.5 383v2M760.5 461v2M760.5 486v2M760.5 560v3M761.5 287v3M761.5 315v2M761.5 357v2M761.5 379v4M761.5 463v3M761.5 530v2M761.5 559v1M762.5 290v1M762.5 378v1M762.5 556v1M763.5 291v2M763.5 354v1M763.5 376v2M763.5 468v2M763.5 490v1M763.5 492v1M763.5 526v3M763.5 554v2M764.5 216v18M764.5 293v2M764.5 374v2M764.5 410v26M764.5 470v2M764.5 552v2M764.5 612v19M765.5 234v10M765.5 295v2M765.5 372v2M765.5 404v6M765.5 436v6M765.5 472v2M765.5 550v2M765.5 603v9M766.5 244v6M766.5 297v2M766.5 369v1M766.5 371v1M766.5 399v3M766.5 442v1M766.5 444v3M766.5 474v2M766.5 494v2M766.5 548v2M766.5 597v6M767.5 250v3M767.5 254v2M767.5 299v2M767.5 323v2M767.5 349v2M767.5 395v4M767.5 447v4M767.5 522v2M767.5 546v2M767.5 591v2M767.5 594v3M768.5 256v5M768.5 367v2M768.5 393v2M768.5 451v3M768.5 586v5M769.5 261v4M769.5 303v2M769.5 365v2M769.5 389v3M769.5 454v3M769.5 479v2M769.5 542v2M769.5 582v4M770.5 265v5M770.5 386v3M770.5 457v3M770.5 540v2M770.5 577v5M771.5 269v3M771.5 306v2M771.5 328v3M771.5 362v2M771.5 384v2M771.5 460v2M771.5 463v1M771.5 482v2M771.5 517v1M771.5 574v4M772.5 272v4M772.5 308v2M772.5 381v2M772.5 464v1M772.5 484v2M772.5 537v2M772.5 571v3M773.5 276v3M773.5 310v2M773.5 359v1M773.5 361v1M773.5 379v2M773.5 465v2M773.5 535v2M773.5 568v3M774.5 279v3M774.5 377v2M774.5 467v2M774.5 565v3M775.5 282v1M775.5 314v1M775.5 374v3M775.5 469v2M775.5 488v2M775.5 532v3M775.5 564v1M776.5 285v3M776.5 355v2M776.5 373v1M776.5 471v1M776.5 511v2M776.5 530v2M776.5 559v3M777.5 288v2M777.5 316v2M777.5 335v2M777.5 371v2M777.5 473v2M777.5 556v3M778.5 290v3M778.5 318v2M778.5 527v2M778.5 554v2M779.5 293v4M779.5 368v2M779.5 476v2M779.5 550v4M780.5 297v1M780.5 321v1M780.5 323v1M780.5 478v1M780.5 480v1M780.5 494v2M780.5 524v2M780.5 549v1M781.5 298v2M781.5 365v2M781.5 547v2M782.5 300v2M782.5 422v2M782.5 521v2M782.5 544v3M783.5 302v2M783.5 325v2M783.5 362v2M783.5 409v13M783.5 424v13M783.5 482v2M783.5 542v2M784.5 304v4M784.5 404v2M784.5 407v2M784.5 437v3M784.5 441v1M784.5 541v1M785.5 308v1M785.5 328v2M785.5 358v3M785.5 399v5M785.5 442v5M785.5 485v2M785.5 517v2M785.5 538v1M786.5 309v2M786.5 396v3M786.5 447v3M786.5 516v1M786.5 536v2M787.5 311v2M787.5 393v3M787.5 450v3M787.5 534v2M788.5 313v2M788.5 332v2M788.5 390v3M788.5 453v4M788.5 513v2M788.5 532v2M789.5 387v4M789.5 457v2M790.5 316v1M790.5 385v2M790.5 459v2M790.5 491v2M790.5 530v1M791.5 318v2M791.5 383v2M791.5 461v2M791.5 527v2M792.5 337v2M792.5 381v2M792.5 463v2M792.5 507v1M792.5 509v1M792.5 525v2M793.5 321v2M793.5 379v2M793.5 465v2M794.5 323v2M794.5 377v2M794.5 467v2M794.5 522v2M795.5 469v1M796.5 325v1M796.5 327v1M797.5 328v2M797.5 372v2M797.5 472v2M797.5 502v2M797.5 517v2M798.5 240v11M798.5 252v10M798.5 344v1M798.5 346v1M798.5 415v16M798.5 585v10M798.5 596v11M799.5 229v11M799.5 262v10M799.5 331v2M799.5 369v2M799.5 408v1M799.5 410v5M799.5 431v7M799.5 475v2M799.5 514v2M799.5 575v10M799.5 607v11M800.5 223v6M800.5 272v5M800.5 278v1M800.5 403v5M800.5 438v5M800.5 568v1M800.5 570v5M800.5 618v6M801.5 220v3M801.5 279v6M801.5 334v2M801.5 366v2M801.5 399v4M801.5 443v4M801.5 478v2M801.5 511v2M801.5 562v6M801.5 624v3M802.5 285v4M802.5 395v4M802.5 447v3M802.5 558v4M803.5 289v4M803.5 393v2M803.5 452v1M803.5 554v4M804.5 293v4M804.5 338v2M804.5 391v2M804.5 453v3M804.5 507v2M804.5 550v4M805.5 297v4M805.5 388v3M805.5 456v2M805.5 483v2M805.5 546v4M806.5 301v3M806.5 386v2M806.5 458v2M806.5 543v3M807.5 304v3M807.5 342v2M807.5 384v2M807.5 460v2M807.5 503v2M807.5 540v3M808.5 307v3M808.5 462v1M808.5 537v3M809.5 310v2M809.5 380v2M809.5 463v3M809.5 535v2M810.5 312v3M810.5 532v3M811.5 315v3M811.5 377v2M811.5 419v8M811.5 467v2M811.5 498v2M811.5 530v2M812.5 317v3M812.5 348v2M812.5 410v9M812.5 427v9M812.5 469v2M812.5 527v2M813.5 320v2M813.5 374v2M813.5 405v5M813.5 436v5M813.5 525v2M814.5 322v2M814.5 401v4M814.5 441v4M814.5 523v2M815.5 324v2M815.5 398v1M815.5 400v1M815.5 445v1M815.5 473v2M815.5 521v2M816.5 326v2M816.5 395v3M816.5 448v3M816.5 519v2M817.5 328v2M817.5 393v2M817.5 451v2M817.5 491v2M817.5 517v2M818.5 330v3M818.5 355v2M818.5 390v3M818.5 453v3M818.5 477v2M818.5 516v1M819.5 333v1M819.5 456v1M819.5 513v1M820.5 334v2M820.5 386v2M820.5 459v1M820.5 511v2M821.5 384v2M821.5 460v2M822.5 337v2M822.5 462v2M822.5 508v2M823.5 261v29M823.5 339v2M823.5 381v2M823.5 412v22M823.5 506v2M823.5 557v29M824.5 253v8M824.5 290v8M824.5 378v3M824.5 407v5M824.5 434v5M824.5 465v2M824.5 549v8M824.5 586v8M825.5 247v7M825.5 298v6M825.5 342v2M825.5 402v5M825.5 439v4M825.5 502v3M825.5 543v6M825.5 593v7M826.5 242v5M826.5 304v4M826.5 400v2M826.5 445v1M826.5 467v3M826.5 501v1M826.5 539v4M826.5 600v4M827.5 238v4M827.5 308v5M827.5 345v2M827.5 375v2M827.5 397v3M827.5 446v3M827.5 534v1M827.5 536v3M827.5 604v5M828.5 235v3M828.5 313v3M828.5 395v2M828.5 449v3M828.5 531v3M828.5 609v3M829.5 231v4M829.5 316v3M829.5 348v2M829.5 393v2M829.5 452v1M829.5 472v2M829.5 497v2M829.5 527v4M829.5 612v3M830.5 228v3M830.5 319v4M830.5 390v2M830.5 453v3M830.5 524v3M830.5 615v4M831.5 323v2M831.5 351v2M831.5 388v2M831.5 456v2M831.5 494v2M831.5 522v2M832.5 326v2M832.5 386v2M832.5 458v2M832.5 519v1M833.5 328v3M833.5 385v1M833.5 412v22M833.5 516v3M834.5 331v2M834.5 355v2M834.5 383v1M834.5 407v5M834.5 434v5M834.5 490v2M834.5 514v2M835.5 333v2M835.5 403v4M835.5 439v4M835.5 512v2M836.5 335v4M836.5 380v2M836.5 400v3M836.5 443v3M836.5 464v2M836.5 508v4M837.5 339v1M837.5 398v2M837.5 446v2M837.5 507v1M838.5 340v2M838.5 360v2M838.5 395v1M838.5 397v1M838.5 448v2M838.5 467v2M838.5 485v2M838.5 505v2M839.5 342v2M839.5 376v1M839.5 393v2M839.5 451v2M839.5 503v2M840.5 344v2M840.5 391v2M840.5 453v2M840.5 501v2M841.5 286v8M841.5 295v7M841.5 389v2M841.5 455v2M841.5 545v7M841.5 553v8M842.5 277v9M842.5 302v10M842.5 347v1M842.5 387v1M842.5 389v1M842.5 457v1M842.5 535v10M842.5 561v10M843.5 270v6M843.5 312v6M843.5 348v3M843.5 496v2M843.5 529v6M843.5 571v6M844.5 265v5M844.5 318v5M844.5 351v2M844.5 384v2M844.5 460v2M844.5 494v2M844.5 525v4M844.5 577v5M845.5 261v4M845.5 322v5M845.5 477v2M845.5 520v4M845.5 582v4M846.5 257v1M846.5 259v2M846.5 327v3M846.5 354v2M846.5 463v1M846.5 491v2M846.5 517v3M846.5 586v3M847.5 254v3M847.5 330v5M847.5 380v3M847.5 465v1M847.5 512v1M847.5 514v3M847.5 590v3M848.5 251v3M848.5 335v2M848.5 357v2M848.5 488v1M848.5 490v1M848.5 510v2M848.5 593v3M849.5 248v3M849.5 337v2M849.5 372v2M849.5 508v2M849.5 596v3M850.5 246v2M850.5 339v3M850.5 485v2M850.5 505v3M850.5 599v2M851.5 243v3M851.5 342v1M851.5 361v2M851.5 376v1M851.5 504v1M851.5 601v2M852.5 241v2M852.5 343v4M852.5 363v1M852.5 500v2M852.5 603v3M853.5 239v2M853.5 347v2M853.5 471v2M853.5 481v3M853.5 498v2M853.5 606v2M854.5 237v2M854.5 349v2M854.5 365v2M854.5 496v2M854.5 608v2M855.5 351v1M856.5 295v28M856.5 352v3M856.5 492v2M856.5 524v29M857.5 287v7M857.5 323v6M857.5 355v2M857.5 369v3M857.5 476v1M857.5 490v2M857.5 518v6M857.5 553v7M858.5 283v4M858.5 329v5M858.5 513v2M858.5 516v2M858.5 560v4M859.5 278v1M859.5 280v3M859.5 334v4M859.5 358v2M859.5 488v1M859.5 509v4M859.5 564v4M860.5 275v3M860.5 338v2M860.5 359v1M860.5 361v1M860.5 485v3M860.5 507v2M860.5 568v4M861.5 272v3M861.5 341v3M861.5 483v2M861.5 502v5M861.5 572v3M862.5 269v3M862.5 344v4M862.5 363v2M862.5 499v3M862.5 575v3M863.5 266v3M863.5 366v1M863.5 578v3M864.5 265v1M864.5 350v3M864.5 494v3M864.5 581v1M865.5 262v2M865.5 353v2M865.5 492v2M865.5 583v2M866.5 259v3M866.5 585v3M867.5 257v2M867.5 309v11M867.5 321v9M867.5 357v2M867.5 416v14M867.5 488v2M867.5 518v8M867.5 527v11M867.5 588v2M868.5 255v2M868.5 303v7M868.5 329v8M868.5 359v2M868.5 411v5M868.5 430v5M868.5 486v2M868.5 510v6M868.5 517v1M868.5 537v7M868.5 590v2M869.5 253v2M869.5 297v6M869.5 337v5M869.5 361v1M869.5 407v4M869.5 435v4M869.5 485v1M869.5 505v5M869.5 544v6M870.5 293v5M870.5 342v5M870.5 405v2M870.5 439v2M870.5 500v5M870.5 549v5M870.5 593v2M871.5 250v2M871.5 290v3M871.5 346v4M871.5 402v3M871.5 441v3M871.5 497v4M871.5 554v3M871.5 595v2M872.5 248v2M872.5 287v3M872.5 350v4M872.5 400v2M872.5 444v2M872.5 493v4M872.5 557v3M873.5 284v3M873.5 354v1M873.5 446v1M873.5 491v3M873.5 560v2M874.5 281v3M874.5 355v3M874.5 396v2M874.5 447v3M874.5 489v2M874.5 563v3M875.5 279v2M875.5 358v1M875.5 488v1M875.5 566v2M876.5 277v2M876.5 361v2M876.5 393v2M876.5 451v2M876.5 484v2M876.5 568v2M877.5 274v3M877.5 363v2M877.5 482v2M877.5 570v3M878.5 272v2M878.5 365v2M878.5 480v2M878.5 573v3M879.5 367v2M879.5 455v2M879.5 478v2M880.5 269v2M880.5 369v2M880.5 476v2M880.5 576v2M881.5 267v2M881.5 578v2M882.5 265v2M882.5 372v2M882.5 473v2M883.5 374v2M883.5 471v2M883.5 581v2M884.5 262v2M884.5 583v2M885.5 377v2M885.5 468v2M888.5 382v1M888.5 415v16M889.5 411v4M889.5 431v4M890.5 407v4M890.5 435v3M891.5 406v1M892.5 404v2M892.5 440v2M892.5 459v2M893.5 387v2M893.5 402v2M893.5 442v2M894.5 400v2M894.5 444v2M897.5 448v2M902.5 343v23M902.5 415v16M902.5 481v23M903.5 338v5M903.5 366v5M903.5 412v3M903.5 431v4M903.5 476v5M903.5 504v5M904.5 334v4M904.5 371v2M904.5 409v3M904.5 435v2M904.5 474v2M904.5 509v4M905.5 331v3M905.5 374v3M905.5 407v2M905.5 437v2M905.5 470v3M905.5 513v3M906.5 327v4M906.5 377v3M906.5 405v2M906.5 439v2M906.5 467v3M906.5 516v2M907.5 326v1M907.5 380v2M907.5 465v2M907.5 518v1M907.5 520v1M908.5 324v2M908.5 382v2M908.5 403v1M908.5 442v2M908.5 463v2M908.5 521v2M909.5 322v2M909.5 384v2M909.5 461v2M909.5 523v2M910.5 320v2M910.5 525v2M911.5 318v2M911.5 388v2M911.5 457v2M911.5 527v2M912.5 455v2M913.5 315v2M913.5 391v2M913.5 530v2M915.5 394v3M915.5 450v3M916.5 311v2M919.5 363v17M919.5 467v17M920.5 358v5M920.5 380v2M920.5 383v2M920.5 462v2M920.5 465v2M920.5 484v6M921.5 355v1M921.5 385v3M921.5 459v3M921.5 490v2M922.5 352v3M922.5 388v3M922.5 455v4M922.5 492v3M923.5 350v2M923.5 495v2M924.5 348v2M924.5 497v2M925.5 346v2M925.5 499v2M926.5 344v2M926.5 501v2M928.5 341v2M928.5 504v1M928.5 506v1M929.5 376v12M929.5 459v12M930.5 371v1M930.5 373v3M930.5 388v1M930.5 390v2M930.5 454v3M930.5 458v1M930.5 471v3M930.5 475v1M931.5 368v3M931.5 392v4M931.5 451v3M931.5 476v3M932.5 365v3M932.5 396v2M932.5 449v2M932.5 479v3M933.5 363v2M933.5 398v2M933.5 418v10M933.5 447v2M933.5 482v3M934.5 362v1M934.5 400v2M934.5 415v3M934.5 428v3M934.5 445v2M934.5 485v1M935.5 402v2M935.5 413v2M935.5 431v2M935.5 443v2M936.5 358v2M936.5 487v2M937.5 405v2M937.5 440v2M939.5 408v3M939.5 436v3M950.5 397v11M950.5 439v11M951.5 394v3M951.5 408v3M951.5 420v8M951.5 436v3M951.5 450v3M952.5 393v1M952.5 411v2M952.5 418v2M952.5 434v2M952.5 453v1M954.5 414v3M954.5 430v1M954.5 432v1M960.5 410v3M960.5 414v2M960.5 431v6M961.5 408v2M961.5 416v2M961.5 429v2M961.5 437v3M969.5 427v2M970.5 419v8"/>
</g>
<g class="tl" fill="#bdbdc3">
<text transform="translate(593.04 421.64) rotate(-90) scale(0.68 1)">0.1</text>
<text transform="translate(561.54 382.5) rotate(-168.58) scale(0.68 1)" x="-1.47" y="-2" text-anchor="end">0.1</text>
<text transform="translate(561.54 464.38) rotate(348.58) scale(0.68 1)" x="1.47" y="-2">-0.1</text>
<text transform="translate(624.37 421.64) rotate(-90) scale(0.68 1)">0.2</text>
<text transform="translate(573.35 343.92) rotate(-157.38) scale(0.68 1)" x="-1.47" y="-2" text-anchor="end">0.2</text>
<text transform="translate(573.35 502.96) rotate(337.38) scale(0.68 1)" x="1.47" y="-2">-0.2</text>
<text transform="translate(650.87 421.64) rotate(-90) scale(0.68 1)">0.3</text>
<text transform="translate(591.59 309.63) rotate(-146.6) scale(0.68 1)" x="-1.47" y="-2" text-anchor="end">0.3</text>
<text transform="translate(591.59 537.25) rotate(326.6) scale(0.68 1)" x="1.47" y="-2">-0.3</text>
<text transform="translate(673.59 421.64) rotate(-90) scale(0.68 1)">0.4</text>
<text transform="translate(614.48 280.85) rotate(-136.4) scale(0.68 1)" x="-1.47" y="-2" text-anchor="end">0.4</text>
<text transform="translate(614.48 566.03) rotate(316.4) scale(0.68 1)" x="1.47" y="-2">-0.4</text>
<text transform="translate(693.28 421.64) rotate(-90) scale(0.68 1)">0.5</text>
<text transform="translate(640.15 258.04) rotate(-126.87) scale(0.68 1)" x="-1.47" y="-2" text-anchor="end">0.5</text>
<text transform="translate(640.15 588.84) rotate(306.87) scale(0.68 1)" x="1.47" y="-2">-0.5</text>
<text transform="translate(710.51 421.64) rotate(-90) scale(0.68 1)">0.6</text>
<text transform="translate(666.91 241.01) rotate(-118.07) scale(0.68 1)" x="-1.47" y="-2" text-anchor="end">0.6</text>
<text transform="translate(666.91 605.87) rotate(298.07) scale(0.68 1)" x="1.47" y="-2">-0.6</text>
<text transform="translate(725.71 421.64) rotate(-90) scale(0.68 1)">0.7</text>
<text transform="translate(693.43 229.18) rotate(-110.02) scale(0.68 1)" x="-1.47" y="-2" text-anchor="end">0.7</text>
<text transform="translate(693.43 617.7) rotate(290.02) scale(0.68 1)" x="1.47" y="-2">-0.7</text>
<text transform="translate(739.23 421.64) rotate(-90) scale(0.68 1)">0.8</text>
<text transform="translate(718.82 221.73) rotate(-102.68) scale(0.68 1)" x="-1.47" y="-2" text-anchor="end">0.8</text>
<text transform="translate(718.82 625.15) rotate(282.68) scale(0.68 1)" x="1.47" y="-2">-0.8</text>
<text transform="translate(751.32 421.64) rotate(-90) scale(0.68 1)">0.9</text>
<text transform="translate(742.5 217.83) rotate(-96.03) scale(0.68 1)" x="-1.47" y="-2" text-anchor="end">0.9</text>
<text transform="translate(742.5 629.05) rotate(276.03) scale(0.68 1)" x="1.47" y="-2">-0.9</text>
<text transform="translate(762.2 421.64) rotate(-90) scale(0.68 1)">1.0</text>
<text transform="translate(764.2 216.69) rotate(-90) scale(0.68 1)" x="-1.47" y="-2" text-anchor="end">1.0</text>
<text transform="translate(764.2 630.19) rotate(270) scale(0.68 1)" x="1.47" y="-2">-1.0</text>
<text transform="translate(781 421.64) rotate(-90) scale(0.68 1)">1.2</text>
<text transform="translate(801.48 220.08) rotate(-79.61) scale(0.68 1)" x="-1.47" y="-2" text-anchor="end">1.2</text>
<text transform="translate(801.48 626.8) rotate(259.61) scale(0.68 1)" x="1.47" y="-2">-1.2</text>
<text transform="translate(796.66 421.64) rotate(-90) scale(0.68 1)">1.4</text>
<text transform="translate(831.25 227.87) rotate(-71.08) scale(0.68 1)" x="-1.47" y="-2" text-anchor="end">1.4</text>
<text transform="translate(831.25 619.01) rotate(251.08) scale(0.68 1)" x="1.47" y="-2">-1.4</text>
<text transform="translate(809.91 421.64) rotate(-90) scale(0.68 1)">1.6</text>
<text transform="translate(854.8 237.6) rotate(-64.01) scale(0.68 1)" x="-1.47" y="-2" text-anchor="end">1.6</text>
<text transform="translate(854.8 609.28) rotate(244.01) scale(0.68 1)" x="1.47" y="-2">-1.6</text>
<text transform="translate(821.27 421.64) rotate(-90) scale(0.68 1)">1.8</text>
<text transform="translate(873.43 247.9) rotate(-58.11) scale(0.68 1)" x="-1.47" y="-2" text-anchor="end">1.8</text>
<text transform="translate(873.43 598.98) rotate(238.11) scale(0.68 1)" x="1.47" y="-2">-1.8</text>
<text transform="translate(831.12 421.64) rotate(-90) scale(0.68 1)">2.0</text>
<text transform="translate(888.25 258.04) rotate(-53.13) scale(0.68 1)" x="-1.47" y="-2" text-anchor="end">2.0</text>
<text transform="translate(888.25 588.84) rotate(233.13) scale(0.68 1)" x="1.47" y="-2">-2.0</text>
<text transform="translate(865.58 421.64) rotate(-90) scale(0.68 1)">3.0</text>
<text transform="translate(929.6 299.39) rotate(-36.87) scale(0.68 1)" x="-1.47" y="-2" text-anchor="end">3.0</text>
<text transform="translate(929.6 547.49) rotate(216.87) scale(0.68 1)" x="1.47" y="-2">-3.0</text>
<text transform="translate(886.25 421.64) rotate(-90) scale(0.68 1)">4.0</text>
<text transform="translate(946.63 326.15) rotate(-28.07) scale(0.68 1)" x="-1.47" y="-2" text-anchor="end">4.0</text>
<text transform="translate(946.63 520.73) rotate(208.07) scale(0.68 1)" x="1.47" y="-2">-4.0</text>
<text transform="translate(900.03 421.64) rotate(-90) scale(0.68 1)">5.0</text>
<text transform="translate(955.05 343.92) rotate(-22.62) scale(0.68 1)" x="-1.47" y="-2" text-anchor="end">5.0</text>
<text transform="translate(955.05 502.96) rotate(202.62) scale(0.68 1)" x="1.47" y="-2">-5.0</text>
<text transform="translate(931.36 421.64) rotate(-90) scale(0.68 1)">10</text>
<text transform="translate(966.86 382.5) rotate(-11.42) scale(0.68 1)" x="-1.47" y="-2" text-anchor="end">10</text>
<text transform="translate(966.86 464.38) rotate(191.42) scale(0.68 1)" x="1.47" y="-2">-10</text>
<text transform="translate(949.26 421.64) rotate(-90) scale(0.68 1)">20</text>
<text transform="translate(969.92 402.82) rotate(-5.72) scale(0.68 1)" x="-1.47" y="-2" text-anchor="end">20</text>
<text transform="translate(969.92 444.06) rotate(185.72) scale(0.68 1)" x="1.47" y="-2">-20</text>
</g>
<g shape-rendering="crispEdges" fill="none" stroke-width="1">
<path stroke="#000" d="M753 216.5h22M741 217.5h12M775 217.5h12M733 218.5h8M787 218.5h8M727 219.5h6M795 219.5h6M722 220.5h5M801 220.5h5M717 221.5h5M806 221.5h4M713 222.5h4M810 222.5h4M709 223.5h4M814 223.5h4M706 224.5h3M818 224.5h4M702 225.5h4M822 225.5h3M699 226.5h3M825 226.5h3M696 227.5h3M828 227.5h3M693 228.5h3M831 228.5h3M691 229.5h2M834 229.5h3M688 230.5h3M837 230.5h2M686 231.5h2M839 231.5h3M683 232.5h3M842 232.5h2M681 233.5h2M844 233.5h3M679 234.5h2M847 234.5h2M677 235.5h2M849 235.5h2M675 236.5h2M851 236.5h2M672 237.5h3M853 237.5h2M670 238.5h2M855 238.5h2M669 239.5h1M857 239.5h2M667 240.5h2M859 240.5h2M665 241.5h2M861 241.5h2M663 242.5h2M863 242.5h2M661 243.5h2M865 243.5h1M659 244.5h2M866 244.5h2M658 245.5h1M868 245.5h2M656 246.5h2M870 246.5h2M654 247.5h2M872 247.5h1M653 248.5h1M873 248.5h2M651 249.5h2M875 249.5h1M650 250.5h1M876 250.5h2M648 251.5h2M878 251.5h1M647 252.5h1M879 252.5h2M645 253.5h2M881 253.5h1M644 254.5h1M882 254.5h2M643 255.5h1M884 255.5h1M641 256.5h2M885 256.5h2M640 257.5h1M887 257.5h1M639 258.5h1M888 258.5h1M637 259.5h2M889 259.5h1M636 260.5h1M890 260.5h2M635 261.5h1M892 261.5h1M633 262.5h2M893 262.5h1M632 263.5h1M894 263.5h1M631 264.5h1M895 264.5h2M630 265.5h1M897 265.5h1M629 266.5h1M898 266.5h1M628 267.5h1M899 267.5h1M627 268.5h1M900 268.5h1M626 269.5h1M901 269.5h1M625 270.5h1M902 270.5h2M624 271.5h1M904 271.5h1M623 272.5h1M905 272.5h1M622 273.5h1M906 273.5h1M621 274.5h1M907 274.5h1M620 275.5h1M908 275.5h1M619 276.5h1M909 276.5h1M618 277.5h1M910 277.5h1M617 278.5h1M911 278.5h1M616 279.5h1M912 279.5h1M615 280.5h1M913 280.5h1M614 281.5h1M914 281.5h1M613 282.5h1M915 282.5h1M612 283.5h1M916 283.5h1M611 284.5h1M917 284.5h1M610 285.5h1M918 285.5h1M609 286.5h1M919 286.5h1M608 287.5h1M920 287.5h1M921 288.5h1M606 290.5h1M605 291.5h1M923 291.5h1M604 292.5h1M924 292.5h1M603 293.5h1M925 293.5h1M601 296.5h1M927 296.5h1M600 297.5h1M928 297.5h1M599 298.5h1M930 300.5h1M597 301.5h1M931 301.5h1M595 304.5h1M933 304.5h1M934 305.5h1M593 307.5h1M592 308.5h1M937 310.5h1M589 313.5h1M939 313.5h1M587 316.5h1M942 318.5h1M584 321.5h1M946 325.5h1M557 423.5h412M946 520.5h1M582 522.5h1M942 527.5h1M586 529.5h1M939 532.5h1M589 534.5h1M591 537.5h1M936 537.5h1M593 540.5h1M934 540.5h1M933 541.5h1M595 543.5h1M596 544.5h1M931 544.5h1M598 547.5h1M929 547.5h1M599 548.5h1M928 548.5h1M601 551.5h1M926 551.5h1M602 552.5h1M925 552.5h1M924 553.5h1M923 554.5h1M604 555.5h1M605 556.5h1M606 557.5h1M921 557.5h1M607 558.5h1M920 558.5h1M608 559.5h1M919 559.5h1M609 560.5h1M918 560.5h1M610 561.5h1M917 561.5h1M611 562.5h1M916 562.5h1M612 563.5h1M613 564.5h1M614 565.5h1M914 565.5h1M615 566.5h1M913 566.5h1M616 567.5h1M912 567.5h1M617 568.5h1M911 568.5h1M618 569.5h1M910 569.5h1M619 570.5h1M909 570.5h1M620 571.5h1M908 571.5h1M621 572.5h1M907 572.5h1M622 573.5h1M906 573.5h1M623 574.5h1M905 574.5h1M624 575.5h1M904 575.5h1M625 576.5h1M903 576.5h1M626 577.5h1M902 577.5h1M627 578.5h1M901 578.5h1M628 579.5h2M900 579.5h1M630 580.5h1M899 580.5h1M631 581.5h1M897 581.5h2M632 582.5h1M896 582.5h1M633 583.5h1M895 583.5h1M634 584.5h2M894 584.5h1M636 585.5h1M892 585.5h2M637 586.5h1M891 586.5h1M638 587.5h1M890 587.5h1M639 588.5h2M888 588.5h2M641 589.5h1M887 589.5h1M642 590.5h2M886 590.5h1M644 591.5h1M884 591.5h2M645 592.5h1M883 592.5h1M646 593.5h2M881 593.5h2M648 594.5h1M880 594.5h1M649 595.5h2M879 595.5h1M651 596.5h1M877 596.5h2M652 597.5h2M875 597.5h2M654 598.5h1M874 598.5h1M655 599.5h2M872 599.5h2M657 600.5h2M870 600.5h2M659 601.5h1M869 601.5h1M660 602.5h2M867 602.5h2M662 603.5h2M865 603.5h2M664 604.5h2M864 604.5h1M666 605.5h2M862 605.5h2M668 606.5h2M860 606.5h2M670 607.5h2M858 607.5h2M672 608.5h1M856 608.5h2M673 609.5h3M854 609.5h2M676 610.5h2M851 610.5h3M678 611.5h2M849 611.5h2M680 612.5h2M847 612.5h2M682 613.5h2M845 613.5h2M684 614.5h3M842 614.5h3M687 615.5h2M840 615.5h2M689 616.5h3M837 616.5h3M692 617.5h3M835 617.5h2M695 618.5h3M832 618.5h3M698 619.5h2M829 619.5h3M700 620.5h4M826 620.5h3M704 621.5h3M822 621.5h4M707 622.5h3M819 622.5h3M710 623.5h4M815 623.5h4M714 624.5h5M811 624.5h4M719 625.5h4M806 625.5h5M723 626.5h5M801 626.5h5M728 627.5h7M795 627.5h6M735 628.5h7M787 628.5h8M742 629.5h14M774 629.5h13M756 630.5h18M557.5 409v14M557.5 424v15M558.5 399v10M558.5 439v10M559.5 391v8M559.5 449v7M560.5 386v5M560.5 456v6M561.5 381v5M561.5 462v5M562.5 376v5M562.5 467v4M563.5 372v4M563.5 471v5M564.5 369v3M564.5 476v3M565.5 365v4M565.5 479v4M566.5 362v3M566.5 483v3M567.5 359v3M567.5 486v3M568.5 356v3M568.5 489v3M569.5 353v3M569.5 492v3M570.5 350v3M570.5 495v2M571.5 348v2M571.5 497v3M572.5 345v3M572.5 500v3M573.5 343v2M573.5 503v2M574.5 341v2M574.5 505v2M575.5 338v3M575.5 507v2M576.5 336v2M576.5 509v3M577.5 334v2M577.5 512v2M578.5 332v2M578.5 514v2M579.5 330v2M579.5 516v2M580.5 328v2M580.5 518v2M581.5 326v2M581.5 520v2M582.5 324v2M583.5 322v2M583.5 523v2M584.5 525v2M585.5 319v2M585.5 527v2M586.5 317v2M587.5 530v2M588.5 314v2M588.5 532v2M590.5 311v2M590.5 535v2M591.5 309v2M592.5 538v2M594.5 305v2M594.5 541v2M596.5 302v2M597.5 545v2M598.5 299v2M600.5 549v2M602.5 294v2M603.5 553v2M607.5 288v2M915.5 563v2M922.5 289v2M922.5 555v2M926.5 294v2M927.5 549v2M929.5 298v2M930.5 545v2M932.5 302v2M932.5 542v2M935.5 306v2M935.5 538v2M936.5 308v2M937.5 535v2M938.5 311v2M938.5 533v2M940.5 314v2M940.5 530v2M941.5 316v2M941.5 528v2M943.5 319v2M943.5 525v2M944.5 321v2M944.5 523v2M945.5 323v2M945.5 521v2M947.5 326v2M947.5 518v2M948.5 328v2M948.5 516v2M949.5 330v2M949.5 514v2M950.5 332v2M950.5 512v2M951.5 334v3M951.5 509v3M952.5 337v2M952.5 507v2M953.5 339v2M953.5 505v2M954.5 341v2M954.5 503v2M955.5 343v3M955.5 500v3M956.5 346v2M956.5 498v2M957.5 348v3M957.5 495v3M958.5 351v3M958.5 492v3M959.5 354v3M959.5 489v3M960.5 357v3M960.5 486v3M961.5 360v3M961.5 483v3M962.5 363v3M962.5 480v3M963.5 366v4M963.5 476v4M964.5 370v4M964.5 472v4M965.5 374v4M965.5 468v4M966.5 378v5M966.5 463v5M967.5 383v5M967.5 458v5M968.5 388v7M968.5 451v7M969.5 395v8M969.5 443v8M970.5 403v20M970.5 424v19"/>
</g>
<g fill="none" stroke-width="1" shape-rendering="crispEdges">
<path stroke="#f00" d="M151.5 421v2M152.5 419v2M153.5 417v2M154.5 415v2M155.5 402v13"/>
<path stroke="#00f" d="M391 490.5h1M392.5 488v2M393.5 485v3M394.5 482v3M395.5 479v3M396.5 475v4M397.5 471v4M398.5 467v4M399.5 463v4M400.5 388v3M400.5 459v4M401.5 391v6M401.5 453v6M402.5 397v8M402.5 446v7M403.5 405v41"/>
<path stroke="#f00" d="M640 404.5h1M639.5 405v2"/>
<path stroke="#00f" d="M883.5 460v5M884.5 455v5M885.5 450v5M886.5 444v6M887.5 414v30"/>
</g>
<path fill="#000" shape-rendering="crispEdges" d="M150.39 404L160.39 404L155.39 414Z"/><text class="mk" transform="translate(141.46 398.9) scale(1.0 1)" style="letter-spacing:2.596px">m1</text>
<path fill="#000" shape-rendering="crispEdges" d="M398.85 428L408.85 428L403.85 438Z"/><text class="mk" transform="translate(389.56 422.9) scale(1.0 1)" style="letter-spacing:1.514px">m2</text>
<path fill="#000" shape-rendering="crispEdges" d="M636.2 395L646.2 395L641.2 405Z"/><text class="mk" transform="translate(626.16 390.5) scale(1.0 1)" style="letter-spacing:3.204px">m3</text>
<path fill="#000" shape-rendering="crispEdges" d="M882.13 431L892.13 431L887.13 441Z"/><text class="mk" transform="translate(872.46 426.5) scale(1.0 1)" style="letter-spacing:2.753px">m4</text>
<rect x="74.5" y="18.5" width="281" height="77" fill="#fff" stroke="#000" stroke-width="1" shape-rendering="crispEdges"/><text class="bx" transform="translate(74.76 35) scale(1.0 1)" style="letter-spacing:3.514px">m2</text><text class="bx" transform="translate(75.66 53) scale(1.0 1)" style="letter-spacing:0.677px">freq=200.0MHz</text><text class="bx" transform="translate(75.12 71) scale(1.0 1)" style="letter-spacing:0.616px">S(2,2)=0.596 / -6.362</text><text class="bx" transform="translate(74.75 89) scale(1.0 1)" style="letter-spacing:0.681px">impedance = Z0 * (3.783 - j0.776)</text>
<rect x="74.5" y="110.5" width="286" height="77" fill="#fff" stroke="#000" stroke-width="1" shape-rendering="crispEdges"/><text class="bx" transform="translate(74.76 127) scale(1.0 1)" style="letter-spacing:2.996px">m1</text><text class="bx" transform="translate(75.66 145) scale(1.0 1)" style="letter-spacing:0.661px">freq=200.0MHz</text><text class="bx" transform="translate(75.12 163) scale(1.0 1)" style="letter-spacing:0.572px">S(1,1)=0.611 / 175.212</text><text class="bx" transform="translate(74.75 181) scale(1.0 1)" style="letter-spacing:0.728px">impedance = Z0 * (0.242 + j0.039)</text>
<rect x="557.5" y="18.5" width="281" height="77" fill="#fff" stroke="#000" stroke-width="1" shape-rendering="crispEdges"/><text class="bx" transform="translate(558.16 35) scale(1.0 1)" style="letter-spacing:1.453px">m4</text><text class="bx" transform="translate(559.06 53) scale(1.0 1)" style="letter-spacing:0.644px">freq=200.0MHz</text><text class="bx" transform="translate(558.52 71) scale(1.0 1)" style="letter-spacing:0.594px">S(6,6)=0.600 / -7.715</text><text class="bx" transform="translate(558.15 89) scale(1.0 1)" style="letter-spacing:0.669px">impedance = Z0 * (3.749 - j0.945)</text>
<rect x="557.5" y="110.5" width="286" height="77" fill="#fff" stroke="#000" stroke-width="1" shape-rendering="crispEdges"/><text class="bx" transform="translate(558.16 127) scale(1.0 1)" style="letter-spacing:2.204px">m3</text><text class="bx" transform="translate(559.06 145) scale(1.0 1)" style="letter-spacing:0.644px">freq=200.0MHz</text><text class="bx" transform="translate(558.52 163) scale(1.0 1)" style="letter-spacing:0.620px">S(5,5)=0.602 / 171.190</text><text class="bx" transform="translate(558.15 181) scale(1.0 1)" style="letter-spacing:0.687px">impedance = Z0 * (0.250 + j0.072)</text>
<text class="ax" transform="translate(179.33 655.6) scale(1.03 1)" style="letter-spacing:0.105px">freq (175.0MHz to 230.0MHz)</text>
<text class="ax" transform="translate(662.48 655.6) scale(1.03 1)" style="letter-spacing:0.100px">freq (175.0MHz to 230.0MHz)</text>
<text class="tr" fill="#00f" transform="translate(42 444.1) rotate(-90) scale(1.03 1)" x="-0.67" style="letter-spacing:0.393px">S(2,2)</text>
<text class="tr" fill="#f00" transform="translate(57 444.1) rotate(-90) scale(1.03 1)" x="-0.67" style="letter-spacing:0.393px">S(1,1)</text>
<text class="tr" fill="#00f" transform="translate(524.9 443.9) rotate(-90) scale(1.03 1)" x="-0.67" style="letter-spacing:0.316px">S(6,6)</text>
<text class="tr" fill="#f00" transform="translate(539.9 443.9) rotate(-90) scale(1.03 1)" x="-0.67" style="letter-spacing:0.316px">S(5,5)</text>
</svg></body></html>
